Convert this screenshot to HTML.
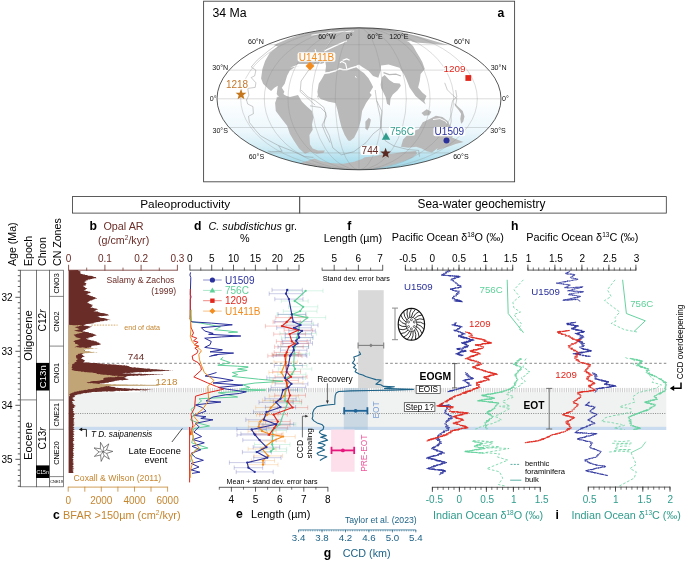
<!DOCTYPE html>
<html lang="en"><head><meta charset="utf-8"><title>Figure</title><style>html,body{margin:0;padding:0;background:#fff}svg{display:block}</style></head><body>
<svg width="685" height="562" viewBox="0 0 685 562" font-family="'Liberation Sans', Arial, sans-serif">
<rect x="0" y="0" width="685" height="562" fill="#fff"/>
<rect x="203.6" y="1.2" width="311.0" height="180.6" fill="#fff" stroke="#444" stroke-width="0.9" />
<text x="212.5" y="17.1" font-size="12.3" fill="#000" text-anchor="start" font-weight="normal" font-style="normal" >34 Ma</text>
<text x="497.4" y="16.6" font-size="12.2" fill="#000" text-anchor="start" font-weight="bold" font-style="normal" >a</text>
<defs><linearGradient id="sea" x1="0" y1="0" x2="0" y2="1"><stop offset="0" stop-color="#fff"/><stop offset="0.5" stop-color="#fff"/><stop offset="0.73" stop-color="#ecf7fc"/><stop offset="0.83" stop-color="#d6eef6"/><stop offset="0.93" stop-color="#afdfed"/><stop offset="1" stop-color="#9bd6e9"/></linearGradient><clipPath id="ell"><ellipse cx="359.0" cy="98.8" rx="142.0" ry="71.0"/></clipPath></defs>
<ellipse cx="359.0" cy="98.8" rx="142.0" ry="71.0" fill="url(#sea)"/>
<g clip-path="url(#ell)">
<polygon points="273.8,45.0 287.8,39.0 305.0,33.0 316.7,29.0 330.1,27.7 330.1,41.0 324.0,50.4 324.0,63.1 320.7,64.0 298.0,64.0 296.7,65.1 290.0,67.7 300.5,65.7 295.1,67.1 289.8,70.4 287.1,75.7 284.7,83.8 281.8,87.8 284.4,91.8 283.1,94.4 278.0,96.0 276.7,93.9 277.8,85.8 274.4,87.8 271.1,91.1 268.4,89.1 263.1,83.8 261.1,78.4 262.4,69.1 265.1,61.1 269.7,53.0 277.8,46.4" fill="#b9b9b9" />
<polygon points="277.8,94.4 283.1,93.8 287.1,97.1 289.8,101.8 284.4,102.4 280.4,99.8" fill="#b9b9b9" />
<polygon points="324.0,63.1 324.0,50.4 330.1,41.0 330.1,27.7 356.8,26.6 380.0,27.4 391.7,30.3 418.4,36.3 447.8,45.0 431.8,43.7 415.7,42.4 407.7,41.0 413.0,46.0 416.4,52.0 419.5,57.0 422.3,62.1 424.8,68.9 420.6,74.0 419.8,80.8 418.1,87.5 422.3,92.6 426.5,96.0 424.3,101.1 425.7,104.4 421.4,101.1 415.5,96.0 409.6,87.5 406.2,79.1 403.9,74.3 399.5,67.7 388.5,64.4 381.5,65.5 381.2,65.0 380.6,70.8 378.3,77.7 373.1,76.0 368.5,70.8 362.7,67.3 359.2,64.8 355.0,66.6 351.3,68.0 346.7,69.5 339.5,68.5 335.4,70.5 325.2,72.8 326.0,66.0 325.0,60.0" fill="#b9b9b9" />
<polyline points="324.0,51.2 334.1,46.4 343.4,42.4 346.7,40.8" fill="none" stroke="#fff" stroke-width="1.3" stroke-linejoin="round" />
<polyline points="311.4,35.1 330.1,32.5 354.1,31.0" fill="none" stroke="#fff" stroke-width="0.9" stroke-linejoin="round" />
<polyline points="315.1,49.3 316.2,53.3" fill="none" stroke="#fff" stroke-width="1.0" stroke-linejoin="round" />
<polyline points="318.7,63.5 321.0,62.7" fill="none" stroke="#fff" stroke-width="0.8" stroke-linejoin="round" />
<polygon points="406.4,41.3 411.1,42.1 418.4,45.0 415.7,43.4 410.4,40.8" fill="#fff" />
<polyline points="421.1,50.4 424.4,55.0 426.4,57.7" fill="none" stroke="#fff" stroke-width="0.9" stroke-linejoin="round" />
<polygon points="325.2,72.8 335.4,70.5 339.5,68.5 346.7,69.5 351.3,68.0 356.0,67.0 359.8,70.2 363.9,73.1 368.5,78.3 371.4,83.5 373.1,87.0 369.7,92.8 371.7,95.0 366.1,103.0 362.1,111.0 360.8,120.4 358.1,129.7 354.1,137.7 350.1,141.1 348.1,140.4 344.7,135.1 341.4,127.0 339.4,119.0 337.4,109.7 335.4,103.0 328.7,101.7 320.7,99.0 316.7,95.0 318.7,100.0 317.4,91.8 318.7,83.8 322.0,78.4" fill="#b9b9b9" />
<polyline points="323.0,73.4 330.0,72.4 335.4,70.8 339.5,68.8 343.0,69.8 346.7,69.7 351.3,68.0 356.0,66.6 359.4,65.2" fill="none" stroke="#fff" stroke-width="1.5" stroke-linejoin="round" />
<polyline points="346.9,69.4 345.6,63.6 341.8,61.4 340.0,62.8" fill="none" stroke="#fff" stroke-width="1.1" stroke-linejoin="round" />
<polyline points="342.6,60.4 346.7,58.9 349.6,60.2" fill="none" stroke="#fff" stroke-width="1.2" stroke-linejoin="round" />
<polyline points="375.7,78.7 378.1,87.8 380.0,100.0" fill="none" stroke="#fff" stroke-width="0.1" stroke-linejoin="round" />
<polyline points="355.2,76.0 356.5,78.1" fill="none" stroke="#fff" stroke-width="0.8" stroke-linejoin="round" />
<polygon points="365.4,121.7 368.8,117.7 370.9,119.8 369.6,126.0 367.4,130.5 365.4,128.4" fill="#b9b9b9" />
<polygon points="380.6,84.7 381.8,77.2 384.7,74.9 389.3,80.1 393.9,82.9 399.7,83.5 400.9,85.8 397.4,90.5 392.8,94.5 390.5,98.6 389.9,105.5 387.0,103.8 385.8,97.4 383.5,92.8 381.2,88.2" fill="#b9b9b9" />
<polyline points="383.5,72.6 389.3,74.6 396.2,74.2 400.9,76.0" fill="none" stroke="#b9b9b9" stroke-width="1.2" stroke-linejoin="round" />
<polygon points="277.8,95.0 275.1,103.0 275.8,111.0 281.8,119.0 287.1,125.7 289.8,133.7 293.8,140.4 299.1,148.4 305.0,153.8 310.0,151.7 316.7,153.8 323.4,153.1 325.0,150.4 318.0,150.4 312.7,148.4 310.0,144.4 309.4,135.1 312.7,129.7 312.0,124.4 313.4,117.7 312.0,111.0 307.4,107.0 302.0,101.7 298.0,95.0 290.0,97.1 282.0,94.4 276.6,97.8" fill="#b9b9b9" />
<polygon points="306.0,161.4 311.4,159.4 314.3,158.6 320.7,161.0 330.1,163.1 343.4,163.8 354.1,161.8 362.1,159.1 364.8,157.2 380.0,155.8 373.0,156.4 382.4,154.4 391.7,153.8 405.1,151.7 416.0,151.1 417.1,153.8 412.0,157.8 405.1,160.4 391.7,165.0 378.4,168.2 365.0,170.0 365.0,180.5 290.0,180.5" fill="#b9b9b9" />
<polygon points="300.0,163.0 306.0,161.5 313.0,160.0 318.0,163.0 322.0,170.0 306.0,168.0" fill="#b9b9b9" />
<polygon points="401.0,146.8 403.1,139.4 409.6,132.8 418.8,128.9 422.8,122.3 430.6,118.4 435.9,115.8 442.5,117.1 447.7,121.0 450.4,126.3 454.3,134.2 450.4,139.4 443.8,143.4 437.2,148.6 432.0,152.5 426.7,151.2 421.5,148.6 416.2,146.8 408.3,147.8" fill="#b9b9b9" />
<polygon points="421.5,113.1 426.7,109.2 431.4,111.8 429.3,115.2 424.1,115.8" fill="#b9b9b9" />
<polyline points="433.0,119.5 440.0,118.6 445.5,121.2 447.2,123.6" fill="none" stroke="#fff" stroke-width="0.9" stroke-linejoin="round" />
<polygon points="439.8,142.0 450.4,136.8 456.9,139.4 463.5,142.0 455.6,144.1 450.4,146.0 442.5,148.6 436.7,150.4" fill="#b9b9b9" />
<polygon points="454.4,103.0 458.4,107.0 462.7,111.0 464.5,116.4 463.2,121.7 461.1,123.8 460.3,119.0 461.1,113.7 458.4,109.7 455.0,105.7" fill="#b9b9b9" />
<ellipse cx="359.0" cy="98.8" rx="23.7" ry="71.0" fill="none" stroke="#8e8e8e" stroke-width="0.32"/>
<ellipse cx="359.0" cy="98.8" rx="47.3" ry="71.0" fill="none" stroke="#8e8e8e" stroke-width="0.32"/>
<ellipse cx="359.0" cy="98.8" rx="71.0" ry="71.0" fill="none" stroke="#8e8e8e" stroke-width="0.32"/>
<ellipse cx="359.0" cy="98.8" rx="94.7" ry="71.0" fill="none" stroke="#8e8e8e" stroke-width="0.32"/>
<ellipse cx="359.0" cy="98.8" rx="118.3" ry="71.0" fill="none" stroke="#8e8e8e" stroke-width="0.32"/>
<line x1="359.0" y1="27.8" x2="359.0" y2="169.8" stroke="#8e8e8e" stroke-width="0.32" />
<line x1="217.0" y1="98.8" x2="501.0" y2="98.8" stroke="#8e8e8e" stroke-width="0.32" />
<line x1="217.0" y1="70.1" x2="501.0" y2="70.1" stroke="#8e8e8e" stroke-width="0.32" />
<line x1="217.0" y1="127.5" x2="501.0" y2="127.5" stroke="#8e8e8e" stroke-width="0.32" />
<line x1="217.0" y1="44.7" x2="501.0" y2="44.7" stroke="#8e8e8e" stroke-width="0.32" />
<line x1="217.0" y1="152.9" x2="501.0" y2="152.9" stroke="#8e8e8e" stroke-width="0.32" />
<polyline points="277.4,44.3 267.8,51.3 257.3,60.0 251.2,67.0 255.9,70.2 254.7,75.8 251.2,77.6 255.9,82.8 255.2,87.4 247.7,88.4 248.9,95.1 246.4,100.3" fill="none" stroke="#7d7d7d" stroke-width="0.4" stroke-linejoin="round" />
<polyline points="246.4,99.6 247.7,104.0 252.9,106.6 253.4,113.7 248.5,116.3 249.4,122.4 255.6,130.3 260.8,135.9 269.6,140.8 278.7,145.7 282.2,151.3 271.3,151.7 267.8,151.0" fill="none" stroke="#7d7d7d" stroke-width="0.4" stroke-linejoin="round" />
<polyline points="278.7,145.7 292.3,151.0 304.6,156.6 313.4,157.4" fill="none" stroke="#7d7d7d" stroke-width="0.4" stroke-linejoin="round" />
<polyline points="322.1,54.8 315.1,62.7 308.1,70.9 301.1,81.1 300.2,91.6 308.1,98.6 315.1,105.1" fill="none" stroke="#7d7d7d" stroke-width="0.4" stroke-linejoin="round" />
<polyline points="301.1,90.0 308.1,97.0 315.1,100.5 323.9,107.5 326.5,116.3 322.1,125.0 325.6,133.8 330.0,142.6" fill="none" stroke="#7d7d7d" stroke-width="0.4" stroke-linejoin="round" />
<polyline points="310.0,105.8 320.5,107.5 325.8,112.8 324.0,125.0 329.3,135.6 332.8,147.8 341.5,154.8 353.8,151.7 366.1,142.6 373.1,133.8 381.0,127.7 380.1,116.3 376.6,100.5 375.2,90.0" fill="none" stroke="#7d7d7d" stroke-width="0.4" stroke-linejoin="round" />
<polyline points="381.0,127.7 385.3,140.8 394.1,146.1 408.1,149.6 418.6,150.4 419.5,156.6" fill="none" stroke="#7d7d7d" stroke-width="0.4" stroke-linejoin="round" />
<polyline points="376.6,100.5 381.8,111.0 381.0,127.7" fill="none" stroke="#7d7d7d" stroke-width="0.4" stroke-linejoin="round" />
<polyline points="444.7,82.8 447.3,89.8 452.6,95.1 456.9,98.6 455.7,105.1" fill="none" stroke="#7d7d7d" stroke-width="0.4" stroke-linejoin="round" />
<polyline points="455.7,90.0 456.9,97.0 452.6,100.5 450.8,109.3 451.2,121.5 449.1,130.3" fill="none" stroke="#7d7d7d" stroke-width="0.4" stroke-linejoin="round" />
</g>
<ellipse cx="359.0" cy="98.8" rx="142.0" ry="71.0" fill="none" stroke="#222" stroke-width="0.75"/>
<text x="255.9" y="44.4" font-size="7.1" fill="#111" text-anchor="middle" font-weight="normal" font-style="normal" >60°N</text>
<text x="220.2" y="70.2" font-size="7.1" fill="#111" text-anchor="middle" font-weight="normal" font-style="normal" >30°N</text>
<text x="213.1" y="101.4" font-size="7.1" fill="#111" text-anchor="middle" font-weight="normal" font-style="normal" >0°</text>
<text x="220.2" y="132.6" font-size="7.1" fill="#111" text-anchor="middle" font-weight="normal" font-style="normal" >30°S</text>
<text x="256.4" y="158.9" font-size="7.1" fill="#111" text-anchor="middle" font-weight="normal" font-style="normal" >60°S</text>
<text x="461.9" y="44.4" font-size="7.1" fill="#111" text-anchor="middle" font-weight="normal" font-style="normal" >60°N</text>
<text x="498.6" y="70.2" font-size="7.1" fill="#111" text-anchor="middle" font-weight="normal" font-style="normal" >30°N</text>
<text x="505.5" y="101.4" font-size="7.1" fill="#111" text-anchor="middle" font-weight="normal" font-style="normal" >0°</text>
<text x="498.1" y="132.6" font-size="7.1" fill="#111" text-anchor="middle" font-weight="normal" font-style="normal" >30°S</text>
<text x="460.9" y="158.9" font-size="7.1" fill="#111" text-anchor="middle" font-weight="normal" font-style="normal" >60°S</text>
<text x="326.9" y="39.2" font-size="7.1" fill="#111" text-anchor="middle" font-weight="normal" font-style="normal" >60°W</text>
<text x="349.2" y="39.2" font-size="7.1" fill="#111" text-anchor="middle" font-weight="normal" font-style="normal" >0°</text>
<text x="375.0" y="39.2" font-size="7.1" fill="#111" text-anchor="middle" font-weight="normal" font-style="normal" >60°E</text>
<text x="398.9" y="39.2" font-size="7.1" fill="#111" text-anchor="middle" font-weight="normal" font-style="normal" >120°E</text>
<text x="237.0" y="88.3" font-size="10" fill="#c5782a" text-anchor="middle" stroke="#fff" stroke-width="2.6" stroke-linejoin="round" stroke-opacity="0.9" paint-order="stroke">1218</text>
<polygon points="241.0,88.9 242.4,92.7 246.4,92.8 243.3,95.3 244.4,99.2 241.0,97.0 237.6,99.2 238.7,95.3 235.6,92.8 239.6,92.7" fill="#c4771d" />
<rect x="297.6" y="52.3" width="37.8" height="9.4" rx="2" ry="2" fill="#fff" fill-opacity="0.92"/>
<text x="316.5" y="60.6" font-size="10" fill="#f28c1e" text-anchor="middle" font-weight="normal" font-style="normal" >U1411B</text>
<polygon points="310.0,61.7 314.4,66.1 310.0,70.5 305.6,66.1" fill="#f28c1e" />
<text x="454.4" y="72.0" font-size="9.9" fill="#e1261c" text-anchor="middle" stroke="#fff" stroke-width="2.6" stroke-linejoin="round" stroke-opacity="0.9" paint-order="stroke">1209</text>
<rect x="465.4" y="75.1" width="5.8" height="5.8" fill="#e1261c" stroke="none" stroke-width="1" />
<rect x="388.8" y="126.3" width="26.3" height="9.4" rx="2" ry="2" fill="#fff" fill-opacity="0.92"/>
<text x="390.0" y="134.6" font-size="10" fill="#2f9c8c" text-anchor="start" font-weight="normal" font-style="normal" >756C</text>
<polygon points="386.0,132.4 390.2,139.8 381.8,139.8" fill="#2f9c8c" />
<rect x="360.4" y="145.6" width="19.1" height="9.4" rx="2" ry="2" fill="#fff" fill-opacity="0.92"/>
<text x="361.6" y="153.9" font-size="10" fill="#6a2c27" text-anchor="start" font-weight="normal" font-style="normal" >744</text>
<polygon points="385.6,147.7 387.0,151.4 390.9,151.6 387.8,154.0 388.9,157.8 385.6,155.7 382.3,157.8 383.4,154.0 380.3,151.6 384.2,151.4" fill="#5a2a22" />
<rect x="433.4" y="126.9" width="31.9" height="9.4" rx="2" ry="2" fill="#fff" fill-opacity="0.92"/>
<text x="434.6" y="135.2" font-size="10" fill="#2a309c" text-anchor="start" font-weight="normal" font-style="normal" >U1509</text>
<circle cx="446.5" cy="140.6" r="3.0" fill="#2a309c"/>
<rect x="68.6" y="392.3" width="597.7" height="34.7" fill="#f0f2f1" stroke="none" stroke-width="1" />
<rect x="68.6" y="426.8" width="597.7" height="3.2" fill="#c9dcef" stroke="none" stroke-width="1" />
<rect x="140.3" y="387.9" width="1.1" height="4.4" fill="#d0d0d0" stroke="none" stroke-width="1" />
<rect x="142.5" y="387.9" width="1.1" height="4.4" fill="#d0d0d0" stroke="none" stroke-width="1" />
<rect x="144.8" y="387.9" width="1.1" height="4.4" fill="#d0d0d0" stroke="none" stroke-width="1" />
<rect x="147.0" y="387.9" width="1.1" height="4.4" fill="#d0d0d0" stroke="none" stroke-width="1" />
<rect x="149.3" y="387.9" width="1.1" height="4.4" fill="#d0d0d0" stroke="none" stroke-width="1" />
<rect x="151.5" y="387.9" width="1.1" height="4.4" fill="#d0d0d0" stroke="none" stroke-width="1" />
<rect x="153.7" y="387.9" width="1.1" height="4.4" fill="#d0d0d0" stroke="none" stroke-width="1" />
<rect x="156.0" y="387.9" width="1.1" height="4.4" fill="#d0d0d0" stroke="none" stroke-width="1" />
<rect x="158.2" y="387.9" width="1.1" height="4.4" fill="#d0d0d0" stroke="none" stroke-width="1" />
<rect x="160.5" y="387.9" width="1.1" height="4.4" fill="#d0d0d0" stroke="none" stroke-width="1" />
<rect x="162.7" y="387.9" width="1.1" height="4.4" fill="#d0d0d0" stroke="none" stroke-width="1" />
<rect x="164.9" y="387.9" width="1.1" height="4.4" fill="#d0d0d0" stroke="none" stroke-width="1" />
<rect x="167.2" y="387.9" width="1.1" height="4.4" fill="#d0d0d0" stroke="none" stroke-width="1" />
<rect x="169.4" y="387.9" width="1.1" height="4.4" fill="#d0d0d0" stroke="none" stroke-width="1" />
<rect x="171.7" y="387.9" width="1.1" height="4.4" fill="#d0d0d0" stroke="none" stroke-width="1" />
<rect x="173.9" y="387.9" width="1.1" height="4.4" fill="#d0d0d0" stroke="none" stroke-width="1" />
<rect x="176.1" y="387.9" width="1.1" height="4.4" fill="#d0d0d0" stroke="none" stroke-width="1" />
<rect x="178.4" y="387.9" width="1.1" height="4.4" fill="#d0d0d0" stroke="none" stroke-width="1" />
<rect x="180.6" y="387.9" width="1.1" height="4.4" fill="#d0d0d0" stroke="none" stroke-width="1" />
<rect x="182.9" y="387.9" width="1.1" height="4.4" fill="#d0d0d0" stroke="none" stroke-width="1" />
<rect x="185.1" y="387.9" width="1.1" height="4.4" fill="#d0d0d0" stroke="none" stroke-width="1" />
<rect x="187.3" y="387.9" width="1.1" height="4.4" fill="#d0d0d0" stroke="none" stroke-width="1" />
<rect x="189.6" y="387.9" width="1.1" height="4.4" fill="#d0d0d0" stroke="none" stroke-width="1" />
<rect x="191.8" y="387.9" width="1.1" height="4.4" fill="#d0d0d0" stroke="none" stroke-width="1" />
<rect x="194.1" y="387.9" width="1.1" height="4.4" fill="#d0d0d0" stroke="none" stroke-width="1" />
<rect x="196.3" y="387.9" width="1.1" height="4.4" fill="#d0d0d0" stroke="none" stroke-width="1" />
<rect x="198.5" y="387.9" width="1.1" height="4.4" fill="#d0d0d0" stroke="none" stroke-width="1" />
<rect x="200.8" y="387.9" width="1.1" height="4.4" fill="#d0d0d0" stroke="none" stroke-width="1" />
<rect x="203.0" y="387.9" width="1.1" height="4.4" fill="#d0d0d0" stroke="none" stroke-width="1" />
<rect x="205.3" y="387.9" width="1.1" height="4.4" fill="#d0d0d0" stroke="none" stroke-width="1" />
<rect x="207.5" y="387.9" width="1.1" height="4.4" fill="#d0d0d0" stroke="none" stroke-width="1" />
<rect x="209.7" y="387.9" width="1.1" height="4.4" fill="#d0d0d0" stroke="none" stroke-width="1" />
<rect x="212.0" y="387.9" width="1.1" height="4.4" fill="#d0d0d0" stroke="none" stroke-width="1" />
<rect x="214.2" y="387.9" width="1.1" height="4.4" fill="#d0d0d0" stroke="none" stroke-width="1" />
<rect x="216.5" y="387.9" width="1.1" height="4.4" fill="#d0d0d0" stroke="none" stroke-width="1" />
<rect x="218.7" y="387.9" width="1.1" height="4.4" fill="#d0d0d0" stroke="none" stroke-width="1" />
<rect x="220.9" y="387.9" width="1.1" height="4.4" fill="#d0d0d0" stroke="none" stroke-width="1" />
<rect x="223.2" y="387.9" width="1.1" height="4.4" fill="#d0d0d0" stroke="none" stroke-width="1" />
<rect x="225.4" y="387.9" width="1.1" height="4.4" fill="#d0d0d0" stroke="none" stroke-width="1" />
<rect x="227.7" y="387.9" width="1.1" height="4.4" fill="#d0d0d0" stroke="none" stroke-width="1" />
<rect x="229.9" y="387.9" width="1.1" height="4.4" fill="#d0d0d0" stroke="none" stroke-width="1" />
<rect x="232.1" y="387.9" width="1.1" height="4.4" fill="#d0d0d0" stroke="none" stroke-width="1" />
<rect x="234.4" y="387.9" width="1.1" height="4.4" fill="#d0d0d0" stroke="none" stroke-width="1" />
<rect x="236.6" y="387.9" width="1.1" height="4.4" fill="#d0d0d0" stroke="none" stroke-width="1" />
<rect x="238.9" y="387.9" width="1.1" height="4.4" fill="#d0d0d0" stroke="none" stroke-width="1" />
<rect x="241.1" y="387.9" width="1.1" height="4.4" fill="#d0d0d0" stroke="none" stroke-width="1" />
<rect x="243.3" y="387.9" width="1.1" height="4.4" fill="#d0d0d0" stroke="none" stroke-width="1" />
<rect x="245.6" y="387.9" width="1.1" height="4.4" fill="#d0d0d0" stroke="none" stroke-width="1" />
<rect x="247.8" y="387.9" width="1.1" height="4.4" fill="#d0d0d0" stroke="none" stroke-width="1" />
<rect x="250.1" y="387.9" width="1.1" height="4.4" fill="#d0d0d0" stroke="none" stroke-width="1" />
<rect x="252.3" y="387.9" width="1.1" height="4.4" fill="#d0d0d0" stroke="none" stroke-width="1" />
<rect x="254.5" y="387.9" width="1.1" height="4.4" fill="#d0d0d0" stroke="none" stroke-width="1" />
<rect x="256.8" y="387.9" width="1.1" height="4.4" fill="#d0d0d0" stroke="none" stroke-width="1" />
<rect x="259.0" y="387.9" width="1.1" height="4.4" fill="#d0d0d0" stroke="none" stroke-width="1" />
<rect x="261.3" y="387.9" width="1.1" height="4.4" fill="#d0d0d0" stroke="none" stroke-width="1" />
<rect x="263.5" y="387.9" width="1.1" height="4.4" fill="#d0d0d0" stroke="none" stroke-width="1" />
<rect x="265.7" y="387.9" width="1.1" height="4.4" fill="#d0d0d0" stroke="none" stroke-width="1" />
<rect x="268.0" y="387.9" width="1.1" height="4.4" fill="#d0d0d0" stroke="none" stroke-width="1" />
<rect x="270.2" y="387.9" width="1.1" height="4.4" fill="#d0d0d0" stroke="none" stroke-width="1" />
<rect x="272.5" y="387.9" width="1.1" height="4.4" fill="#d0d0d0" stroke="none" stroke-width="1" />
<rect x="274.7" y="387.9" width="1.1" height="4.4" fill="#d0d0d0" stroke="none" stroke-width="1" />
<rect x="276.9" y="387.9" width="1.1" height="4.4" fill="#d0d0d0" stroke="none" stroke-width="1" />
<rect x="279.2" y="387.9" width="1.1" height="4.4" fill="#d0d0d0" stroke="none" stroke-width="1" />
<rect x="281.4" y="387.9" width="1.1" height="4.4" fill="#d0d0d0" stroke="none" stroke-width="1" />
<rect x="283.7" y="387.9" width="1.1" height="4.4" fill="#d0d0d0" stroke="none" stroke-width="1" />
<rect x="285.9" y="387.9" width="1.1" height="4.4" fill="#d0d0d0" stroke="none" stroke-width="1" />
<rect x="288.1" y="387.9" width="1.1" height="4.4" fill="#d0d0d0" stroke="none" stroke-width="1" />
<rect x="290.4" y="387.9" width="1.1" height="4.4" fill="#d0d0d0" stroke="none" stroke-width="1" />
<rect x="292.6" y="387.9" width="1.1" height="4.4" fill="#d0d0d0" stroke="none" stroke-width="1" />
<rect x="294.9" y="387.9" width="1.1" height="4.4" fill="#d0d0d0" stroke="none" stroke-width="1" />
<rect x="297.1" y="387.9" width="1.1" height="4.4" fill="#d0d0d0" stroke="none" stroke-width="1" />
<rect x="299.3" y="387.9" width="1.1" height="4.4" fill="#d0d0d0" stroke="none" stroke-width="1" />
<rect x="301.6" y="387.9" width="1.1" height="4.4" fill="#d0d0d0" stroke="none" stroke-width="1" />
<rect x="303.8" y="387.9" width="1.1" height="4.4" fill="#d0d0d0" stroke="none" stroke-width="1" />
<rect x="306.1" y="387.9" width="1.1" height="4.4" fill="#d0d0d0" stroke="none" stroke-width="1" />
<rect x="308.3" y="387.9" width="1.1" height="4.4" fill="#d0d0d0" stroke="none" stroke-width="1" />
<rect x="310.5" y="387.9" width="1.1" height="4.4" fill="#d0d0d0" stroke="none" stroke-width="1" />
<rect x="312.8" y="387.9" width="1.1" height="4.4" fill="#d0d0d0" stroke="none" stroke-width="1" />
<rect x="315.0" y="387.9" width="1.1" height="4.4" fill="#d0d0d0" stroke="none" stroke-width="1" />
<rect x="317.3" y="387.9" width="1.1" height="4.4" fill="#d0d0d0" stroke="none" stroke-width="1" />
<rect x="319.5" y="387.9" width="1.1" height="4.4" fill="#d0d0d0" stroke="none" stroke-width="1" />
<rect x="321.7" y="387.9" width="1.1" height="4.4" fill="#d0d0d0" stroke="none" stroke-width="1" />
<rect x="324.0" y="387.9" width="1.1" height="4.4" fill="#d0d0d0" stroke="none" stroke-width="1" />
<rect x="326.2" y="387.9" width="1.1" height="4.4" fill="#d0d0d0" stroke="none" stroke-width="1" />
<rect x="328.5" y="387.9" width="1.1" height="4.4" fill="#d0d0d0" stroke="none" stroke-width="1" />
<rect x="330.7" y="387.9" width="1.1" height="4.4" fill="#d0d0d0" stroke="none" stroke-width="1" />
<rect x="332.9" y="387.9" width="1.1" height="4.4" fill="#d0d0d0" stroke="none" stroke-width="1" />
<rect x="335.2" y="387.9" width="1.1" height="4.4" fill="#d0d0d0" stroke="none" stroke-width="1" />
<rect x="337.4" y="387.9" width="1.1" height="4.4" fill="#d0d0d0" stroke="none" stroke-width="1" />
<rect x="339.7" y="387.9" width="1.1" height="4.4" fill="#d0d0d0" stroke="none" stroke-width="1" />
<rect x="341.9" y="387.9" width="1.1" height="4.4" fill="#d0d0d0" stroke="none" stroke-width="1" />
<rect x="344.1" y="387.9" width="1.1" height="4.4" fill="#d0d0d0" stroke="none" stroke-width="1" />
<rect x="346.4" y="387.9" width="1.1" height="4.4" fill="#d0d0d0" stroke="none" stroke-width="1" />
<rect x="348.6" y="387.9" width="1.1" height="4.4" fill="#d0d0d0" stroke="none" stroke-width="1" />
<rect x="350.9" y="387.9" width="1.1" height="4.4" fill="#d0d0d0" stroke="none" stroke-width="1" />
<rect x="353.1" y="387.9" width="1.1" height="4.4" fill="#d0d0d0" stroke="none" stroke-width="1" />
<rect x="355.3" y="387.9" width="1.1" height="4.4" fill="#d0d0d0" stroke="none" stroke-width="1" />
<rect x="357.6" y="387.9" width="1.1" height="4.4" fill="#d0d0d0" stroke="none" stroke-width="1" />
<rect x="359.8" y="387.9" width="1.1" height="4.4" fill="#d0d0d0" stroke="none" stroke-width="1" />
<rect x="362.1" y="387.9" width="1.1" height="4.4" fill="#d0d0d0" stroke="none" stroke-width="1" />
<rect x="364.3" y="387.9" width="1.1" height="4.4" fill="#d0d0d0" stroke="none" stroke-width="1" />
<rect x="366.5" y="387.9" width="1.1" height="4.4" fill="#d0d0d0" stroke="none" stroke-width="1" />
<rect x="368.8" y="387.9" width="1.1" height="4.4" fill="#d0d0d0" stroke="none" stroke-width="1" />
<rect x="371.0" y="387.9" width="1.1" height="4.4" fill="#d0d0d0" stroke="none" stroke-width="1" />
<rect x="373.3" y="387.9" width="1.1" height="4.4" fill="#d0d0d0" stroke="none" stroke-width="1" />
<rect x="375.5" y="387.9" width="1.1" height="4.4" fill="#d0d0d0" stroke="none" stroke-width="1" />
<rect x="377.7" y="387.9" width="1.1" height="4.4" fill="#d0d0d0" stroke="none" stroke-width="1" />
<rect x="380.0" y="387.9" width="1.1" height="4.4" fill="#d0d0d0" stroke="none" stroke-width="1" />
<rect x="382.2" y="387.9" width="1.1" height="4.4" fill="#d0d0d0" stroke="none" stroke-width="1" />
<rect x="384.5" y="387.9" width="1.1" height="4.4" fill="#d0d0d0" stroke="none" stroke-width="1" />
<rect x="386.7" y="387.9" width="1.1" height="4.4" fill="#d0d0d0" stroke="none" stroke-width="1" />
<rect x="388.9" y="387.9" width="1.1" height="4.4" fill="#d0d0d0" stroke="none" stroke-width="1" />
<rect x="391.2" y="387.9" width="1.1" height="4.4" fill="#d0d0d0" stroke="none" stroke-width="1" />
<rect x="393.4" y="387.9" width="1.1" height="4.4" fill="#d0d0d0" stroke="none" stroke-width="1" />
<rect x="395.7" y="387.9" width="1.1" height="4.4" fill="#d0d0d0" stroke="none" stroke-width="1" />
<rect x="397.9" y="387.9" width="1.1" height="4.4" fill="#d0d0d0" stroke="none" stroke-width="1" />
<rect x="400.1" y="387.9" width="1.1" height="4.4" fill="#d0d0d0" stroke="none" stroke-width="1" />
<rect x="402.4" y="387.9" width="1.1" height="4.4" fill="#d0d0d0" stroke="none" stroke-width="1" />
<rect x="404.6" y="387.9" width="1.1" height="4.4" fill="#d0d0d0" stroke="none" stroke-width="1" />
<rect x="406.9" y="387.9" width="1.1" height="4.4" fill="#d0d0d0" stroke="none" stroke-width="1" />
<rect x="409.1" y="387.9" width="1.1" height="4.4" fill="#d0d0d0" stroke="none" stroke-width="1" />
<rect x="411.3" y="387.9" width="1.1" height="4.4" fill="#d0d0d0" stroke="none" stroke-width="1" />
<rect x="413.6" y="387.9" width="1.1" height="4.4" fill="#d0d0d0" stroke="none" stroke-width="1" />
<rect x="415.8" y="387.9" width="1.1" height="4.4" fill="#d0d0d0" stroke="none" stroke-width="1" />
<rect x="418.1" y="387.9" width="1.1" height="4.4" fill="#d0d0d0" stroke="none" stroke-width="1" />
<rect x="420.3" y="387.9" width="1.1" height="4.4" fill="#d0d0d0" stroke="none" stroke-width="1" />
<rect x="422.5" y="387.9" width="1.1" height="4.4" fill="#d0d0d0" stroke="none" stroke-width="1" />
<rect x="424.8" y="387.9" width="1.1" height="4.4" fill="#d0d0d0" stroke="none" stroke-width="1" />
<rect x="427.0" y="387.9" width="1.1" height="4.4" fill="#d0d0d0" stroke="none" stroke-width="1" />
<rect x="429.3" y="387.9" width="1.1" height="4.4" fill="#d0d0d0" stroke="none" stroke-width="1" />
<rect x="431.5" y="387.9" width="1.1" height="4.4" fill="#d0d0d0" stroke="none" stroke-width="1" />
<rect x="433.7" y="387.9" width="1.1" height="4.4" fill="#d0d0d0" stroke="none" stroke-width="1" />
<rect x="436.0" y="387.9" width="1.1" height="4.4" fill="#d0d0d0" stroke="none" stroke-width="1" />
<rect x="438.2" y="387.9" width="1.1" height="4.4" fill="#d0d0d0" stroke="none" stroke-width="1" />
<rect x="440.5" y="387.9" width="1.1" height="4.4" fill="#d0d0d0" stroke="none" stroke-width="1" />
<rect x="442.7" y="387.9" width="1.1" height="4.4" fill="#d0d0d0" stroke="none" stroke-width="1" />
<rect x="444.9" y="387.9" width="1.1" height="4.4" fill="#d0d0d0" stroke="none" stroke-width="1" />
<rect x="447.2" y="387.9" width="1.1" height="4.4" fill="#d0d0d0" stroke="none" stroke-width="1" />
<rect x="449.4" y="387.9" width="1.1" height="4.4" fill="#d0d0d0" stroke="none" stroke-width="1" />
<rect x="451.7" y="387.9" width="1.1" height="4.4" fill="#d0d0d0" stroke="none" stroke-width="1" />
<rect x="453.9" y="387.9" width="1.1" height="4.4" fill="#d0d0d0" stroke="none" stroke-width="1" />
<rect x="456.1" y="387.9" width="1.1" height="4.4" fill="#d0d0d0" stroke="none" stroke-width="1" />
<rect x="458.4" y="387.9" width="1.1" height="4.4" fill="#d0d0d0" stroke="none" stroke-width="1" />
<rect x="460.6" y="387.9" width="1.1" height="4.4" fill="#d0d0d0" stroke="none" stroke-width="1" />
<rect x="462.9" y="387.9" width="1.1" height="4.4" fill="#d0d0d0" stroke="none" stroke-width="1" />
<rect x="465.1" y="387.9" width="1.1" height="4.4" fill="#d0d0d0" stroke="none" stroke-width="1" />
<rect x="467.3" y="387.9" width="1.1" height="4.4" fill="#d0d0d0" stroke="none" stroke-width="1" />
<rect x="469.6" y="387.9" width="1.1" height="4.4" fill="#d0d0d0" stroke="none" stroke-width="1" />
<rect x="471.8" y="387.9" width="1.1" height="4.4" fill="#d0d0d0" stroke="none" stroke-width="1" />
<rect x="474.1" y="387.9" width="1.1" height="4.4" fill="#d0d0d0" stroke="none" stroke-width="1" />
<rect x="476.3" y="387.9" width="1.1" height="4.4" fill="#d0d0d0" stroke="none" stroke-width="1" />
<rect x="478.5" y="387.9" width="1.1" height="4.4" fill="#d0d0d0" stroke="none" stroke-width="1" />
<rect x="480.8" y="387.9" width="1.1" height="4.4" fill="#d0d0d0" stroke="none" stroke-width="1" />
<rect x="483.0" y="387.9" width="1.1" height="4.4" fill="#d0d0d0" stroke="none" stroke-width="1" />
<rect x="485.3" y="387.9" width="1.1" height="4.4" fill="#d0d0d0" stroke="none" stroke-width="1" />
<rect x="487.5" y="387.9" width="1.1" height="4.4" fill="#d0d0d0" stroke="none" stroke-width="1" />
<rect x="489.7" y="387.9" width="1.1" height="4.4" fill="#d0d0d0" stroke="none" stroke-width="1" />
<rect x="492.0" y="387.9" width="1.1" height="4.4" fill="#d0d0d0" stroke="none" stroke-width="1" />
<rect x="494.2" y="387.9" width="1.1" height="4.4" fill="#d0d0d0" stroke="none" stroke-width="1" />
<rect x="496.5" y="387.9" width="1.1" height="4.4" fill="#d0d0d0" stroke="none" stroke-width="1" />
<rect x="498.7" y="387.9" width="1.1" height="4.4" fill="#d0d0d0" stroke="none" stroke-width="1" />
<rect x="500.9" y="387.9" width="1.1" height="4.4" fill="#d0d0d0" stroke="none" stroke-width="1" />
<rect x="503.2" y="387.9" width="1.1" height="4.4" fill="#d0d0d0" stroke="none" stroke-width="1" />
<rect x="505.4" y="387.9" width="1.1" height="4.4" fill="#d0d0d0" stroke="none" stroke-width="1" />
<rect x="507.7" y="387.9" width="1.1" height="4.4" fill="#d0d0d0" stroke="none" stroke-width="1" />
<rect x="509.9" y="387.9" width="1.1" height="4.4" fill="#d0d0d0" stroke="none" stroke-width="1" />
<rect x="512.1" y="387.9" width="1.1" height="4.4" fill="#d0d0d0" stroke="none" stroke-width="1" />
<rect x="514.4" y="387.9" width="1.1" height="4.4" fill="#d0d0d0" stroke="none" stroke-width="1" />
<rect x="516.6" y="387.9" width="1.1" height="4.4" fill="#d0d0d0" stroke="none" stroke-width="1" />
<rect x="518.9" y="387.9" width="1.1" height="4.4" fill="#d0d0d0" stroke="none" stroke-width="1" />
<rect x="521.1" y="387.9" width="1.1" height="4.4" fill="#d0d0d0" stroke="none" stroke-width="1" />
<rect x="523.3" y="387.9" width="1.1" height="4.4" fill="#d0d0d0" stroke="none" stroke-width="1" />
<rect x="525.6" y="387.9" width="1.1" height="4.4" fill="#d0d0d0" stroke="none" stroke-width="1" />
<rect x="527.8" y="387.9" width="1.1" height="4.4" fill="#d0d0d0" stroke="none" stroke-width="1" />
<rect x="530.1" y="387.9" width="1.1" height="4.4" fill="#d0d0d0" stroke="none" stroke-width="1" />
<rect x="532.3" y="387.9" width="1.1" height="4.4" fill="#d0d0d0" stroke="none" stroke-width="1" />
<rect x="534.5" y="387.9" width="1.1" height="4.4" fill="#d0d0d0" stroke="none" stroke-width="1" />
<rect x="536.8" y="387.9" width="1.1" height="4.4" fill="#d0d0d0" stroke="none" stroke-width="1" />
<rect x="539.0" y="387.9" width="1.1" height="4.4" fill="#d0d0d0" stroke="none" stroke-width="1" />
<rect x="541.3" y="387.9" width="1.1" height="4.4" fill="#d0d0d0" stroke="none" stroke-width="1" />
<rect x="543.5" y="387.9" width="1.1" height="4.4" fill="#d0d0d0" stroke="none" stroke-width="1" />
<rect x="545.7" y="387.9" width="1.1" height="4.4" fill="#d0d0d0" stroke="none" stroke-width="1" />
<rect x="548.0" y="387.9" width="1.1" height="4.4" fill="#d0d0d0" stroke="none" stroke-width="1" />
<rect x="550.2" y="387.9" width="1.1" height="4.4" fill="#d0d0d0" stroke="none" stroke-width="1" />
<rect x="552.5" y="387.9" width="1.1" height="4.4" fill="#d0d0d0" stroke="none" stroke-width="1" />
<rect x="554.7" y="387.9" width="1.1" height="4.4" fill="#d0d0d0" stroke="none" stroke-width="1" />
<rect x="556.9" y="387.9" width="1.1" height="4.4" fill="#d0d0d0" stroke="none" stroke-width="1" />
<rect x="559.2" y="387.9" width="1.1" height="4.4" fill="#d0d0d0" stroke="none" stroke-width="1" />
<rect x="561.4" y="387.9" width="1.1" height="4.4" fill="#d0d0d0" stroke="none" stroke-width="1" />
<rect x="563.7" y="387.9" width="1.1" height="4.4" fill="#d0d0d0" stroke="none" stroke-width="1" />
<rect x="565.9" y="387.9" width="1.1" height="4.4" fill="#d0d0d0" stroke="none" stroke-width="1" />
<rect x="568.1" y="387.9" width="1.1" height="4.4" fill="#d0d0d0" stroke="none" stroke-width="1" />
<rect x="570.4" y="387.9" width="1.1" height="4.4" fill="#d0d0d0" stroke="none" stroke-width="1" />
<rect x="572.6" y="387.9" width="1.1" height="4.4" fill="#d0d0d0" stroke="none" stroke-width="1" />
<rect x="574.9" y="387.9" width="1.1" height="4.4" fill="#d0d0d0" stroke="none" stroke-width="1" />
<rect x="577.1" y="387.9" width="1.1" height="4.4" fill="#d0d0d0" stroke="none" stroke-width="1" />
<rect x="579.3" y="387.9" width="1.1" height="4.4" fill="#d0d0d0" stroke="none" stroke-width="1" />
<rect x="581.6" y="387.9" width="1.1" height="4.4" fill="#d0d0d0" stroke="none" stroke-width="1" />
<rect x="583.8" y="387.9" width="1.1" height="4.4" fill="#d0d0d0" stroke="none" stroke-width="1" />
<rect x="586.1" y="387.9" width="1.1" height="4.4" fill="#d0d0d0" stroke="none" stroke-width="1" />
<rect x="588.3" y="387.9" width="1.1" height="4.4" fill="#d0d0d0" stroke="none" stroke-width="1" />
<rect x="590.5" y="387.9" width="1.1" height="4.4" fill="#d0d0d0" stroke="none" stroke-width="1" />
<rect x="592.8" y="387.9" width="1.1" height="4.4" fill="#d0d0d0" stroke="none" stroke-width="1" />
<rect x="595.0" y="387.9" width="1.1" height="4.4" fill="#d0d0d0" stroke="none" stroke-width="1" />
<rect x="597.3" y="387.9" width="1.1" height="4.4" fill="#d0d0d0" stroke="none" stroke-width="1" />
<rect x="599.5" y="387.9" width="1.1" height="4.4" fill="#d0d0d0" stroke="none" stroke-width="1" />
<rect x="601.7" y="387.9" width="1.1" height="4.4" fill="#d0d0d0" stroke="none" stroke-width="1" />
<rect x="604.0" y="387.9" width="1.1" height="4.4" fill="#d0d0d0" stroke="none" stroke-width="1" />
<rect x="606.2" y="387.9" width="1.1" height="4.4" fill="#d0d0d0" stroke="none" stroke-width="1" />
<rect x="608.5" y="387.9" width="1.1" height="4.4" fill="#d0d0d0" stroke="none" stroke-width="1" />
<rect x="610.7" y="387.9" width="1.1" height="4.4" fill="#d0d0d0" stroke="none" stroke-width="1" />
<rect x="612.9" y="387.9" width="1.1" height="4.4" fill="#d0d0d0" stroke="none" stroke-width="1" />
<rect x="615.2" y="387.9" width="1.1" height="4.4" fill="#d0d0d0" stroke="none" stroke-width="1" />
<rect x="617.4" y="387.9" width="1.1" height="4.4" fill="#d0d0d0" stroke="none" stroke-width="1" />
<rect x="619.7" y="387.9" width="1.1" height="4.4" fill="#d0d0d0" stroke="none" stroke-width="1" />
<rect x="621.9" y="387.9" width="1.1" height="4.4" fill="#d0d0d0" stroke="none" stroke-width="1" />
<rect x="624.1" y="387.9" width="1.1" height="4.4" fill="#d0d0d0" stroke="none" stroke-width="1" />
<rect x="626.4" y="387.9" width="1.1" height="4.4" fill="#d0d0d0" stroke="none" stroke-width="1" />
<rect x="628.6" y="387.9" width="1.1" height="4.4" fill="#d0d0d0" stroke="none" stroke-width="1" />
<rect x="630.9" y="387.9" width="1.1" height="4.4" fill="#d0d0d0" stroke="none" stroke-width="1" />
<rect x="633.1" y="387.9" width="1.1" height="4.4" fill="#d0d0d0" stroke="none" stroke-width="1" />
<rect x="635.3" y="387.9" width="1.1" height="4.4" fill="#d0d0d0" stroke="none" stroke-width="1" />
<rect x="637.6" y="387.9" width="1.1" height="4.4" fill="#d0d0d0" stroke="none" stroke-width="1" />
<rect x="639.8" y="387.9" width="1.1" height="4.4" fill="#d0d0d0" stroke="none" stroke-width="1" />
<rect x="642.1" y="387.9" width="1.1" height="4.4" fill="#d0d0d0" stroke="none" stroke-width="1" />
<rect x="644.3" y="387.9" width="1.1" height="4.4" fill="#d0d0d0" stroke="none" stroke-width="1" />
<rect x="646.5" y="387.9" width="1.1" height="4.4" fill="#d0d0d0" stroke="none" stroke-width="1" />
<rect x="648.8" y="387.9" width="1.1" height="4.4" fill="#d0d0d0" stroke="none" stroke-width="1" />
<rect x="651.0" y="387.9" width="1.1" height="4.4" fill="#d0d0d0" stroke="none" stroke-width="1" />
<rect x="653.3" y="387.9" width="1.1" height="4.4" fill="#d0d0d0" stroke="none" stroke-width="1" />
<rect x="655.5" y="387.9" width="1.1" height="4.4" fill="#d0d0d0" stroke="none" stroke-width="1" />
<rect x="657.7" y="387.9" width="1.1" height="4.4" fill="#d0d0d0" stroke="none" stroke-width="1" />
<rect x="660.0" y="387.9" width="1.1" height="4.4" fill="#d0d0d0" stroke="none" stroke-width="1" />
<rect x="662.2" y="387.9" width="1.1" height="4.4" fill="#d0d0d0" stroke="none" stroke-width="1" />
<rect x="664.5" y="387.9" width="1.1" height="4.4" fill="#d0d0d0" stroke="none" stroke-width="1" />
<line x1="68.6" y1="363.3" x2="666.3" y2="363.3" stroke="#555" stroke-width="0.7" stroke-dasharray="2.6,2.2"/>
<line x1="68.6" y1="413.5" x2="666.3" y2="413.5" stroke="#444" stroke-width="0.6" stroke-dasharray="1,1.3"/>
<rect x="358.1" y="290.2" width="25.6" height="98.0" fill="#d9d9d9" stroke="none" stroke-width="1" />
<rect x="343.8" y="388.0" width="24.0" height="41.6" fill="#9dbad3" stroke="none" stroke-width="1" fill-opacity="0.47"/>
<rect x="331.1" y="429.6" width="23.5" height="42.1" fill="#fddfeb" stroke="none" stroke-width="1" />
<rect x="72.4" y="196.6" width="227.4" height="16.5" fill="#fff" stroke="#333" stroke-width="0.8" />
<rect x="299.8" y="196.6" width="366.5" height="16.5" fill="#fff" stroke="#333" stroke-width="0.8" />
<text x="140.2" y="207.7" font-size="11.82" fill="#000" text-anchor="start" font-weight="normal" font-style="normal" >Paleoproductivity</text>
<text x="417.6" y="207.9" font-size="11.87" fill="#000" text-anchor="start" font-weight="normal" font-style="normal" >Sea-water geochemistry</text>
<polygon points="68.6,270.2 78.1,270.1 78.3,270.7 80.6,271.4 80.4,272.4 80.2,273.2 81.6,274.1 83.0,274.3 83.4,274.5 85.0,274.5 85.0,275.1 87.1,275.0 87.8,275.4 87.8,275.8 90.6,275.7 89.5,275.7 92.9,276.1 92.3,276.2 94.3,276.9 94.2,276.9 95.7,277.1 96.5,278.2 96.5,278.2 93.8,278.2 93.9,278.5 91.7,278.7 92.3,279.0 90.0,279.0 90.8,279.4 88.2,279.5 87.8,279.6 87.8,280.3 85.2,280.5 86.7,280.9 84.6,281.7 84.5,282.6 86.2,283.3 86.4,284.1 85.4,284.8 86.0,285.4 83.1,285.8 83.6,286.6 85.4,287.2 84.5,287.6 87.3,288.4 87.1,288.7 85.5,289.2 85.8,289.7 83.8,290.3 83.9,290.4 86.0,290.5 85.1,291.0 87.0,291.1 87.2,291.1 88.8,291.7 89.0,291.6 91.0,292.2 91.3,292.2 90.1,292.5 90.4,293.1 87.5,293.4 88.3,293.5 86.3,294.2 86.0,294.3 88.2,294.4 87.3,294.7 89.2,295.1 88.7,295.3 90.7,295.7 90.6,296.0 93.4,296.4 93.0,296.6 93.2,297.1 95.9,297.3 94.7,298.2 96.9,298.5 97.1,299.0 94.3,299.1 94.4,299.5 92.8,299.5 92.7,299.9 91.3,300.4 89.8,300.6 89.8,301.1 88.3,301.7 88.1,302.5 86.9,302.7 86.9,302.9 89.2,303.3 88.9,303.6 91.5,304.5 90.5,304.6 92.5,304.7 93.0,305.3 91.5,305.8 92.4,306.4 90.4,307.2 91.1,307.8 93.1,307.5 92.4,307.7 95.0,308.5 94.0,308.6 96.6,308.6 96.6,309.1 97.9,309.2 97.7,309.8 95.3,309.9 96.0,310.8 93.9,310.9 93.6,311.3 96.8,311.5 96.0,311.6 98.0,311.5 98.0,311.9 99.7,312.4 100.0,312.5 99.8,312.7 103.2,313.2 101.7,313.1 104.5,313.2 104.5,313.4 106.9,314.1 105.8,314.0 107.9,314.3 108.8,315.3 108.8,315.6 106.6,315.6 107.2,315.8 104.0,315.7 104.5,315.9 102.5,316.0 103.5,315.9 100.6,316.3 101.3,316.0 99.0,316.0 99.6,316.5 97.1,316.6 96.5,316.5 98.8,316.8 97.9,317.0 99.9,316.9 99.2,317.5 102.2,317.9 101.7,318.0 104.5,317.9 103.8,318.1 105.3,318.5 106.7,318.7 106.6,318.9 108.5,319.4 108.4,319.4 110.8,319.9 110.9,319.9 109.3,320.2 109.9,320.1 107.4,320.0 108.0,320.2 106.1,320.7 105.9,320.6 103.6,320.8 104.3,320.9 101.9,321.2 102.2,321.2 100.4,321.2 100.0,321.4 100.1,321.7 97.2,322.0 98.3,322.0 95.2,322.3 96.0,322.6 93.5,322.7 94.0,323.2 91.3,323.4 91.3,323.4 91.5,323.4 88.5,324.0 89.5,323.7 87.0,324.0 86.7,324.1 85.1,324.5 85.5,324.8 83.1,324.9 82.5,324.9 84.4,324.9 83.2,325.6 85.7,325.8 85.5,325.7 88.4,326.1 87.6,326.1 89.7,326.2 89.3,326.4 91.7,326.4 91.6,326.9 89.9,327.2 90.2,327.5 88.1,327.9 88.5,328.6 86.2,328.9 86.4,329.0 85.8,329.4 84.1,330.2 84.0,330.3 82.5,331.1 82.8,331.5 85.5,331.4 85.0,332.0 87.2,332.1 86.9,331.9 89.2,332.4 88.9,332.9 91.1,333.0 90.8,333.3 92.4,333.5 93.0,333.5 93.3,333.9 95.8,334.7 95.4,334.7 96.9,335.4 96.8,335.6 94.6,335.8 94.4,336.1 92.6,336.5 93.3,336.8 91.3,337.2 89.6,337.3 90.1,337.5 88.1,337.8 88.8,338.4 86.4,338.6 86.0,339.0 88.1,338.9 86.7,339.4 89.4,339.8 88.9,339.8 91.4,340.3 90.7,340.5 93.1,340.6 92.3,340.6 94.2,340.7 94.4,341.3 96.2,341.2 96.5,341.6 97.1,342.3 99.5,342.8 98.6,343.1 100.6,343.8 100.9,344.4 99.5,344.5 99.5,345.0 96.8,344.9 97.6,345.4 95.5,345.2 95.4,345.4 93.4,345.6 93.7,345.8 92.0,345.8 91.3,346.1 91.3,347.2 90.8,347.4 89.2,347.4 89.2,347.8 86.9,348.3 87.9,348.6 85.0,349.0 85.8,349.0 83.0,349.1 83.4,349.6 85.2,350.5 84.6,351.3 85.7,351.9 86.1,352.5 83.0,353.1 83.7,353.5 81.7,354.2 81.6,354.5 83.6,355.3 82.5,355.9 84.3,356.3 84.5,356.9 82.2,357.0 82.3,357.8 81.1,358.4 81.6,359.0 83.7,359.3 82.8,359.8 84.6,360.1 84.8,360.9 83.4,362.2 83.2,362.5 86.0,362.4 85.2,362.2 88.1,362.4 87.7,362.5 90.0,362.5 88.8,363.1 91.6,362.8 91.0,363.0 93.7,363.1 92.6,362.8 94.9,363.0 94.4,363.1 97.2,363.0 96.9,363.3 99.1,363.6 98.2,363.4 100.0,363.6 101.7,363.7 101.1,363.5 103.9,363.7 102.4,364.2 104.8,363.9 104.4,364.3 107.1,364.0 106.8,364.4 108.7,364.3 108.7,364.3 111.3,364.1 109.8,364.4 113.0,364.6 112.2,364.8 114.4,364.3 114.3,364.7 116.2,364.6 115.9,364.7 117.8,365.1 117.9,365.1 120.2,364.8 118.8,365.2 122.1,365.0 121.1,365.2 124.0,365.4 123.0,365.3 125.1,365.2 125.0,365.7 126.3,365.6 127.8,366.1 127.6,365.9 129.7,366.2 129.2,366.9 131.9,367.1 131.6,367.1 131.6,367.5 134.6,367.4 133.3,367.1 136.3,367.5 135.1,367.7 137.6,367.4 136.7,367.6 139.6,367.8 139.2,368.1 142.0,367.9 140.7,368.0 143.4,368.2 143.0,368.1 144.8,368.7 144.5,368.3 147.4,368.9 146.4,368.5 148.5,368.5 148.3,368.6 150.4,368.8 149.9,369.3 152.7,369.1 152.6,369.2 152.8,369.3 155.1,369.3 155.0,369.3 157.5,369.3 156.4,369.6 159.2,369.4 158.5,369.5 160.6,369.7 159.6,370.0 162.9,369.6 162.4,370.0 164.8,370.0 163.6,369.7 166.1,370.4 165.2,370.4 168.5,370.1 167.8,370.1 169.9,370.4 168.7,370.5 171.8,370.6 171.1,370.6 173.0,370.8 173.6,370.6 172.2,370.9 172.7,370.6 170.5,370.6 170.9,370.9 168.7,370.6 169.0,370.9 166.6,370.8 167.3,370.7 164.9,371.0 165.9,371.1 162.5,371.1 163.3,371.0 160.6,371.3 161.6,370.9 159.3,371.4 159.9,371.1 157.3,371.6 157.9,371.1 155.9,371.4 156.6,371.3 153.6,371.6 154.6,371.3 151.6,371.5 153.1,371.4 150.6,371.8 150.8,372.0 148.5,371.5 148.9,371.7 146.5,372.1 147.0,371.8 145.2,372.2 145.2,371.7 143.6,371.9 144.2,372.2 142.1,372.0 140.1,372.4 141.5,372.1 138.9,372.5 139.5,372.0 136.5,372.3 137.2,372.3 135.2,372.2 135.3,372.4 132.6,372.3 134.2,372.5 131.4,372.9 132.2,372.7 129.8,372.8 129.9,373.1 127.9,372.8 128.6,372.7 125.8,373.2 126.6,372.8 124.4,372.9 124.9,373.1 122.8,373.3 122.7,373.5 125.3,373.2 124.3,373.4 127.0,373.5 126.8,373.3 128.6,373.6 128.0,373.6 131.4,373.2 130.6,373.5 133.2,373.9 132.2,373.5 134.5,373.7 133.5,373.5 136.7,373.9 135.4,373.9 138.4,373.7 137.8,373.7 140.4,373.6 139.7,374.0 141.6,373.6 141.7,374.0 143.6,374.3 142.7,374.3 145.3,373.8 145.3,374.1 147.6,374.1 147.0,374.1 149.4,374.3 148.3,374.4 151.2,374.0 150.1,374.1 153.0,374.2 152.0,374.1 154.5,374.2 154.4,374.6 156.6,374.3 156.0,374.7 158.4,374.3 157.4,374.6 160.7,374.3 159.6,374.8 162.4,374.9 161.9,374.5 163.1,374.7 162.6,374.5 160.0,374.8 161.6,374.7 158.3,374.8 159.0,375.0 156.3,374.6 157.5,375.0 155.2,374.9 155.2,374.8 153.4,375.1 153.9,374.9 151.8,375.0 152.1,374.9 149.6,374.9 150.4,375.2 148.0,375.0 148.1,375.3 145.6,375.0 146.0,375.4 144.0,375.2 144.3,375.6 142.2,375.4 142.5,375.4 139.8,375.7 140.7,375.3 138.1,375.3 138.5,375.8 136.6,375.8 137.1,375.8 134.7,375.4 134.8,375.7 132.7,376.0 133.0,375.8 131.1,375.8 131.2,375.7 129.1,376.1 129.4,375.9 128.1,375.9 126.1,376.6 126.8,376.6 124.2,377.5 124.6,377.7 126.2,377.8 125.1,378.4 128.4,378.9 127.0,379.0 128.9,379.6 129.1,379.5 126.4,380.0 127.3,379.7 124.7,379.9 125.1,379.9 122.9,380.0 123.4,380.4 121.1,380.3 121.5,380.1 118.4,380.2 119.5,380.6 116.8,380.5 117.4,380.8 115.8,380.8 114.2,381.1 114.8,381.2 112.9,381.5 113.1,381.5 110.4,382.1 111.3,381.9 108.9,382.1 108.8,382.6 108.2,382.7 106.5,382.8 106.7,382.7 104.0,382.9 105.0,383.5 102.2,383.2 102.8,383.6 99.8,383.6 100.0,384.0 102.1,384.5 100.9,384.6 103.4,384.9 103.1,385.1 106.0,384.9 104.7,385.6 107.1,385.4 106.6,385.5 109.8,385.8 108.5,386.0 110.6,386.4 112.3,386.9 112.1,386.7 114.3,386.9 114.3,387.0 116.0,387.7 115.6,387.9 117.6,387.8 118.9,388.0 119.0,387.9 121.2,387.9 120.1,388.1 123.0,388.3 122.7,388.4 124.9,388.1 123.8,388.1 127.1,388.3 126.1,388.5 128.4,388.2 127.6,388.2 130.6,388.4 129.5,388.9 132.2,388.7 131.7,388.4 133.5,388.5 133.2,388.7 135.8,389.1 135.6,388.7 137.8,388.7 137.6,388.9 139.1,389.0 139.2,389.2 141.5,389.0 140.6,389.2 142.8,389.5 142.8,389.1 144.6,389.5 144.0,389.6 146.8,389.3 146.8,389.6 148.8,389.5 147.9,389.6 151.0,389.8 150.2,390.0 151.9,389.8 151.9,389.7 153.5,389.9 152.9,390.1 151.4,390.0 151.9,389.8 149.3,390.1 149.7,390.1 146.8,389.9 147.6,390.0 145.8,390.4 146.3,390.3 144.0,390.4 144.4,390.2 141.4,390.2 142.0,390.0 140.1,390.0 140.3,390.5 137.8,390.6 138.8,390.2 136.1,390.4 137.1,390.4 134.5,390.5 135.4,390.3 132.0,390.2 132.8,390.4 130.3,390.8 131.5,390.5 128.4,390.5 129.1,390.9 126.8,390.8 127.7,391.0 125.1,390.9 125.9,391.0 123.3,390.9 123.9,390.7 121.7,390.9 121.6,391.1 119.9,390.6 119.8,391.2 117.9,390.7 117.6,391.0 116.9,390.7 114.8,391.1 115.8,391.2 113.6,391.2 113.7,391.4 111.0,391.5 111.5,391.5 109.1,391.6 109.8,391.2 108.1,391.1 108.7,391.6 105.8,391.7 106.7,391.4 104.5,391.3 105.0,391.4 102.5,391.6 102.4,391.5 100.7,391.9 101.0,391.7 98.2,391.8 99.7,391.9 97.3,391.8 97.4,392.1 95.2,392.1 95.7,391.9 92.8,391.8 94.2,391.9 91.9,392.0 91.3,392.2 91.4,392.6 89.1,392.5 89.2,392.8 87.0,392.8 87.1,393.1 85.0,393.3 85.1,393.0 82.6,393.3 83.1,393.6 81.4,393.8 80.8,393.8 80.9,394.2 78.1,394.2 78.8,394.4 76.1,394.5 77.6,394.7 75.5,395.2 74.2,395.8 75.1,396.7 72.5,397.8 72.4,398.3 73.6,398.9 73.1,399.6 74.6,400.1 74.8,400.7 72.3,401.1 72.0,401.8 73.0,402.8 72.2,403.4 74.2,404.0 73.3,404.8 75.3,405.5 75.5,406.2 73.7,406.7 74.7,407.4 72.5,408.4 72.9,408.8 73.5,409.6 72.7,410.8 74.2,411.7 73.0,412.7 75.1,414.0 74.0,414.9 73.6,416.1 74.3,416.6 72.6,417.8 74.9,418.5 73.4,419.5 74.2,420.1 73.2,420.9 74.5,422.3 72.8,423.0 74.7,423.9 73.4,424.9 74.4,425.9 72.5,426.6 74.6,427.7 73.0,428.3 74.7,429.6 72.6,430.4 74.8,431.3 72.7,432.0 74.2,433.0 73.2,433.8 74.6,434.9 72.6,435.5 74.2,436.5 72.6,437.4 74.4,438.6 73.0,439.4 74.5,440.1 73.4,441.1 72.6,442.3 73.7,442.9 73.0,444.0 74.6,444.7 73.0,445.7 74.2,446.7 72.6,447.5 74.5,448.4 72.7,449.5 73.8,450.3 72.7,451.2 73.7,452.3 72.7,452.6 73.9,453.7 73.1,454.6 74.0,455.7 72.7,456.4 73.8,457.6 72.1,458.3 73.8,459.4 72.6,460.0 73.7,461.2 72.2,462.0 74.0,462.9 72.8,464.1 73.9,464.8 72.2,465.8 74.0,466.4 72.4,467.2 74.4,468.2 72.1,469.1 73.9,470.0 72.5,470.8 73.5,472.1 73.2,472.9 68.6,472.9" fill="#6a2c27" />
<polygon points="68.6,325.0 69.1,324.9 69.1,324.8 70.8,325.0 70.7,325.1 72.9,324.9 72.1,325.3 74.2,325.3 74.0,325.3 76.1,325.3 76.0,324.9 77.8,325.4 77.8,325.0 79.7,325.0 80.0,325.4 81.7,325.1 82.2,325.3 80.3,325.7 80.6,326.0 78.7,326.1 79.2,326.4 76.7,326.6 76.9,326.7 75.0,326.9 75.2,327.2 73.8,327.2 74.0,327.3 75.9,327.5 75.8,327.7 77.8,328.0 77.5,328.5 79.6,328.9 79.9,329.0 78.8,329.5 78.7,329.6 76.5,330.0 76.9,330.1 74.5,330.2 74.6,330.7 76.3,331.0 76.4,331.2 78.3,331.6 78.1,331.8 80.1,331.7 79.6,331.6 82.2,332.2 82.0,332.5 83.4,332.5 82.9,332.7 80.8,333.1 80.9,333.1 79.0,333.3 79.4,333.4 76.8,333.7 77.3,333.8 75.1,334.4 75.4,334.5 73.8,334.6 73.9,335.2 75.4,336.0 75.5,336.7 75.7,337.2 77.5,337.5 77.2,337.8 79.3,338.0 79.7,338.2 80.8,338.8 80.8,339.1 78.3,339.5 79.1,339.6 76.6,339.9 77.1,340.1 74.8,340.2 75.4,340.6 73.8,340.9 73.4,341.5 75.0,342.2 75.2,343.3 75.3,344.0 77.8,344.1 77.2,344.8 79.0,345.1 78.8,345.4 76.8,345.9 76.8,346.3 74.8,347.0 74.6,347.2 75.8,347.3 76.3,347.1 78.3,347.4 77.4,347.3 79.5,347.4 79.6,347.7 82.1,347.5 81.6,347.3 83.7,347.4 83.6,347.4 85.1,347.8 85.5,348.0 87.0,348.0 87.4,347.6 89.4,347.8 88.8,347.8 90.7,348.2 90.6,348.3 93.1,347.9 92.6,348.3 94.8,348.5 94.7,348.5 96.8,348.0 96.8,348.4 97.9,348.4 97.9,348.2 95.7,348.7 95.5,348.8 93.7,348.4 93.9,348.8 91.9,348.9 91.9,349.1 90.2,349.1 90.5,349.0 88.4,349.3 88.9,349.4 86.4,349.1 86.4,349.6 84.5,349.6 84.8,349.5 82.4,349.7 82.5,349.6 84.3,350.0 84.6,350.7 85.0,351.0 86.9,351.0 86.7,351.3 89.1,351.0 89.0,351.2 90.6,351.5 90.2,351.8 92.2,351.9 92.0,352.0 94.4,351.8 93.8,352.2 96.3,352.4 96.0,352.1 97.4,352.4 97.1,352.7 95.2,352.7 95.6,352.4 93.0,352.8 93.4,352.6 91.5,352.9 91.8,352.8 89.8,353.1 90.0,352.8 87.5,353.3 88.2,353.1 85.8,353.2 85.8,353.0 84.2,353.4 84.1,353.4 82.2,353.4 82.1,353.2 79.9,353.5 80.2,353.7 79.0,353.7 77.4,354.1 78.1,354.9 76.0,355.3 75.9,356.3 76.4,357.4 75.7,358.0 77.6,358.8 77.3,359.8 75.8,360.5 76.9,361.5 74.4,362.4 74.6,362.9 74.2,363.4 72.5,364.1 72.0,365.0 72.3,365.8 71.5,367.4 72.8,368.5 71.4,369.0 72.4,370.3 74.0,370.4 73.9,370.8 75.5,370.7 75.3,371.1 77.7,370.9 77.3,370.9 79.8,371.5 79.4,371.0 81.1,371.4 80.7,371.8 82.5,371.7 84.4,371.5 83.6,372.0 86.2,372.3 86.2,371.9 88.2,372.4 87.6,372.2 90.0,372.5 90.0,372.4 91.3,372.6 92.6,372.5 92.6,372.7 94.5,372.9 94.3,373.0 96.8,373.3 96.7,373.9 98.3,374.1 98.0,374.2 100.1,374.1 100.5,374.6 102.6,374.6 102.7,374.7 103.0,374.7 105.3,374.8 104.7,374.7 106.7,374.7 106.5,375.1 108.5,375.3 108.6,375.1 110.3,375.1 110.0,375.2 112.1,375.4 112.2,375.7 113.9,375.8 114.3,375.9 116.2,375.5 115.8,375.6 117.7,375.7 117.7,376.2 120.1,376.2 119.7,375.9 121.8,375.9 121.0,376.1 123.7,376.0 122.8,376.3 124.6,376.4 124.0,376.2 121.9,376.6 122.2,376.6 120.0,376.5 120.6,376.5 118.7,376.9 118.9,376.6 117.0,376.6 117.0,376.9 115.0,376.8 115.2,377.2 112.7,377.1 113.0,376.9 111.0,377.2 111.6,377.0 109.1,377.2 109.9,377.6 107.5,377.1 108.1,377.5 105.4,377.4 105.7,377.8 104.4,377.7 103.3,378.2 103.7,379.2 102.7,379.9 101.5,380.1 101.3,380.2 99.5,380.5 99.7,380.7 97.5,380.7 97.5,380.9 95.8,381.1 96.0,381.0 93.5,381.1 93.8,381.0 91.3,381.2 91.3,381.5 90.7,381.5 89.1,382.2 88.9,382.0 87.0,382.3 87.1,382.7 86.0,382.9 86.3,383.0 88.6,382.8 87.9,383.2 89.9,382.9 90.0,383.2 91.9,383.0 91.9,383.1 94.0,383.6 93.9,383.5 95.9,383.3 95.2,383.8 97.5,383.5 97.0,383.7 99.3,384.0 98.9,383.7 101.0,383.7 101.0,384.1 103.3,384.2 102.5,384.2 104.5,384.0 104.2,384.3 106.5,384.1 106.3,384.1 108.5,384.0 108.8,384.3 109.2,384.3 110.8,384.1 110.5,384.5 113.4,384.5 112.5,384.6 115.2,384.1 114.4,384.3 116.8,384.3 116.3,384.7 118.6,384.3 118.2,384.4 120.7,384.4 120.2,384.6 121.8,384.6 121.5,384.6 123.7,384.5 123.6,384.4 125.4,384.4 125.6,384.6 127.4,384.5 127.6,384.7 129.6,384.7 129.0,384.8 130.9,384.8 130.9,384.7 133.1,384.7 132.9,384.6 134.6,384.8 134.6,384.8 136.2,384.7 136.1,384.6 138.5,384.8 138.3,385.1 140.1,385.0 140.2,384.6 142.4,384.8 142.1,384.8 143.8,385.1 143.9,384.8 146.1,385.1 145.7,384.9 147.4,385.1 147.1,385.2 149.6,385.0 148.9,385.2 151.4,385.0 150.6,385.2 153.3,384.9 152.4,384.8 155.0,385.2 154.5,385.4 156.7,385.1 156.1,385.4 158.5,385.1 158.7,385.2 157.3,385.2 157.7,385.1 155.5,385.3 155.6,385.1 153.4,385.5 153.9,385.2 152.0,385.2 151.8,385.4 149.9,385.1 150.6,385.2 147.9,385.6 148.8,385.2 146.4,385.6 146.2,385.1 144.5,385.4 145.1,385.6 142.7,385.8 143.0,385.5 140.7,385.4 141.1,385.6 139.2,385.8 139.5,385.6 137.6,385.5 137.5,385.6 135.4,385.8 136.1,385.6 133.7,385.7 134.3,385.5 131.8,385.8 131.8,385.6 129.6,385.9 130.3,385.5 127.9,385.8 128.7,386.0 126.0,385.7 126.4,385.6 124.5,385.8 124.6,385.6 122.6,385.9 122.9,386.1 120.8,385.6 121.1,386.0 119.2,386.0 119.0,385.8 117.0,386.0 117.7,385.7 115.5,386.0 115.6,386.0 113.6,386.3 114.0,385.9 112.1,385.8 112.3,385.8 110.3,385.8 110.3,386.2 108.8,386.1 107.1,386.4 107.1,386.1 105.1,386.4 105.7,386.6 103.6,386.7 103.2,387.2 101.3,387.1 101.6,387.2 100.0,387.5 98.8,387.9 98.8,388.1 96.6,388.0 96.5,387.8 94.2,388.5 94.7,388.6 92.4,388.4 92.9,389.0 91.3,388.9 89.7,389.3 89.7,389.1 87.6,389.2 87.8,389.8 85.8,389.9 85.8,389.7 84.0,389.9 84.5,390.1 82.5,390.4 80.9,390.4 81.1,390.7 79.0,390.7 78.8,391.3 77.0,391.2 76.9,391.4 75.5,391.7 74.1,391.7 74.3,392.3 72.2,392.8 71.9,392.9 70.6,393.4 69.3,394.2 70.2,395.7 69.2,396.6 69.5,396.2 68.6,396.0" fill="#c2a576" />
<text x="15.8" y="266.0" font-size="10.6" fill="#000" text-anchor="start" font-weight="normal" font-style="normal" transform="rotate(-90 15.8 266.0)" >Age (Ma)</text>
<text x="31.8" y="266.0" font-size="10.6" fill="#000" text-anchor="start" font-weight="normal" font-style="normal" transform="rotate(-90 31.8 266.0)" >Epoch</text>
<text x="46.3" y="266.0" font-size="10.6" fill="#000" text-anchor="start" font-weight="normal" font-style="normal" transform="rotate(-90 46.3 266.0)" >Chron</text>
<text x="60.8" y="266.0" font-size="10.6" fill="#000" text-anchor="start" font-weight="normal" font-style="normal" transform="rotate(-90 60.8 266.0)" >CN Zones</text>
<line x1="20.4" y1="270.2" x2="20.4" y2="486.8" stroke="#333" stroke-width="0.8" />
<line x1="17.8" y1="270.3" x2="20.4" y2="270.3" stroke="#333" stroke-width="0.8" />
<line x1="17.8" y1="275.7" x2="20.4" y2="275.7" stroke="#333" stroke-width="0.8" />
<line x1="17.8" y1="281.1" x2="20.4" y2="281.1" stroke="#333" stroke-width="0.8" />
<line x1="17.8" y1="286.5" x2="20.4" y2="286.5" stroke="#333" stroke-width="0.8" />
<line x1="17.8" y1="291.9" x2="20.4" y2="291.9" stroke="#333" stroke-width="0.8" />
<line x1="15.4" y1="297.3" x2="20.4" y2="297.3" stroke="#333" stroke-width="0.8" />
<line x1="17.8" y1="302.7" x2="20.4" y2="302.7" stroke="#333" stroke-width="0.8" />
<line x1="17.8" y1="308.1" x2="20.4" y2="308.1" stroke="#333" stroke-width="0.8" />
<line x1="17.8" y1="313.5" x2="20.4" y2="313.5" stroke="#333" stroke-width="0.8" />
<line x1="17.8" y1="318.9" x2="20.4" y2="318.9" stroke="#333" stroke-width="0.8" />
<line x1="17.8" y1="324.3" x2="20.4" y2="324.3" stroke="#333" stroke-width="0.8" />
<line x1="17.8" y1="329.7" x2="20.4" y2="329.7" stroke="#333" stroke-width="0.8" />
<line x1="17.8" y1="335.1" x2="20.4" y2="335.1" stroke="#333" stroke-width="0.8" />
<line x1="17.8" y1="340.5" x2="20.4" y2="340.5" stroke="#333" stroke-width="0.8" />
<line x1="17.8" y1="345.9" x2="20.4" y2="345.9" stroke="#333" stroke-width="0.8" />
<line x1="15.4" y1="351.3" x2="20.4" y2="351.3" stroke="#333" stroke-width="0.8" />
<line x1="17.8" y1="356.7" x2="20.4" y2="356.7" stroke="#333" stroke-width="0.8" />
<line x1="17.8" y1="362.1" x2="20.4" y2="362.1" stroke="#333" stroke-width="0.8" />
<line x1="17.8" y1="367.5" x2="20.4" y2="367.5" stroke="#333" stroke-width="0.8" />
<line x1="17.8" y1="372.9" x2="20.4" y2="372.9" stroke="#333" stroke-width="0.8" />
<line x1="17.8" y1="378.3" x2="20.4" y2="378.3" stroke="#333" stroke-width="0.8" />
<line x1="17.8" y1="383.7" x2="20.4" y2="383.7" stroke="#333" stroke-width="0.8" />
<line x1="17.8" y1="389.1" x2="20.4" y2="389.1" stroke="#333" stroke-width="0.8" />
<line x1="17.8" y1="394.5" x2="20.4" y2="394.5" stroke="#333" stroke-width="0.8" />
<line x1="17.8" y1="399.9" x2="20.4" y2="399.9" stroke="#333" stroke-width="0.8" />
<line x1="15.4" y1="405.3" x2="20.4" y2="405.3" stroke="#333" stroke-width="0.8" />
<line x1="17.8" y1="410.7" x2="20.4" y2="410.7" stroke="#333" stroke-width="0.8" />
<line x1="17.8" y1="416.1" x2="20.4" y2="416.1" stroke="#333" stroke-width="0.8" />
<line x1="17.8" y1="421.5" x2="20.4" y2="421.5" stroke="#333" stroke-width="0.8" />
<line x1="17.8" y1="426.9" x2="20.4" y2="426.9" stroke="#333" stroke-width="0.8" />
<line x1="17.8" y1="432.3" x2="20.4" y2="432.3" stroke="#333" stroke-width="0.8" />
<line x1="17.8" y1="437.7" x2="20.4" y2="437.7" stroke="#333" stroke-width="0.8" />
<line x1="17.8" y1="443.1" x2="20.4" y2="443.1" stroke="#333" stroke-width="0.8" />
<line x1="17.8" y1="448.5" x2="20.4" y2="448.5" stroke="#333" stroke-width="0.8" />
<line x1="17.8" y1="453.9" x2="20.4" y2="453.9" stroke="#333" stroke-width="0.8" />
<line x1="15.4" y1="459.3" x2="20.4" y2="459.3" stroke="#333" stroke-width="0.8" />
<line x1="17.8" y1="464.7" x2="20.4" y2="464.7" stroke="#333" stroke-width="0.8" />
<line x1="17.8" y1="470.1" x2="20.4" y2="470.1" stroke="#333" stroke-width="0.8" />
<line x1="17.8" y1="475.5" x2="20.4" y2="475.5" stroke="#333" stroke-width="0.8" />
<line x1="17.8" y1="480.9" x2="20.4" y2="480.9" stroke="#333" stroke-width="0.8" />
<line x1="17.8" y1="486.3" x2="20.4" y2="486.3" stroke="#333" stroke-width="0.8" />
<text x="12.7" y="300.8" font-size="10.0" fill="#000" text-anchor="end" font-weight="normal" font-style="normal" >32</text>
<text x="12.7" y="354.8" font-size="10.0" fill="#000" text-anchor="end" font-weight="normal" font-style="normal" >33</text>
<text x="12.7" y="408.8" font-size="10.0" fill="#000" text-anchor="end" font-weight="normal" font-style="normal" >34</text>
<text x="12.7" y="462.8" font-size="10.0" fill="#000" text-anchor="end" font-weight="normal" font-style="normal" >35</text>
<rect x="20.4" y="270.2" width="16.1" height="216.6" fill="#fff" stroke="#555" stroke-width="0.7" />
<rect x="36.5" y="270.2" width="13.1" height="216.6" fill="#fff" stroke="#555" stroke-width="0.7" />
<rect x="49.6" y="270.2" width="14.0" height="216.6" fill="#fff" stroke="#555" stroke-width="0.7" />
<line x1="20.4" y1="399.9" x2="36.5" y2="399.9" stroke="#555" stroke-width="0.7" />
<text x="32.3" y="335.5" font-size="11.2" fill="#000" text-anchor="middle" font-weight="normal" font-style="normal" transform="rotate(-90 32.3 335.5)" >Oligocene</text>
<text x="32.3" y="441.0" font-size="11.2" fill="#000" text-anchor="middle" font-weight="normal" font-style="normal" transform="rotate(-90 32.3 441.0)" >Eocene</text>
<rect x="36.0" y="362.9" width="13.3" height="27.6" fill="#000" stroke="none" stroke-width="1" />
<text x="46.4" y="376.7" font-size="9.6" fill="#fff" text-anchor="middle" font-weight="normal" font-style="normal" transform="rotate(-90 46.4 376.7)" >C13n</text>
<rect x="36.0" y="465.4" width="13.3" height="12.6" fill="#000" stroke="none" stroke-width="1" />
<text x="42.7" y="474.0" font-size="5.2" fill="#fff" text-anchor="middle" font-weight="normal" font-style="normal" >C15n</text>
<text x="46.5" y="320.5" font-size="10.2" text-anchor="middle" transform="rotate(-90 46.4 320.5)">C12<tspan font-style="italic">r</tspan></text>
<text x="46.5" y="438.5" font-size="10.2" text-anchor="middle" transform="rotate(-90 46.4 438.5)">C13<tspan font-style="italic">r</tspan></text>
<line x1="49.6" y1="296.4" x2="63.6" y2="296.4" stroke="#555" stroke-width="0.7" />
<line x1="49.6" y1="346.1" x2="63.6" y2="346.1" stroke="#555" stroke-width="0.7" />
<line x1="49.6" y1="400.0" x2="63.6" y2="400.0" stroke="#555" stroke-width="0.7" />
<line x1="49.6" y1="429.3" x2="63.6" y2="429.3" stroke="#555" stroke-width="0.7" />
<line x1="49.6" y1="476.6" x2="63.6" y2="476.6" stroke="#555" stroke-width="0.7" />
<text x="59.2" y="283.3" font-size="7.3" fill="#000" text-anchor="middle" font-weight="normal" font-style="normal" transform="rotate(-90 59.2 283.3)" >CNO3</text>
<text x="59.2" y="321.5" font-size="7.3" fill="#000" text-anchor="middle" font-weight="normal" font-style="normal" transform="rotate(-90 59.2 321.5)" >CNO2</text>
<text x="59.2" y="373.0" font-size="7.3" fill="#000" text-anchor="middle" font-weight="normal" font-style="normal" transform="rotate(-90 59.2 373.0)" >CNO1</text>
<text x="59.2" y="414.6" font-size="7.3" fill="#000" text-anchor="middle" font-weight="normal" font-style="normal" transform="rotate(-90 59.2 414.6)" >CNE21</text>
<text x="59.2" y="453.0" font-size="7.3" fill="#000" text-anchor="middle" font-weight="normal" font-style="normal" transform="rotate(-90 59.2 453.0)" >CNE20</text>
<text x="56.6" y="483.3" font-size="3.9" fill="#000" text-anchor="middle" font-weight="normal" font-style="normal" >CNE19</text>
<polyline points="190.8,309.2 190.3,317.1 190.9,310.0 191.6,321.8 200.8,323.1 208.6,324.5 220.5,326.8 214.6,329.7 227.0,330.8 237.6,332.1 228.4,332.6" fill="none" stroke="#5fd09a" stroke-width="1.0" stroke-linejoin="round" />
<polyline points="223.1,357.3 220.5,359.3 225.7,361.0 230.3,362.6 217.8,365.2 237.6,366.2 248.1,366.8 248.1,367.3 237.6,369.0 247.2,370.4 232.3,372.5 237.6,374.6 232.3,376.4 258.6,379.2 283.1,381.3 255.1,383.0 242.8,384.8 249.8,387.4 240.2,389.2 265.6,390.0 242.8,391.3 218.3,392.7 237.6,397.0 211.3,398.1 199.0,398.8 201.6,400.9 195.5,405.8 191.1,409.3 193.8,414.6 190.3,419.8 199.0,423.3 209.5,426.0 193.8,428.6 192.0,433.8 193.4,435.8 191.7,442.8 207.8,448.0 195.5,449.8 192.0,455.0 190.6,462.0" fill="none" stroke="#5fd09a" stroke-width="1.0" stroke-linejoin="round" />
<polyline points="190.6,272.4 189.9,275.0 190.8,277.6 190.3,294.3 191.0,296.9 190.3,299.5 190.3,318.8 190.5,320.5 191.6,321.8 211.3,323.1 232.3,324.8 223.1,325.8 201.4,327.7 204.7,331.0 213.2,333.4 208.6,334.3 240.8,336.0 221.8,336.9 204.7,338.2 211.3,341.5 210.0,344.8 204.7,347.4 222.4,349.8 210.0,351.8 233.6,353.1 215.2,354.7 209.3,356.6" fill="none" stroke="#2a309c" stroke-width="1.0" stroke-linejoin="round" />
<polyline points="211.3,355.9 217.4,355.0" fill="none" stroke="#2a309c" stroke-width="1.0" stroke-linejoin="round" />
<polyline points="216.5,372.5 205.1,376.0 220.0,378.1 233.2,380.4 213.0,383.0 242.8,385.1 218.3,387.4 227.0,389.2 246.3,391.8 239.3,393.5 225.3,394.9 213.0,397.0 206.0,400.9 220.9,402.0 195.5,404.9 202.5,407.6 206.0,411.1 193.8,415.4 206.0,416.7 200.8,418.4 213.0,419.8 195.5,423.3 199.0,426.8 193.8,432.1 201.6,436.6 192.9,439.6 204.3,442.8 192.0,446.3 200.8,449.8 191.1,453.3 195.5,457.7 203.4,460.3 191.1,463.4 199.0,467.0 191.1,469.9 199.9,472.2 192.0,473.4" fill="none" stroke="#2a309c" stroke-width="1.0" stroke-linejoin="round" />
<polyline points="190.3,289.0 190.3,318.8 190.3,317.9 190.9,327.1 193.5,333.0 191.6,336.3 196.8,338.2 193.5,340.9 198.1,342.2 194.2,344.8 198.8,346.1 194.9,348.1 198.1,350.7 196.8,353.4 192.2,356.0 192.9,359.9 198.1,362.6 200.8,366.5 201.4,370.0 193.8,376.9 200.8,379.9 207.8,383.0 216.5,386.5 223.5,389.2 207.8,392.7 195.5,396.2 194.6,407.6 191.1,414.6 192.9,425.1 190.3,435.1 189.6,427.0 189.6,482.4" fill="none" stroke="#e1261c" stroke-width="1.0" stroke-linejoin="round" />
<polyline points="190.3,310.0 190.3,318.8 190.3,317.9 190.9,329.7 190.3,336.3 192.2,341.5 195.5,345.5 201.4,350.7 198.8,354.7 199.5,359.9 201.4,365.2 203.4,370.0 204.3,372.5 213.9,380.4 207.8,386.5 208.7,400.6 202.5,409.3 193.8,416.3 198.1,421.6 192.0,428.6 191.1,435.1 192.0,430.5 193.8,441.0 199.0,448.0 190.3,455.0 192.9,462.0 190.3,470.8 190.3,477.8" fill="none" stroke="#f28c1e" stroke-width="1.0" stroke-linejoin="round" />
<g stroke="#5fd09a" stroke-width="0.8" stroke-opacity="0.3"><line x1="288.4" y1="290.8" x2="323.0" y2="290.8"/><line x1="288.4" y1="288.6" x2="288.4" y2="293.0"/><line x1="323.0" y1="288.6" x2="323.0" y2="293.0"/></g>
<g stroke="#5fd09a" stroke-width="0.8" stroke-opacity="0.3"><line x1="281.3" y1="301.0" x2="308.2" y2="301.0"/><line x1="281.3" y1="298.8" x2="281.3" y2="303.2"/><line x1="308.2" y1="298.8" x2="308.2" y2="303.2"/></g>
<g stroke="#5fd09a" stroke-width="0.8" stroke-opacity="0.3"><line x1="288.6" y1="306.8" x2="317.8" y2="306.8"/><line x1="288.6" y1="304.6" x2="288.6" y2="309.0"/><line x1="317.8" y1="304.6" x2="317.8" y2="309.0"/></g>
<g stroke="#5fd09a" stroke-width="0.8" stroke-opacity="0.3"><line x1="283.3" y1="311.2" x2="317.0" y2="311.2"/><line x1="283.3" y1="309.0" x2="283.3" y2="313.4"/><line x1="317.0" y1="309.0" x2="317.0" y2="313.4"/></g>
<g stroke="#5fd09a" stroke-width="0.8" stroke-opacity="0.3"><line x1="277.1" y1="314.4" x2="306.6" y2="314.4"/><line x1="277.1" y1="312.2" x2="277.1" y2="316.6"/><line x1="306.6" y1="312.2" x2="306.6" y2="316.6"/></g>
<g stroke="#5fd09a" stroke-width="0.8" stroke-opacity="0.3"><line x1="289.2" y1="317.6" x2="325.7" y2="317.6"/><line x1="289.2" y1="315.4" x2="289.2" y2="319.8"/><line x1="325.7" y1="315.4" x2="325.7" y2="319.8"/></g>
<g stroke="#5fd09a" stroke-width="0.8" stroke-opacity="0.3"><line x1="286.1" y1="323.9" x2="313.6" y2="323.9"/><line x1="286.1" y1="321.7" x2="286.1" y2="326.1"/><line x1="313.6" y1="321.7" x2="313.6" y2="326.1"/></g>
<g stroke="#5fd09a" stroke-width="0.8" stroke-opacity="0.3"><line x1="279.9" y1="333.4" x2="316.3" y2="333.4"/><line x1="279.9" y1="331.2" x2="279.9" y2="335.6"/><line x1="316.3" y1="331.2" x2="316.3" y2="335.6"/></g>
<g stroke="#5fd09a" stroke-width="0.8" stroke-opacity="0.3"><line x1="281.4" y1="337.8" x2="312.5" y2="337.8"/><line x1="281.4" y1="335.6" x2="281.4" y2="340.0"/><line x1="312.5" y1="335.6" x2="312.5" y2="340.0"/></g>
<g stroke="#5fd09a" stroke-width="0.8" stroke-opacity="0.3"><line x1="280.9" y1="346.5" x2="308.6" y2="346.5"/><line x1="280.9" y1="344.3" x2="280.9" y2="348.7"/><line x1="308.6" y1="344.3" x2="308.6" y2="348.7"/></g>
<g stroke="#5fd09a" stroke-width="0.8" stroke-opacity="0.3"><line x1="279.1" y1="353.8" x2="309.5" y2="353.8"/><line x1="279.1" y1="351.6" x2="279.1" y2="356.0"/><line x1="309.5" y1="351.6" x2="309.5" y2="356.0"/></g>
<g stroke="#5fd09a" stroke-width="0.8" stroke-opacity="0.3"><line x1="280.3" y1="365.5" x2="306.9" y2="365.5"/><line x1="280.3" y1="363.3" x2="280.3" y2="367.7"/><line x1="306.9" y1="363.3" x2="306.9" y2="367.7"/></g>
<g stroke="#5fd09a" stroke-width="0.8" stroke-opacity="0.3"><line x1="278.3" y1="369.0" x2="311.8" y2="369.0"/><line x1="278.3" y1="366.8" x2="278.3" y2="371.2"/><line x1="311.8" y1="366.8" x2="311.8" y2="371.2"/></g>
<g stroke="#5fd09a" stroke-width="0.8" stroke-opacity="0.3"><line x1="277.8" y1="374.3" x2="305.9" y2="374.3"/><line x1="277.8" y1="372.1" x2="277.8" y2="376.5"/><line x1="305.9" y1="372.1" x2="305.9" y2="376.5"/></g>
<g stroke="#5fd09a" stroke-width="0.8" stroke-opacity="0.3"><line x1="269.6" y1="377.8" x2="305.4" y2="377.8"/><line x1="269.6" y1="375.6" x2="269.6" y2="380.0"/><line x1="305.4" y1="375.6" x2="305.4" y2="380.0"/></g>
<g stroke="#5fd09a" stroke-width="0.8" stroke-opacity="0.3"><line x1="269.7" y1="390.0" x2="301.8" y2="390.0"/><line x1="269.7" y1="387.8" x2="269.7" y2="392.2"/><line x1="301.8" y1="387.8" x2="301.8" y2="392.2"/></g>
<g stroke="#5fd09a" stroke-width="0.8" stroke-opacity="0.3"><line x1="270.2" y1="400.6" x2="299.6" y2="400.6"/><line x1="270.2" y1="398.4" x2="270.2" y2="402.8"/><line x1="299.6" y1="398.4" x2="299.6" y2="402.8"/></g>
<g stroke="#5fd09a" stroke-width="0.8" stroke-opacity="0.3"><line x1="273.5" y1="403.2" x2="301.5" y2="403.2"/><line x1="273.5" y1="401.0" x2="273.5" y2="405.4"/><line x1="301.5" y1="401.0" x2="301.5" y2="405.4"/></g>
<g stroke="#5fd09a" stroke-width="0.8" stroke-opacity="0.3"><line x1="263.5" y1="424.4" x2="295.8" y2="424.4"/><line x1="263.5" y1="422.2" x2="263.5" y2="426.6"/><line x1="295.8" y1="422.2" x2="295.8" y2="426.6"/></g>
<g stroke="#5fd09a" stroke-width="0.8" stroke-opacity="0.3"><line x1="258.8" y1="430.5" x2="286.4" y2="430.5"/><line x1="258.8" y1="428.3" x2="258.8" y2="432.7"/><line x1="286.4" y1="428.3" x2="286.4" y2="432.7"/></g>
<g stroke="#5fd09a" stroke-width="0.8" stroke-opacity="0.3"><line x1="254.5" y1="444.5" x2="290.0" y2="444.5"/><line x1="254.5" y1="442.3" x2="254.5" y2="446.7"/><line x1="290.0" y1="442.3" x2="290.0" y2="446.7"/></g>
<g stroke="#5fd09a" stroke-width="0.8" stroke-opacity="0.3"><line x1="260.2" y1="448.9" x2="286.7" y2="448.9"/><line x1="260.2" y1="446.7" x2="260.2" y2="451.1"/><line x1="286.7" y1="446.7" x2="286.7" y2="451.1"/></g>
<g stroke="#5fd09a" stroke-width="0.8" stroke-opacity="0.3"><line x1="255.3" y1="451.5" x2="286.4" y2="451.5"/><line x1="255.3" y1="449.3" x2="255.3" y2="453.7"/><line x1="286.4" y1="449.3" x2="286.4" y2="453.7"/></g>
<g stroke="#e1261c" stroke-width="0.8" stroke-opacity="0.3"><line x1="275.8" y1="317.6" x2="306.4" y2="317.6"/><line x1="275.8" y1="315.4" x2="275.8" y2="319.8"/><line x1="306.4" y1="315.4" x2="306.4" y2="319.8"/></g>
<g stroke="#e1261c" stroke-width="0.8" stroke-opacity="0.3"><line x1="273.1" y1="322.0" x2="300.3" y2="322.0"/><line x1="273.1" y1="319.8" x2="273.1" y2="324.2"/><line x1="300.3" y1="319.8" x2="300.3" y2="324.2"/></g>
<g stroke="#e1261c" stroke-width="0.8" stroke-opacity="0.3"><line x1="265.4" y1="326.1" x2="298.7" y2="326.1"/><line x1="265.4" y1="323.9" x2="265.4" y2="328.3"/><line x1="298.7" y1="323.9" x2="298.7" y2="328.3"/></g>
<g stroke="#e1261c" stroke-width="0.8" stroke-opacity="0.3"><line x1="284.1" y1="330.2" x2="312.7" y2="330.2"/><line x1="284.1" y1="328.0" x2="284.1" y2="332.4"/><line x1="312.7" y1="328.0" x2="312.7" y2="332.4"/></g>
<g stroke="#e1261c" stroke-width="0.8" stroke-opacity="0.3"><line x1="273.7" y1="334.1" x2="305.6" y2="334.1"/><line x1="273.7" y1="331.9" x2="273.7" y2="336.3"/><line x1="305.6" y1="331.9" x2="305.6" y2="336.3"/></g>
<g stroke="#e1261c" stroke-width="0.8" stroke-opacity="0.3"><line x1="276.4" y1="341.4" x2="307.2" y2="341.4"/><line x1="276.4" y1="339.2" x2="276.4" y2="343.6"/><line x1="307.2" y1="339.2" x2="307.2" y2="343.6"/></g>
<g stroke="#e1261c" stroke-width="0.8" stroke-opacity="0.3"><line x1="280.9" y1="343.6" x2="308.6" y2="343.6"/><line x1="280.9" y1="341.4" x2="280.9" y2="345.8"/><line x1="308.6" y1="341.4" x2="308.6" y2="345.8"/></g>
<g stroke="#e1261c" stroke-width="0.8" stroke-opacity="0.3"><line x1="274.6" y1="346.8" x2="303.2" y2="346.8"/><line x1="274.6" y1="344.6" x2="274.6" y2="349.0"/><line x1="303.2" y1="344.6" x2="303.2" y2="349.0"/></g>
<g stroke="#e1261c" stroke-width="0.8" stroke-opacity="0.3"><line x1="274.2" y1="352.4" x2="299.2" y2="352.4"/><line x1="274.2" y1="350.2" x2="274.2" y2="354.6"/><line x1="299.2" y1="350.2" x2="299.2" y2="354.6"/></g>
<g stroke="#e1261c" stroke-width="0.8" stroke-opacity="0.3"><line x1="272.2" y1="355.0" x2="298.3" y2="355.0"/><line x1="272.2" y1="352.8" x2="272.2" y2="357.2"/><line x1="298.3" y1="352.8" x2="298.3" y2="357.2"/></g>
<g stroke="#e1261c" stroke-width="0.8" stroke-opacity="0.3"><line x1="267.8" y1="355.9" x2="302.0" y2="355.9"/><line x1="267.8" y1="353.7" x2="267.8" y2="358.1"/><line x1="302.0" y1="353.7" x2="302.0" y2="358.1"/></g>
<g stroke="#e1261c" stroke-width="0.8" stroke-opacity="0.3"><line x1="272.7" y1="371.6" x2="300.5" y2="371.6"/><line x1="272.7" y1="369.4" x2="272.7" y2="373.8"/><line x1="300.5" y1="369.4" x2="300.5" y2="373.8"/></g>
<g stroke="#e1261c" stroke-width="0.8" stroke-opacity="0.3"><line x1="275.0" y1="376.9" x2="307.0" y2="376.9"/><line x1="275.0" y1="374.7" x2="275.0" y2="379.1"/><line x1="307.0" y1="374.7" x2="307.0" y2="379.1"/></g>
<g stroke="#e1261c" stroke-width="0.8" stroke-opacity="0.3"><line x1="273.1" y1="380.4" x2="298.4" y2="380.4"/><line x1="273.1" y1="378.2" x2="273.1" y2="382.6"/><line x1="298.4" y1="378.2" x2="298.4" y2="382.6"/></g>
<g stroke="#e1261c" stroke-width="0.8" stroke-opacity="0.3"><line x1="274.7" y1="395.3" x2="305.5" y2="395.3"/><line x1="274.7" y1="393.1" x2="274.7" y2="397.5"/><line x1="305.5" y1="393.1" x2="305.5" y2="397.5"/></g>
<g stroke="#e1261c" stroke-width="0.8" stroke-opacity="0.3"><line x1="273.3" y1="401.4" x2="301.7" y2="401.4"/><line x1="273.3" y1="399.2" x2="273.3" y2="403.6"/><line x1="301.7" y1="399.2" x2="301.7" y2="403.6"/></g>
<g stroke="#e1261c" stroke-width="0.8" stroke-opacity="0.3"><line x1="277.7" y1="407.6" x2="307.7" y2="407.6"/><line x1="277.7" y1="405.4" x2="277.7" y2="409.8"/><line x1="307.7" y1="405.4" x2="307.7" y2="409.8"/></g>
<g stroke="#e1261c" stroke-width="0.8" stroke-opacity="0.3"><line x1="259.7" y1="414.6" x2="287.3" y2="414.6"/><line x1="259.7" y1="412.4" x2="259.7" y2="416.8"/><line x1="287.3" y1="412.4" x2="287.3" y2="416.8"/></g>
<g stroke="#e1261c" stroke-width="0.8" stroke-opacity="0.3"><line x1="265.5" y1="421.6" x2="290.2" y2="421.6"/><line x1="265.5" y1="419.4" x2="265.5" y2="423.8"/><line x1="290.2" y1="419.4" x2="290.2" y2="423.8"/></g>
<g stroke="#e1261c" stroke-width="0.8" stroke-opacity="0.3"><line x1="262.2" y1="425.1" x2="290.0" y2="425.1"/><line x1="262.2" y1="422.9" x2="262.2" y2="427.3"/><line x1="290.0" y1="422.9" x2="290.0" y2="427.3"/></g>
<g stroke="#e1261c" stroke-width="0.8" stroke-opacity="0.3"><line x1="261.0" y1="427.9" x2="287.7" y2="427.9"/><line x1="261.0" y1="425.7" x2="261.0" y2="430.1"/><line x1="287.7" y1="425.7" x2="287.7" y2="430.1"/></g>
<g stroke="#e1261c" stroke-width="0.8" stroke-opacity="0.3"><line x1="256.3" y1="434.9" x2="281.8" y2="434.9"/><line x1="256.3" y1="432.7" x2="256.3" y2="437.1"/><line x1="281.8" y1="432.7" x2="281.8" y2="437.1"/></g>
<g stroke="#f28c1e" stroke-width="0.8" stroke-opacity="0.3"><line x1="272.1" y1="354.6" x2="300.7" y2="354.6"/><line x1="272.1" y1="352.4" x2="272.1" y2="356.8"/><line x1="300.7" y1="352.4" x2="300.7" y2="356.8"/></g>
<g stroke="#f28c1e" stroke-width="0.8" stroke-opacity="0.3"><line x1="274.0" y1="362.0" x2="297.4" y2="362.0"/><line x1="274.0" y1="359.8" x2="274.0" y2="364.2"/><line x1="297.4" y1="359.8" x2="297.4" y2="364.2"/></g>
<g stroke="#f28c1e" stroke-width="0.8" stroke-opacity="0.3"><line x1="268.9" y1="372.5" x2="293.8" y2="372.5"/><line x1="268.9" y1="370.3" x2="268.9" y2="374.7"/><line x1="293.8" y1="370.3" x2="293.8" y2="374.7"/></g>
<g stroke="#f28c1e" stroke-width="0.8" stroke-opacity="0.3"><line x1="272.0" y1="383.0" x2="302.9" y2="383.0"/><line x1="272.0" y1="380.8" x2="272.0" y2="385.2"/><line x1="302.9" y1="380.8" x2="302.9" y2="385.2"/></g>
<g stroke="#f28c1e" stroke-width="0.8" stroke-opacity="0.3"><line x1="269.3" y1="396.2" x2="298.6" y2="396.2"/><line x1="269.3" y1="394.0" x2="269.3" y2="398.4"/><line x1="298.6" y1="394.0" x2="298.6" y2="398.4"/></g>
<g stroke="#f28c1e" stroke-width="0.8" stroke-opacity="0.3"><line x1="262.6" y1="400.6" x2="293.1" y2="400.6"/><line x1="262.6" y1="398.4" x2="262.6" y2="402.8"/><line x1="293.1" y1="398.4" x2="293.1" y2="402.8"/></g>
<g stroke="#f28c1e" stroke-width="0.8" stroke-opacity="0.3"><line x1="255.7" y1="407.6" x2="286.0" y2="407.6"/><line x1="255.7" y1="405.4" x2="255.7" y2="409.8"/><line x1="286.0" y1="405.4" x2="286.0" y2="409.8"/></g>
<g stroke="#f28c1e" stroke-width="0.8" stroke-opacity="0.3"><line x1="256.5" y1="414.6" x2="278.1" y2="414.6"/><line x1="256.5" y1="412.4" x2="256.5" y2="416.8"/><line x1="278.1" y1="412.4" x2="278.1" y2="416.8"/></g>
<g stroke="#f28c1e" stroke-width="0.8" stroke-opacity="0.3"><line x1="248.7" y1="421.6" x2="272.0" y2="421.6"/><line x1="248.7" y1="419.4" x2="248.7" y2="423.8"/><line x1="272.0" y1="419.4" x2="272.0" y2="423.8"/></g>
<g stroke="#f28c1e" stroke-width="0.8" stroke-opacity="0.3"><line x1="248.4" y1="426.8" x2="268.8" y2="426.8"/><line x1="248.4" y1="424.6" x2="248.4" y2="429.0"/><line x1="268.8" y1="424.6" x2="268.8" y2="429.0"/></g>
<g stroke="#f28c1e" stroke-width="0.8" stroke-opacity="0.3"><line x1="248.0" y1="431.2" x2="276.2" y2="431.2"/><line x1="248.0" y1="429.0" x2="248.0" y2="433.4"/><line x1="276.2" y1="429.0" x2="276.2" y2="433.4"/></g>
<g stroke="#f28c1e" stroke-width="0.8" stroke-opacity="0.3"><line x1="255.1" y1="433.8" x2="283.1" y2="433.8"/><line x1="255.1" y1="431.6" x2="255.1" y2="436.0"/><line x1="283.1" y1="431.6" x2="283.1" y2="436.0"/></g>
<g stroke="#f28c1e" stroke-width="0.8" stroke-opacity="0.3"><line x1="271.0" y1="436.6" x2="295.2" y2="436.6"/><line x1="271.0" y1="434.4" x2="271.0" y2="438.8"/><line x1="295.2" y1="434.4" x2="295.2" y2="438.8"/></g>
<g stroke="#f28c1e" stroke-width="0.8" stroke-opacity="0.3"><line x1="260.1" y1="441.0" x2="285.1" y2="441.0"/><line x1="260.1" y1="438.8" x2="260.1" y2="443.2"/><line x1="285.1" y1="438.8" x2="285.1" y2="443.2"/></g>
<g stroke="#f28c1e" stroke-width="0.8" stroke-opacity="0.3"><line x1="248.1" y1="448.9" x2="276.0" y2="448.9"/><line x1="248.1" y1="446.7" x2="248.1" y2="451.1"/><line x1="276.0" y1="446.7" x2="276.0" y2="451.1"/></g>
<g stroke="#f28c1e" stroke-width="0.8" stroke-opacity="0.3"><line x1="254.0" y1="455.9" x2="282.4" y2="455.9"/><line x1="254.0" y1="453.7" x2="254.0" y2="458.1"/><line x1="282.4" y1="453.7" x2="282.4" y2="458.1"/></g>
<g stroke="#f28c1e" stroke-width="0.8" stroke-opacity="0.3"><line x1="251.5" y1="460.6" x2="274.5" y2="460.6"/><line x1="251.5" y1="458.4" x2="251.5" y2="462.8"/><line x1="274.5" y1="458.4" x2="274.5" y2="462.8"/></g>
<g stroke="#f28c1e" stroke-width="0.8" stroke-opacity="0.3"><line x1="247.9" y1="464.7" x2="278.0" y2="464.7"/><line x1="247.9" y1="462.5" x2="247.9" y2="466.9"/><line x1="278.0" y1="462.5" x2="278.0" y2="466.9"/></g>
<g stroke="#2a309c" stroke-width="0.8" stroke-opacity="0.3"><line x1="272.0" y1="290.0" x2="302.3" y2="290.0"/><line x1="272.0" y1="287.8" x2="272.0" y2="292.2"/><line x1="302.3" y1="287.8" x2="302.3" y2="292.2"/></g>
<g stroke="#2a309c" stroke-width="0.8" stroke-opacity="0.3"><line x1="269.2" y1="293.7" x2="302.8" y2="293.7"/><line x1="269.2" y1="291.5" x2="269.2" y2="295.9"/><line x1="302.8" y1="291.5" x2="302.8" y2="295.9"/></g>
<g stroke="#2a309c" stroke-width="0.8" stroke-opacity="0.3"><line x1="274.8" y1="299.1" x2="303.0" y2="299.1"/><line x1="274.8" y1="296.9" x2="274.8" y2="301.3"/><line x1="303.0" y1="296.9" x2="303.0" y2="301.3"/></g>
<g stroke="#2a309c" stroke-width="0.8" stroke-opacity="0.3"><line x1="278.1" y1="314.4" x2="305.5" y2="314.4"/><line x1="278.1" y1="312.2" x2="278.1" y2="316.6"/><line x1="305.5" y1="312.2" x2="305.5" y2="316.6"/></g>
<g stroke="#2a309c" stroke-width="0.8" stroke-opacity="0.3"><line x1="274.8" y1="321.7" x2="311.8" y2="321.7"/><line x1="274.8" y1="319.5" x2="274.8" y2="323.9"/><line x1="311.8" y1="319.5" x2="311.8" y2="323.9"/></g>
<g stroke="#2a309c" stroke-width="0.8" stroke-opacity="0.3"><line x1="283.2" y1="325.1" x2="318.0" y2="325.1"/><line x1="283.2" y1="322.9" x2="283.2" y2="327.3"/><line x1="318.0" y1="322.9" x2="318.0" y2="327.3"/></g>
<g stroke="#2a309c" stroke-width="0.8" stroke-opacity="0.3"><line x1="276.7" y1="327.8" x2="311.3" y2="327.8"/><line x1="276.7" y1="325.6" x2="276.7" y2="330.0"/><line x1="311.3" y1="325.6" x2="311.3" y2="330.0"/></g>
<g stroke="#2a309c" stroke-width="0.8" stroke-opacity="0.3"><line x1="288.8" y1="330.9" x2="315.3" y2="330.9"/><line x1="288.8" y1="328.7" x2="288.8" y2="333.1"/><line x1="315.3" y1="328.7" x2="315.3" y2="333.1"/></g>
<g stroke="#2a309c" stroke-width="0.8" stroke-opacity="0.3"><line x1="285.2" y1="334.1" x2="311.6" y2="334.1"/><line x1="285.2" y1="331.9" x2="285.2" y2="336.3"/><line x1="311.6" y1="331.9" x2="311.6" y2="336.3"/></g>
<g stroke="#2a309c" stroke-width="0.8" stroke-opacity="0.3"><line x1="285.2" y1="337.5" x2="313.1" y2="337.5"/><line x1="285.2" y1="335.3" x2="285.2" y2="339.7"/><line x1="313.1" y1="335.3" x2="313.1" y2="339.7"/></g>
<g stroke="#2a309c" stroke-width="0.8" stroke-opacity="0.3"><line x1="282.0" y1="340.7" x2="310.4" y2="340.7"/><line x1="282.0" y1="338.5" x2="282.0" y2="342.9"/><line x1="310.4" y1="338.5" x2="310.4" y2="342.9"/></g>
<g stroke="#2a309c" stroke-width="0.8" stroke-opacity="0.3"><line x1="282.8" y1="343.3" x2="312.5" y2="343.3"/><line x1="282.8" y1="341.1" x2="282.8" y2="345.5"/><line x1="312.5" y1="341.1" x2="312.5" y2="345.5"/></g>
<g stroke="#2a309c" stroke-width="0.8" stroke-opacity="0.3"><line x1="278.0" y1="346.8" x2="308.6" y2="346.8"/><line x1="278.0" y1="344.6" x2="278.0" y2="349.0"/><line x1="308.6" y1="344.6" x2="308.6" y2="349.0"/></g>
<g stroke="#2a309c" stroke-width="0.8" stroke-opacity="0.3"><line x1="280.5" y1="350.2" x2="307.0" y2="350.2"/><line x1="280.5" y1="348.0" x2="280.5" y2="352.4"/><line x1="307.0" y1="348.0" x2="307.0" y2="352.4"/></g>
<g stroke="#2a309c" stroke-width="0.8" stroke-opacity="0.3"><line x1="276.2" y1="354.6" x2="306.0" y2="354.6"/><line x1="276.2" y1="352.4" x2="276.2" y2="356.8"/><line x1="306.0" y1="352.4" x2="306.0" y2="356.8"/></g>
<g stroke="#2a309c" stroke-width="0.8" stroke-opacity="0.3"><line x1="273.3" y1="355.9" x2="306.9" y2="355.9"/><line x1="273.3" y1="353.7" x2="273.3" y2="358.1"/><line x1="306.9" y1="353.7" x2="306.9" y2="358.1"/></g>
<g stroke="#2a309c" stroke-width="0.8" stroke-opacity="0.3"><line x1="274.3" y1="365.5" x2="302.4" y2="365.5"/><line x1="274.3" y1="363.3" x2="274.3" y2="367.7"/><line x1="302.4" y1="363.3" x2="302.4" y2="367.7"/></g>
<g stroke="#2a309c" stroke-width="0.8" stroke-opacity="0.3"><line x1="266.8" y1="377.8" x2="302.9" y2="377.8"/><line x1="266.8" y1="375.6" x2="266.8" y2="380.0"/><line x1="302.9" y1="375.6" x2="302.9" y2="380.0"/></g>
<g stroke="#2a309c" stroke-width="0.8" stroke-opacity="0.3"><line x1="275.1" y1="383.9" x2="307.9" y2="383.9"/><line x1="275.1" y1="381.7" x2="275.1" y2="386.1"/><line x1="307.9" y1="381.7" x2="307.9" y2="386.1"/></g>
<g stroke="#2a309c" stroke-width="0.8" stroke-opacity="0.3"><line x1="271.1" y1="387.4" x2="305.7" y2="387.4"/><line x1="271.1" y1="385.2" x2="271.1" y2="389.6"/><line x1="305.7" y1="385.2" x2="305.7" y2="389.6"/></g>
<g stroke="#2a309c" stroke-width="0.8" stroke-opacity="0.3"><line x1="268.6" y1="390.0" x2="297.6" y2="390.0"/><line x1="268.6" y1="387.8" x2="268.6" y2="392.2"/><line x1="297.6" y1="387.8" x2="297.6" y2="392.2"/></g>
<g stroke="#2a309c" stroke-width="0.8" stroke-opacity="0.3"><line x1="264.9" y1="398.8" x2="296.1" y2="398.8"/><line x1="264.9" y1="396.6" x2="264.9" y2="401.0"/><line x1="296.1" y1="396.6" x2="296.1" y2="401.0"/></g>
<g stroke="#2a309c" stroke-width="0.8" stroke-opacity="0.3"><line x1="259.0" y1="402.3" x2="293.2" y2="402.3"/><line x1="259.0" y1="400.1" x2="259.0" y2="404.5"/><line x1="293.2" y1="400.1" x2="293.2" y2="404.5"/></g>
<g stroke="#2a309c" stroke-width="0.8" stroke-opacity="0.3"><line x1="265.4" y1="407.2" x2="295.6" y2="407.2"/><line x1="265.4" y1="405.0" x2="265.4" y2="409.4"/><line x1="295.6" y1="405.0" x2="295.6" y2="409.4"/></g>
<g stroke="#2a309c" stroke-width="0.8" stroke-opacity="0.3"><line x1="253.5" y1="411.9" x2="279.5" y2="411.9"/><line x1="253.5" y1="409.7" x2="253.5" y2="414.1"/><line x1="279.5" y1="409.7" x2="279.5" y2="414.1"/></g>
<g stroke="#2a309c" stroke-width="0.8" stroke-opacity="0.3"><line x1="245.8" y1="419.8" x2="281.8" y2="419.8"/><line x1="245.8" y1="417.6" x2="245.8" y2="422.0"/><line x1="281.8" y1="417.6" x2="281.8" y2="422.0"/></g>
<g stroke="#2a309c" stroke-width="0.8" stroke-opacity="0.3"><line x1="258.4" y1="424.2" x2="293.8" y2="424.2"/><line x1="258.4" y1="422.0" x2="258.4" y2="426.4"/><line x1="293.8" y1="422.0" x2="293.8" y2="426.4"/></g>
<g stroke="#2a309c" stroke-width="0.8" stroke-opacity="0.3"><line x1="236.9" y1="429.5" x2="266.3" y2="429.5"/><line x1="236.9" y1="427.3" x2="236.9" y2="431.7"/><line x1="266.3" y1="427.3" x2="266.3" y2="431.7"/></g>
<g stroke="#2a309c" stroke-width="0.8" stroke-opacity="0.3"><line x1="240.9" y1="433.8" x2="267.5" y2="433.8"/><line x1="240.9" y1="431.6" x2="240.9" y2="436.0"/><line x1="267.5" y1="431.6" x2="267.5" y2="436.0"/></g>
<g stroke="#2a309c" stroke-width="0.8" stroke-opacity="0.3"><line x1="237.0" y1="434.9" x2="273.2" y2="434.9"/><line x1="237.0" y1="432.7" x2="237.0" y2="437.1"/><line x1="273.2" y1="432.7" x2="273.2" y2="437.1"/></g>
<g stroke="#2a309c" stroke-width="0.8" stroke-opacity="0.3"><line x1="242.8" y1="440.1" x2="276.1" y2="440.1"/><line x1="242.8" y1="437.9" x2="242.8" y2="442.3"/><line x1="276.1" y1="437.9" x2="276.1" y2="442.3"/></g>
<g stroke="#2a309c" stroke-width="0.8" stroke-opacity="0.3"><line x1="253.2" y1="447.2" x2="279.7" y2="447.2"/><line x1="253.2" y1="445.0" x2="253.2" y2="449.4"/><line x1="279.7" y1="445.0" x2="279.7" y2="449.4"/></g>
<g stroke="#2a309c" stroke-width="0.8" stroke-opacity="0.3"><line x1="242.4" y1="452.1" x2="271.3" y2="452.1"/><line x1="242.4" y1="449.9" x2="242.4" y2="454.3"/><line x1="271.3" y1="449.9" x2="271.3" y2="454.3"/></g>
<g stroke="#2a309c" stroke-width="0.8" stroke-opacity="0.3"><line x1="253.7" y1="457.7" x2="281.0" y2="457.7"/><line x1="253.7" y1="455.5" x2="253.7" y2="459.9"/><line x1="281.0" y1="455.5" x2="281.0" y2="459.9"/></g>
<g stroke="#2a309c" stroke-width="0.8" stroke-opacity="0.3"><line x1="229.4" y1="462.6" x2="264.9" y2="462.6"/><line x1="229.4" y1="460.4" x2="229.4" y2="464.8"/><line x1="264.9" y1="460.4" x2="264.9" y2="464.8"/></g>
<g stroke="#2a309c" stroke-width="0.8" stroke-opacity="0.3"><line x1="234.2" y1="467.7" x2="262.7" y2="467.7"/><line x1="234.2" y1="465.5" x2="234.2" y2="469.9"/><line x1="262.7" y1="465.5" x2="262.7" y2="469.9"/></g>
<g stroke="#2a309c" stroke-width="0.8" stroke-opacity="0.3"><line x1="236.2" y1="471.9" x2="273.2" y2="471.9"/><line x1="236.2" y1="469.7" x2="236.2" y2="474.1"/><line x1="273.2" y1="469.7" x2="273.2" y2="474.1"/></g>
<polyline points="305.7,290.8 294.7,301.0 303.2,306.8 300.1,311.2 291.8,314.4 307.4,317.6 299.9,323.9 298.1,333.4 296.9,337.8 294.7,346.5 294.3,353.8 293.6,365.5 295.0,369.0 291.9,374.3 287.5,377.8 285.7,390.0 284.9,400.6 287.5,403.2 279.6,424.4 272.6,430.5 272.2,444.5 273.5,448.9 270.8,451.5" fill="none" stroke="#5fd09a" stroke-width="1.1" stroke-linejoin="round" />
<circle cx="305.7" cy="290.8" r="1.15" fill="#5fd09a"/>
<circle cx="294.7" cy="301.0" r="1.15" fill="#5fd09a"/>
<circle cx="303.2" cy="306.8" r="1.15" fill="#5fd09a"/>
<circle cx="300.1" cy="311.2" r="1.15" fill="#5fd09a"/>
<circle cx="291.8" cy="314.4" r="1.15" fill="#5fd09a"/>
<circle cx="307.4" cy="317.6" r="1.15" fill="#5fd09a"/>
<circle cx="299.9" cy="323.9" r="1.15" fill="#5fd09a"/>
<circle cx="298.1" cy="333.4" r="1.15" fill="#5fd09a"/>
<circle cx="296.9" cy="337.8" r="1.15" fill="#5fd09a"/>
<circle cx="294.7" cy="346.5" r="1.15" fill="#5fd09a"/>
<circle cx="294.3" cy="353.8" r="1.15" fill="#5fd09a"/>
<circle cx="293.6" cy="365.5" r="1.15" fill="#5fd09a"/>
<circle cx="295.0" cy="369.0" r="1.15" fill="#5fd09a"/>
<circle cx="291.9" cy="374.3" r="1.15" fill="#5fd09a"/>
<circle cx="287.5" cy="377.8" r="1.15" fill="#5fd09a"/>
<circle cx="285.7" cy="390.0" r="1.15" fill="#5fd09a"/>
<circle cx="284.9" cy="400.6" r="1.15" fill="#5fd09a"/>
<circle cx="287.5" cy="403.2" r="1.15" fill="#5fd09a"/>
<circle cx="279.6" cy="424.4" r="1.15" fill="#5fd09a"/>
<circle cx="272.6" cy="430.5" r="1.15" fill="#5fd09a"/>
<circle cx="272.2" cy="444.5" r="1.15" fill="#5fd09a"/>
<circle cx="273.5" cy="448.9" r="1.15" fill="#5fd09a"/>
<circle cx="270.8" cy="451.5" r="1.15" fill="#5fd09a"/>
<polyline points="286.4,354.6 285.7,362.0 281.4,372.5 287.5,383.0 284.0,396.2 277.9,400.6 270.8,407.6 267.3,414.6 260.3,421.6 258.6,426.8 262.1,431.2 269.1,433.8 283.1,436.6 272.6,441.0 262.1,448.9 268.2,455.9 263.0,460.6 263.0,464.7" fill="none" stroke="#f28c1e" stroke-width="1.1" stroke-linejoin="round" />
<circle cx="286.4" cy="354.6" r="1.15" fill="#f28c1e"/>
<circle cx="285.7" cy="362.0" r="1.15" fill="#f28c1e"/>
<circle cx="281.4" cy="372.5" r="1.15" fill="#f28c1e"/>
<circle cx="287.5" cy="383.0" r="1.15" fill="#f28c1e"/>
<circle cx="284.0" cy="396.2" r="1.15" fill="#f28c1e"/>
<circle cx="277.9" cy="400.6" r="1.15" fill="#f28c1e"/>
<circle cx="270.8" cy="407.6" r="1.15" fill="#f28c1e"/>
<circle cx="267.3" cy="414.6" r="1.15" fill="#f28c1e"/>
<circle cx="260.3" cy="421.6" r="1.15" fill="#f28c1e"/>
<circle cx="258.6" cy="426.8" r="1.15" fill="#f28c1e"/>
<circle cx="262.1" cy="431.2" r="1.15" fill="#f28c1e"/>
<circle cx="269.1" cy="433.8" r="1.15" fill="#f28c1e"/>
<circle cx="283.1" cy="436.6" r="1.15" fill="#f28c1e"/>
<circle cx="272.6" cy="441.0" r="1.15" fill="#f28c1e"/>
<circle cx="262.1" cy="448.9" r="1.15" fill="#f28c1e"/>
<circle cx="268.2" cy="455.9" r="1.15" fill="#f28c1e"/>
<circle cx="263.0" cy="460.6" r="1.15" fill="#f28c1e"/>
<circle cx="263.0" cy="464.7" r="1.15" fill="#f28c1e"/>
<polyline points="291.1,317.6 286.7,322.0 282.0,326.1 298.4,330.2 289.6,334.1 291.8,341.4 294.7,343.6 288.9,346.8 286.7,352.4 285.3,355.0 284.9,355.9 286.6,371.6 291.0,376.9 285.7,380.4 290.1,395.3 287.5,401.4 292.7,407.6 273.5,414.6 277.9,421.6 276.1,425.1 274.3,427.9 269.1,434.9" fill="none" stroke="#e1261c" stroke-width="1.1" stroke-linejoin="round" />
<circle cx="291.1" cy="317.6" r="1.15" fill="#e1261c"/>
<circle cx="286.7" cy="322.0" r="1.15" fill="#e1261c"/>
<circle cx="282.0" cy="326.1" r="1.15" fill="#e1261c"/>
<circle cx="298.4" cy="330.2" r="1.15" fill="#e1261c"/>
<circle cx="289.6" cy="334.1" r="1.15" fill="#e1261c"/>
<circle cx="291.8" cy="341.4" r="1.15" fill="#e1261c"/>
<circle cx="294.7" cy="343.6" r="1.15" fill="#e1261c"/>
<circle cx="288.9" cy="346.8" r="1.15" fill="#e1261c"/>
<circle cx="286.7" cy="352.4" r="1.15" fill="#e1261c"/>
<circle cx="285.3" cy="355.0" r="1.15" fill="#e1261c"/>
<circle cx="284.9" cy="355.9" r="1.15" fill="#e1261c"/>
<circle cx="286.6" cy="371.6" r="1.15" fill="#e1261c"/>
<circle cx="291.0" cy="376.9" r="1.15" fill="#e1261c"/>
<circle cx="285.7" cy="380.4" r="1.15" fill="#e1261c"/>
<circle cx="290.1" cy="395.3" r="1.15" fill="#e1261c"/>
<circle cx="287.5" cy="401.4" r="1.15" fill="#e1261c"/>
<circle cx="292.7" cy="407.6" r="1.15" fill="#e1261c"/>
<circle cx="273.5" cy="414.6" r="1.15" fill="#e1261c"/>
<circle cx="277.9" cy="421.6" r="1.15" fill="#e1261c"/>
<circle cx="276.1" cy="425.1" r="1.15" fill="#e1261c"/>
<circle cx="274.3" cy="427.9" r="1.15" fill="#e1261c"/>
<circle cx="269.1" cy="434.9" r="1.15" fill="#e1261c"/>
<polyline points="287.2,290.0 286.0,293.7 288.9,299.1 291.8,314.4 293.3,321.7 300.6,325.1 294.0,327.8 302.0,330.9 298.4,334.1 299.1,337.5 296.2,340.7 297.7,343.3 293.3,346.8 293.7,350.2 291.1,354.6 290.1,355.9 288.4,365.5 284.9,377.8 291.5,383.9 288.4,387.4 283.1,390.0 280.5,398.8 276.1,402.3 280.5,407.2 266.5,411.9 263.8,419.8 276.1,424.2 251.6,429.5 254.2,433.8 255.1,434.9 259.5,440.1 266.5,447.2 256.8,452.1 267.3,457.7 247.2,462.6 248.4,467.7 254.7,471.9" fill="none" stroke="#2a309c" stroke-width="1.1" stroke-linejoin="round" />
<circle cx="287.2" cy="290.0" r="1.15" fill="#2a309c"/>
<circle cx="286.0" cy="293.7" r="1.15" fill="#2a309c"/>
<circle cx="288.9" cy="299.1" r="1.15" fill="#2a309c"/>
<circle cx="291.8" cy="314.4" r="1.15" fill="#2a309c"/>
<circle cx="293.3" cy="321.7" r="1.15" fill="#2a309c"/>
<circle cx="300.6" cy="325.1" r="1.15" fill="#2a309c"/>
<circle cx="294.0" cy="327.8" r="1.15" fill="#2a309c"/>
<circle cx="302.0" cy="330.9" r="1.15" fill="#2a309c"/>
<circle cx="298.4" cy="334.1" r="1.15" fill="#2a309c"/>
<circle cx="299.1" cy="337.5" r="1.15" fill="#2a309c"/>
<circle cx="296.2" cy="340.7" r="1.15" fill="#2a309c"/>
<circle cx="297.7" cy="343.3" r="1.15" fill="#2a309c"/>
<circle cx="293.3" cy="346.8" r="1.15" fill="#2a309c"/>
<circle cx="293.7" cy="350.2" r="1.15" fill="#2a309c"/>
<circle cx="291.1" cy="354.6" r="1.15" fill="#2a309c"/>
<circle cx="290.1" cy="355.9" r="1.15" fill="#2a309c"/>
<circle cx="288.4" cy="365.5" r="1.15" fill="#2a309c"/>
<circle cx="284.9" cy="377.8" r="1.15" fill="#2a309c"/>
<circle cx="291.5" cy="383.9" r="1.15" fill="#2a309c"/>
<circle cx="288.4" cy="387.4" r="1.15" fill="#2a309c"/>
<circle cx="283.1" cy="390.0" r="1.15" fill="#2a309c"/>
<circle cx="280.5" cy="398.8" r="1.15" fill="#2a309c"/>
<circle cx="276.1" cy="402.3" r="1.15" fill="#2a309c"/>
<circle cx="280.5" cy="407.2" r="1.15" fill="#2a309c"/>
<circle cx="266.5" cy="411.9" r="1.15" fill="#2a309c"/>
<circle cx="263.8" cy="419.8" r="1.15" fill="#2a309c"/>
<circle cx="276.1" cy="424.2" r="1.15" fill="#2a309c"/>
<circle cx="251.6" cy="429.5" r="1.15" fill="#2a309c"/>
<circle cx="254.2" cy="433.8" r="1.15" fill="#2a309c"/>
<circle cx="255.1" cy="434.9" r="1.15" fill="#2a309c"/>
<circle cx="259.5" cy="440.1" r="1.15" fill="#2a309c"/>
<circle cx="266.5" cy="447.2" r="1.15" fill="#2a309c"/>
<circle cx="256.8" cy="452.1" r="1.15" fill="#2a309c"/>
<circle cx="267.3" cy="457.7" r="1.15" fill="#2a309c"/>
<circle cx="247.2" cy="462.6" r="1.15" fill="#2a309c"/>
<circle cx="248.4" cy="467.7" r="1.15" fill="#2a309c"/>
<circle cx="254.7" cy="471.9" r="1.15" fill="#2a309c"/>
<polyline points="507.2,279.8 508.2,313.5 523.4,332.5" fill="none" stroke="#5fd09a" stroke-width="0.95" stroke-linejoin="round" />
<polyline points="523.4,279.8 513.9,289.8 519.6,296.5 512.9,302.2 513.9,307.9 520.5,312.0 513.9,314.5 521.5,324.0 518.6,328.7 523.4,332.5" fill="none" stroke="#5fd09a" stroke-width="0.75" stroke-linejoin="round" stroke-dasharray="2.6,1.8"/>
<polyline points="521.5,358.5 519.5,358.7 521.5,359.4 518.2,360.1 519.7,360.1 516.7,360.8 517.7,361.3 518.6,361.9 515.1,362.5 517.0,362.7 514.7,363.3 515.4,363.7 513.9,364.2 513.1,364.3 516.8,364.5 515.0,365.3 517.7,365.5 516.2,365.8 518.6,366.1 520.4,366.4 519.6,366.9 521.7,367.3 521.5,368.0 520.2,368.3 521.7,369.2 519.3,369.6 520.5,370.3 517.3,370.8 519.1,371.7 517.4,372.1 518.2,372.8 515.8,373.4 516.9,373.9 514.7,374.4 516.7,375.2 514.8,375.5 514.8,376.1 516.6,376.6 515.8,377.3 517.3,378.2 516.2,378.5 517.7,379.3 518.1,380.0 516.1,380.5 517.1,381.1 514.6,382.3 516.4,382.9 513.9,383.5 515.7,384.2 514.0,384.7 515.6,385.3 512.6,386.3 513.9,386.9 514.4,387.5 511.3,387.4 512.5,387.7 510.7,388.3 511.9,388.4 509.1,388.9 510.5,389.4 507.8,389.6 509.1,389.9 506.2,389.9 506.3,390.4 507.0,390.5 503.9,390.8 504.8,391.2 502.6,391.0 503.6,391.6 500.3,391.8 502.5,392.2 499.2,392.2 500.0,392.3 498.7,392.6 496.8,392.5 498.5,392.7 495.5,393.3 496.2,392.8 494.0,393.1 495.6,393.1 492.0,393.7 494.2,393.6 491.3,393.8 492.3,393.8 489.7,394.0 491.0,394.3 487.5,394.0 489.0,394.3 486.4,394.4 487.4,394.4 485.3,394.7 487.0,395.1 483.1,395.3 485.5,395.2 481.7,395.0 483.6,395.4 481.6,395.5 481.6,395.7 484.7,395.8 482.6,395.8 485.4,396.3 484.9,396.1 487.3,396.4 486.3,396.7 488.4,396.8 487.3,396.9 490.1,397.0 489.2,397.0 492.0,397.4 490.7,397.8 492.6,397.4 491.6,397.7 494.4,398.0 493.5,398.2 494.9,398.3 494.6,398.4 492.2,398.3 493.5,398.4 490.9,399.0 492.1,399.0 488.9,398.7 491.1,399.2 488.2,399.4 488.8,399.1 485.5,399.4 487.7,399.2 484.2,399.3 485.5,399.6 483.7,399.8 483.9,399.8 481.2,399.9 483.2,400.2 479.4,400.2 481.7,400.5 478.8,400.5 479.4,400.7 477.8,400.6 477.3,400.9 479.8,400.7 478.7,401.1 482.1,400.7 480.4,400.8 483.4,401.3 482.5,401.5 485.0,401.2 483.9,401.4 486.7,401.5 485.5,401.3 487.3,401.8 486.9,401.8 489.0,401.9 488.1,401.7 491.3,402.0 489.2,402.3 492.9,401.9 491.2,402.1 493.7,402.6 492.0,402.2 494.8,402.7 493.7,402.6 496.7,402.5 495.0,402.7 498.7,403.0 497.5,402.9 498.7,403.1 498.7,403.9 496.4,404.0 497.5,404.8 495.3,405.5 496.6,405.9 494.8,406.7 495.3,406.9 493.9,407.8 495.3,408.3 493.6,408.9 494.2,408.8 491.9,409.2 493.1,409.7 491.0,410.1 492.1,410.7 488.6,410.5 490.7,411.3 487.4,411.6 489.4,411.9 486.7,412.0 486.8,412.5 488.8,413.2 486.4,413.5 489.4,413.9 488.0,414.2 491.2,414.5 489.5,415.0 491.7,415.4 491.1,416.2 493.5,416.2 493.1,416.8 491.9,417.0 492.7,417.4 491.0,418.3 491.7,418.5 489.0,418.9 490.1,419.2 488.2,419.8 489.6,420.4 486.1,420.7 488.7,421.3 486.0,421.5 487.0,422.5 484.5,422.8 484.7,423.1 485.9,424.1 484.8,424.7 487.0,425.4 485.0,426.0 486.6,426.9 485.0,427.7 487.4,428.5 486.8,429.5" fill="none" stroke="#5fd09a" stroke-width="0.75" stroke-linejoin="round" />
<polyline points="526.2,358.5 524.5,361.1 525.8,363.0 523.0,365.9 523.4,368.0 526.5,369.0 526.6,370.7 530.0,371.8 528.5,373.0 525.2,374.6 524.9,376.1 521.5,377.4 522.0,379.2 525.3,381.2 524.0,382.8 520.5,384.0 520.6,385.4 517.7,386.9 515.4,388.2 514.2,389.5 511.3,390.7 511.0,391.9 507.4,393.0 506.3,394.5 510.1,395.2 510.0,395.5 513.9,396.4 512.6,397.7 508.7,398.5 507.5,399.6 503.6,400.7 502.5,402.1 506.2,403.3 506.7,404.7 510.1,405.9 508.3,406.1 503.8,405.9 503.2,406.0 499.5,406.2 501.1,406.9 505.9,407.1 506.3,408.0 510.1,408.3 508.7,409.4 505.0,411.0 504.2,411.6 500.8,413.2 500.6,414.3 496.0,415.4 495.3,416.8 498.5,417.6 499.2,418.7 501.6,419.9 499.8,420.7 496.5,421.2 496.6,422.0 492.7,422.7 492.1,423.8 488.4,424.0 487.9,424.9 483.3,425.8 483.5,426.4 479.3,427.2 479.0,428.2 475.8,428.9 474.1,429.5" fill="none" stroke="#5fd09a" stroke-width="0.75" stroke-linejoin="round" stroke-dasharray="2.6,1.8"/>
<polyline points="472.0,441.1 472.4,441.3 474.2,441.6 473.9,441.6 475.7,442.0 474.5,441.9 477.0,441.9 476.7,442.1 478.5,442.1 477.7,442.5 480.1,442.9 479.8,442.8 481.5,443.1 480.6,442.9 482.6,443.2 482.9,443.7 480.6,443.6 481.2,444.2 479.3,444.4 480.0,444.5 477.4,445.0 478.1,445.3 476.2,445.5 477.4,445.4 474.3,446.2 475.4,445.8 474.1,446.4 474.5,446.8 475.9,446.9 475.9,447.0 477.5,446.8 476.9,446.9 479.3,447.5 478.3,447.7 481.5,447.3 480.4,447.9 482.7,447.6 481.6,447.9 483.9,448.0 483.6,448.6 484.7,448.5 484.5,448.9 482.8,448.7 482.9,448.8 481.2,449.1 481.4,449.2 479.4,449.0 480.1,449.3 477.4,449.4 478.5,449.8 476.0,449.8 477.1,449.6 475.2,449.7 475.3,450.0 473.5,450.2 474.2,450.0 471.7,450.5 472.9,450.5 470.2,450.9 471.7,450.9 469.1,450.7 469.8,451.3 467.6,451.0 468.3,451.0 465.4,451.0 467.0,451.7 464.8,451.6 464.6,451.7 466.0,451.6 465.6,451.6 468.1,452.0 466.4,451.6 469.5,451.9 468.2,452.1 470.6,452.4 470.5,452.3 472.7,452.2 471.4,452.5 473.6,452.4 472.8,452.3 475.7,452.4 474.5,452.5 477.2,452.4 476.0,452.6 478.2,452.7 477.9,453.0 480.0,452.9 479.2,452.8 481.3,452.7 480.3,453.0 483.2,453.0 482.0,452.9 484.4,453.3 484.7,453.2" fill="none" stroke="#5fd09a" stroke-width="0.75" stroke-linejoin="round" />
<polyline points="481.5,441.1 493.1,443.2 482.6,447.4 509.0,448.5 484.7,452.7 499.5,453.8 497.4,457.0 508.0,460.1 486.8,468.6 499.5,471.8 502.7,478.1 498.4,484.5 505.8,486.2" fill="none" stroke="#5fd09a" stroke-width="0.75" stroke-linejoin="round" stroke-dasharray="2.6,1.8"/>
<polyline points="473.0,440.5 493.1,441.7 476.2,445.1 499.5,446.8 472.0,449.8" fill="none" stroke="#5fd09a" stroke-width="0.75" stroke-linejoin="round" stroke-dasharray="2.6,1.8"/>
<polyline points="450.3,270.3 448.7,270.7 450.4,271.3 446.8,271.1 448.5,272.0 445.6,271.9 446.9,272.4 445.2,272.8 446.5,273.3 443.4,273.4 444.6,274.4 441.8,274.4 443.4,275.0 441.8,275.2 441.1,275.1 444.5,275.2 443.0,275.2 445.6,275.3 444.7,275.2 446.9,275.6 446.6,275.4 449.1,275.5 447.7,275.6 450.7,275.5 448.8,276.0 451.4,275.8 450.1,276.0 453.1,275.7 452.1,276.0 455.1,276.0 453.6,276.2 456.7,276.1 455.2,276.3 458.4,276.1 455.9,276.5 459.1,276.5 458.2,276.2 459.8,276.5 460.4,276.7 457.3,277.0 459.2,277.4 456.6,277.5 457.2,277.7 454.0,277.9 455.8,278.4 453.2,278.4 454.4,278.9 451.4,279.1 452.8,278.9 451.2,279.4 450.6,279.9 453.9,280.6 452.6,280.8 454.2,281.7 453.9,281.8 456.4,282.6 455.3,283.2 457.6,283.6 456.9,284.1 457.2,284.7 459.2,285.0 457.3,285.5 461.2,285.5 459.5,286.2 461.4,286.9 461.7,287.0 460.2,287.0 460.9,287.1 457.9,287.5 459.7,287.5 457.5,287.6 458.6,288.1 454.9,287.9 456.2,287.9 453.8,288.3 455.1,288.5 452.2,288.6 454.0,288.6 450.2,289.0 451.5,289.0 450.3,289.3 450.0,289.4 453.0,289.6 451.9,290.1 454.1,290.3 452.7,290.4 455.9,290.9 454.8,291.1 456.9,291.0 456.1,291.0 459.6,291.2 458.8,291.7 457.2,292.2 459.5,293.0 456.0,293.6 458.2,294.4 455.7,294.7 456.0,295.5 456.8,295.8 453.1,296.3 454.6,296.7 452.1,297.7 453.7,298.0 452.2,298.4 452.2,298.9 455.0,298.6 454.0,299.2 455.6,299.5 455.2,299.4 457.8,299.7 456.3,299.9 459.7,300.2 457.4,300.4 461.1,301.1 459.5,300.8 462.0,301.4 461.2,301.6 462.6,301.8 462.3,301.7 459.7,301.5 461.6,301.2 458.1,301.1 460.3,301.6 456.4,301.2 457.9,301.0 455.1,301.0 457.2,300.6 453.9,301.0 454.1,300.6" fill="none" stroke="#2a309c" stroke-width="0.7" stroke-linejoin="round" />
<polyline points="456.9,322.7 454.6,323.1 456.1,323.4 453.7,324.3 456.0,324.3 453.1,324.9 451.7,324.8 456.3,325.6 454.3,325.7 458.0,325.4 455.9,325.8 458.7,326.1 457.8,326.3 460.4,326.1 458.6,326.2 462.4,326.8 461.7,326.8 459.4,327.2 460.9,327.6 459.0,328.1 459.8,328.4 457.2,328.7 459.4,328.9 456.2,329.8 457.5,330.1 453.6,330.2 455.0,330.6 456.5,330.6 454.3,330.8 458.6,331.3 457.3,331.5 459.5,331.7 458.0,331.9 461.0,332.1 460.0,332.2 462.5,332.8 460.9,333.1 463.6,333.3 462.4,333.4 464.5,333.5 465.4,333.9 462.2,334.3 463.2,334.4 461.1,334.8 462.4,335.1 458.1,335.4 461.1,335.8 458.8,336.3 458.0,336.7 462.2,336.5 460.1,337.0 464.2,336.8 460.9,337.4 465.4,337.4 462.1,337.7 467.1,337.6 463.3,338.1 467.6,338.1 466.1,338.7 469.6,338.5 467.4,338.7 470.2,339.0 469.0,339.6 473.2,339.7 470.2,339.7 474.3,340.2 473.1,340.1 470.4,340.4 472.4,340.6 468.7,340.9 470.7,341.1 468.2,340.9 470.9,341.4 466.0,341.3 469.2,342.0 464.2,342.1 467.7,342.3 463.3,342.3 466.2,342.7 461.2,342.6 462.6,343.0 465.6,343.3 461.8,343.4 467.1,344.2 464.5,344.6 467.1,344.6 465.6,344.9 469.0,345.7 468.3,345.8 465.8,346.2 468.1,346.6 464.2,346.8 467.7,347.1 463.5,347.0 465.8,347.7 462.2,347.9 462.6,348.1 463.9,348.4 460.5,348.3 460.7,348.2 457.4,348.5 460.2,348.7 456.6,348.7 456.9,349.0 458.9,349.4 456.8,349.2 459.9,349.4 458.2,349.6 462.6,350.0 460.9,350.1 462.9,350.4 462.3,350.2 466.2,350.4 463.8,350.9 465.5,350.9 466.4,351.3 462.8,351.3 465.6,351.5 460.2,351.6 463.9,351.8 459.6,351.9 461.2,352.7 458.3,352.8 459.9,352.8 457.5,353.1 459.6,353.3 455.5,353.8 456.0,353.7 458.9,354.0 456.8,354.2 459.5,354.6 457.8,354.7 461.4,354.7 458.9,355.1 463.4,355.2 460.7,355.7 462.6,355.6" fill="none" stroke="#2a309c" stroke-width="0.7" stroke-linejoin="round" />
<polyline points="465.5,372.1 465.4,373.0 467.8,373.5 465.5,374.3 468.9,375.0 467.4,375.5 466.5,375.6 469.7,376.0 467.5,376.9 470.9,377.0 469.6,377.1 472.7,377.8 470.9,377.9 473.1,378.4 473.9,378.4 470.2,378.7 472.7,379.0 468.2,379.1 470.1,379.5 466.8,379.5 468.4,379.3 465.4,379.9 467.7,379.7 464.5,380.0 466.2,379.9 463.6,380.3 462.6,380.6 465.8,381.0 464.7,381.6 468.2,382.5 466.2,382.6 469.5,383.0 467.3,383.6 469.5,383.9 468.5,384.5 470.2,385.0 471.4,385.2 467.9,385.9 469.0,386.2 465.6,386.5 467.2,386.4 465.5,386.9 463.1,387.1 465.2,387.5 461.5,387.4 463.4,388.0 460.3,387.8 462.3,388.0 458.4,388.1 461.0,388.6 457.5,389.1 458.6,388.9 456.9,389.2 455.7,389.4 457.1,389.7 453.7,390.0 454.6,389.9 451.8,390.4 454.0,390.5 450.2,390.5 453.0,390.9 449.4,390.9 451.4,391.0 448.2,391.5 449.5,391.5 447.4,391.7" fill="none" stroke="#2a309c" stroke-width="0.7" stroke-linejoin="round" />
<polyline points="443.4,403.0 441.2,403.7 442.9,403.8 441.0,404.3 442.3,405.0 438.7,405.3 440.9,405.8 439.2,406.2 439.0,406.3 442.5,406.2 440.7,406.0 444.0,405.9 440.9,406.0 445.5,405.9 442.9,405.9 445.9,405.7 444.3,405.6 447.7,405.2 446.0,405.5 449.2,405.1 448.2,404.9 449.7,405.1 450.9,406.0 447.0,406.3 450.1,406.7 446.1,407.5 448.0,408.3 446.4,408.7 447.2,409.4 444.8,410.2 446.3,410.9 444.7,411.1 446.4,411.8 444.5,412.5 444.1,412.9 446.6,413.5 445.7,413.9 449.0,414.1 447.3,414.6 449.0,414.8 448.0,415.0 451.4,415.7 449.0,415.9 452.5,416.4 451.9,416.8 450.4,417.6 452.9,418.1 448.0,418.4 451.7,418.8 447.7,419.4 449.6,420.3 446.1,420.8 448.3,421.2 445.5,421.8 446.9,422.7 445.5,423.1 444.5,423.8 447.0,424.6 445.8,425.1 448.4,426.0 445.1,426.8 449.7,427.6 446.3,428.2 448.9,428.6 448.7,429.5 447.5,430.0 449.0,430.2 445.7,430.4 446.6,430.9 443.0,431.1 445.0,431.4 442.7,432.2 444.9,432.2 441.7,432.4 442.3,433.1 439.7,433.6 440.2,433.7 441.8,434.5 438.0,435.1 439.5,435.3 437.0,436.1 438.8,436.6 437.0,437.6 437.0,437.9 439.2,438.8 435.8,439.1 440.2,439.6 437.0,440.5 440.1,440.6 439.0,441.5 441.4,441.7 438.9,442.8 441.3,443.2 441.9,443.3 437.9,444.0 439.8,444.2 437.0,445.0 439.2,445.2 436.4,445.3 438.6,445.8 435.2,446.3 435.8,446.4 433.2,447.0 435.4,447.5 431.9,447.5 434.2,447.9 431.8,448.5 431.2,448.7 434.8,449.2 433.1,449.4 436.3,449.5 434.7,450.1 437.6,449.8 436.0,450.6 438.4,450.6 436.5,451.1 440.6,451.3 439.2,451.2 442.7,451.9 440.7,451.7 442.8,452.5 441.8,452.6 443.4,452.7 444.8,453.1 439.9,453.1 441.9,453.2 438.7,453.5 441.9,454.1 438.3,454.4 439.1,454.4 437.0,454.8 438.9,455.2 435.7,455.4 436.9,455.6 433.4,455.7 435.5,456.0 432.7,455.8 434.0,456.2 430.7,456.3 432.9,456.5 428.5,457.3 430.9,457.1 427.4,457.4 429.4,457.6 427.5,458.0 426.1,458.2 430.1,458.1 428.0,458.8 432.5,458.5 430.2,458.8 433.8,458.9 431.3,459.6 435.3,459.1 433.7,459.4 436.7,459.9 434.4,459.9 437.7,460.2 435.7,460.6 439.8,460.7 436.7,460.9 441.2,460.6 438.6,461.2 442.2,461.4 441.0,461.6 443.7,461.7 442.4,461.6 445.1,461.8 444.2,462.1 445.5,462.3 447.0,462.6 442.0,462.9 445.3,463.3 440.9,463.1 442.8,463.5 440.7,463.6 442.5,464.3 438.7,464.5 440.8,464.8 436.5,464.8 438.2,465.3 435.9,465.4 437.2,465.6 433.3,465.6 436.1,466.2 432.6,466.6 434.4,466.8 430.9,467.1 432.4,466.9 430.2,467.6 430.9,467.5 428.0,468.1 429.7,468.1 426.6,468.5 427.5,468.6 430.0,468.9 428.1,468.6 430.3,469.0 429.7,468.8 433.4,469.1 430.5,469.2 434.3,469.3 432.5,469.1 434.8,469.1 433.9,469.3 436.4,469.6 434.4,469.8 438.2,469.9 437.3,469.6 439.7,469.9 437.9,470.0 442.0,469.9 438.9,470.1 443.7,470.0 440.6,470.2 445.2,470.6 442.4,470.4 445.2,470.5 445.5,470.7 442.8,471.0 445.8,471.6 442.0,471.8 443.7,472.2 440.2,472.8 443.3,473.3 440.2,473.4 440.9,474.3 439.1,474.8 439.2,475.0" fill="none" stroke="#2a309c" stroke-width="0.7" stroke-linejoin="round" />
<polyline points="465.5,331.6 465.0,332.0 467.7,332.4 466.7,332.4 469.9,332.6 468.2,333.3 470.9,333.4 468.7,333.6 472.2,333.9 472.1,334.4 470.4,335.1 472.9,335.8 468.6,336.3 470.2,337.3 472.7,337.6 470.8,337.2 473.8,337.4 471.9,337.9 474.7,337.7 473.4,337.8 476.5,338.1 475.6,338.0 478.2,338.4 475.6,338.6 479.2,338.5 477.4,338.8 482.2,339.2 478.7,338.8 481.6,339.2 484.6,339.6 482.0,339.8 485.8,340.2 483.7,340.7 487.2,341.2 483.8,341.4 486.4,342.0 488.5,342.0 487.1,342.4 490.0,342.2 487.3,342.5 491.2,342.4 489.5,342.8 492.0,343.0 491.8,343.0 488.6,343.2 490.7,343.2 487.3,343.4 489.0,343.6 485.2,343.7 488.8,343.5 483.7,343.5 486.0,343.8 482.2,343.6 484.5,343.7 481.5,343.8 482.9,344.3 479.7,344.5 481.8,344.4 479.3,344.7 479.9,344.5 476.8,344.9 478.9,345.0 475.0,344.6 475.9,344.9 478.7,344.9 475.1,345.2 479.1,345.7 477.9,345.6 480.8,345.9 480.0,345.9 482.0,346.4 481.5,346.4 483.7,346.5 483.5,346.8 483.5,348.0 481.2,348.3 482.8,348.2 480.6,348.8 481.3,348.4 478.3,348.9 481.2,348.7 477.4,348.9 479.2,349.3 475.6,349.7 477.9,349.8 473.1,349.6 476.9,349.9 473.3,350.3 473.8,350.0 471.4,350.3 474.0,350.8 469.7,350.7 470.2,350.9 473.0,351.3 470.0,351.3 473.1,351.4 471.4,351.8 475.9,352.2 472.3,352.0 476.0,352.6 474.5,352.4 478.6,352.7 476.6,353.0 479.7,353.4 478.4,353.6 479.7,353.7 480.6,354.0 476.5,354.4 478.0,354.5 475.0,354.9 477.7,354.8 473.0,355.5 475.5,355.5 471.5,355.7 474.3,356.4 470.1,356.2 473.5,356.5 469.1,357.0 470.8,357.0 468.5,357.3 469.2,357.5 466.7,357.9 467.8,358.3 466.4,358.5 464.9,358.7 469.0,359.0 467.3,358.9 470.7,359.1 468.3,359.4 472.0,360.1 469.6,360.2 474.0,360.3 471.2,360.7 474.6,360.8 473.4,360.7 477.2,361.2 475.9,361.3 474.5,361.9 478.9,361.8 477.5,362.4 480.6,362.6 478.9,362.8 481.0,363.6 480.4,363.6 481.6,364.2 481.9,364.5 477.8,364.3 480.2,365.1 476.4,364.9 479.2,365.4 476.3,365.5 478.0,365.7 475.3,365.8 476.0,366.1 472.8,366.7 474.8,366.9 473.1,367.0 472.0,367.2 476.0,367.4 473.1,367.9 476.6,367.9 475.0,368.3 479.4,368.5 476.3,369.1 479.7,369.2 478.9,369.6 482.5,369.9 480.4,369.7 483.8,370.3 482.0,370.3 483.5,370.8 485.8,370.7 483.3,371.0 486.7,371.3 485.0,371.7 487.7,371.8 487.0,371.8 490.4,372.2 487.8,372.5 491.0,372.3 489.2,372.5 492.4,372.6 490.4,373.2 494.9,373.4 491.9,373.2 495.7,373.6 494.7,373.7 496.7,373.6 496.8,374.0 494.6,374.0 497.6,374.6 493.2,374.4 494.5,374.8 491.6,374.9 494.2,375.2 489.7,375.1 491.5,375.5 488.8,375.6 491.2,375.8 487.6,376.1 489.8,376.5 486.0,376.5 488.7,376.9 484.1,376.6 486.3,377.1 483.2,377.0 483.5,377.4 486.6,378.0 484.2,378.0 487.3,378.2 485.7,378.7 489.0,378.8 487.1,379.1 489.1,379.7 489.2,379.7 487.9,379.8 489.7,379.9 486.3,380.0 487.0,380.5 483.4,380.5 485.6,381.0 482.7,381.0 484.0,381.1 480.2,381.2 482.8,381.8 478.9,382.1 481.7,382.3 478.0,382.1 480.2,382.5 476.3,382.3 478.2,383.0 476.0,383.1 475.9,383.1 477.6,383.5 476.0,384.2 479.9,384.6 476.0,385.2 479.4,386.0 478.0,386.2 479.7,386.9 480.3,387.4 476.2,387.5 478.1,387.9 475.2,388.3 478.4,388.2 473.3,388.8 475.7,388.8 472.8,389.1 474.5,389.2 471.7,390.0 473.1,390.1 469.0,390.4 471.4,390.8 467.7,391.1 470.9,391.2 466.3,391.2 469.3,391.6 464.8,391.7 467.7,392.1 463.4,392.4 466.8,393.0 461.9,392.8 465.6,393.4 462.6,393.6 460.1,394.0 461.7,394.4 458.9,394.4 460.8,394.9 457.0,395.3 459.1,395.2 456.6,395.4 457.9,395.6 454.1,396.0 455.9,396.2 452.7,396.6 455.2,397.0 453.1,397.4 450.5,398.0 452.9,398.2 449.0,398.5 452.7,399.0 448.8,399.4 450.8,399.3 446.9,400.1 449.3,400.3 446.0,400.9 448.3,400.8 444.7,401.3 447.6,401.9 444.6,402.1 443.2,402.7 443.8,402.9 441.3,403.4 443.2,403.4 439.8,404.2 442.6,404.3 439.1,404.9 441.3,405.0 436.5,405.8 438.0,405.9 440.0,405.9 437.6,406.3 441.1,405.9 439.9,406.2 442.6,406.2 441.1,406.3 444.0,406.5 441.7,406.3 446.8,406.2 443.3,406.4 448.2,406.7 445.9,406.7 448.7,406.2 447.2,406.8 451.5,406.9 448.7,406.9 452.4,406.5 449.9,407.0 453.7,406.9 453.1,406.9 451.5,407.2 453.2,407.8 449.9,408.0 451.1,408.7 448.1,409.4 449.3,409.7 450.5,410.4 449.7,411.5 449.0,411.3 452.9,411.8 451.1,411.7 454.6,411.9 451.7,411.9 455.2,412.0 452.8,411.6 458.0,411.9 455.9,411.8 459.2,412.2 457.2,412.1 460.4,412.5 458.4,412.4 461.2,412.1 460.2,412.3 463.4,412.3 461.7,412.3 463.9,412.4 462.9,412.6 465.6,412.7 464.2,413.0 467.6,413.1 465.6,412.7 467.7,412.9 468.6,412.9 465.5,413.1 467.3,413.8 463.5,413.6 465.3,413.8 461.5,414.0 463.3,414.5 460.2,414.2 463.2,414.8 459.2,414.9 461.8,415.0 457.5,415.1 459.6,415.5 455.5,415.9 457.4,415.7 453.8,416.2 456.7,416.3 453.3,416.6 455.2,416.5 452.9,416.8 452.9,416.7 456.6,417.4 454.7,417.3 457.3,417.7 455.5,418.1 458.6,418.1 456.0,418.4 460.4,418.5 458.5,418.9 462.5,418.9 460.1,419.2 463.2,419.7 461.2,419.6 463.5,419.9 463.9,420.4 461.3,420.5 461.8,420.5 460.0,421.1 460.6,421.0 458.5,421.3 460.2,421.8 455.4,422.2 458.4,422.4 455.5,422.6 456.7,422.4 452.8,423.1 454.0,423.1 455.9,423.1 453.3,423.7 457.8,424.1 456.3,423.7 458.3,423.9 456.5,424.5 459.7,424.5 459.0,425.0 462.3,425.4 460.1,425.6 463.2,425.5 461.7,425.6 465.7,426.3 462.3,426.0 465.7,426.2 464.4,426.8 466.9,426.9 465.2,426.8 467.7,427.3 468.3,427.7 464.7,427.6 467.7,427.9 463.7,427.9 466.3,428.3 461.1,428.3 463.3,428.3 460.6,428.7 461.6,428.9 458.4,428.9 460.1,429.3 457.6,429.3 459.7,429.5 456.1,429.8 458.9,430.0 454.2,429.8 456.3,429.9 452.2,430.4 455.6,430.5 452.9,430.5 449.9,431.0 452.7,431.5 450.0,431.8 451.2,432.4 448.3,432.5 451.3,432.8 446.2,433.6 448.6,434.1 445.6,434.6 446.6,434.7 447.4,434.9 442.8,435.0 446.3,435.2 442.5,435.4 444.9,435.8 440.2,436.0 443.1,436.4 439.9,436.6 441.6,436.6 437.3,436.9 439.4,437.5 435.2,437.8 438.0,437.7 436.0,437.9 433.2,438.3 435.9,438.6 432.5,438.9 434.4,438.7 430.4,438.9 433.4,439.1 428.5,439.7 432.0,439.7 427.7,440.0 429.6,440.6 427.4,440.6 427.8,441.1 426.5,441.1" fill="none" stroke="#e1261c" stroke-width="0.7" stroke-linejoin="round" />
<polyline points="622.6,279.8 626.4,313.5 645.3,320.8 633.9,331.6" fill="none" stroke="#5fd09a" stroke-width="0.95" stroke-linejoin="round" />
<polyline points="615.0,279.8 607.4,289.8 611.2,296.5 604.5,300.6 619.7,312.0 615.0,317.7 615.9,321.1 611.2,323.4 624.5,329.7 637.7,332.1" fill="none" stroke="#5fd09a" stroke-width="0.75" stroke-linejoin="round" stroke-dasharray="2.6,1.8"/>
<polyline points="631.1,358.5 630.3,358.4 633.6,358.8 632.1,359.2 634.9,359.5 634.3,359.2 637.1,359.4 635.8,359.8 638.0,359.8 636.3,360.2 640.1,360.2 637.9,360.4 641.8,360.8 639.3,361.1 642.9,361.1 642.5,361.3 640.4,361.7 641.7,362.4 639.2,362.7 641.3,362.8 638.4,363.6 640.3,364.1 637.5,364.4 638.5,364.6 636.8,365.1 636.9,365.1 639.2,365.6 638.2,365.7 640.7,366.2 639.2,366.1 642.6,366.5 640.1,367.1 643.0,367.1 641.5,367.2 645.0,367.4 644.2,367.5 645.8,367.8 644.8,368.2 648.4,368.5 646.6,368.9 648.2,368.9 649.0,369.7 645.9,370.5 647.9,371.2 645.9,372.2 646.3,372.7 647.7,373.3 647.3,373.0 649.5,373.4 648.1,373.7 651.3,374.3 649.3,374.7 653.0,374.9 650.7,374.8 653.1,375.3 651.7,375.6 655.2,375.7 653.9,376.5 656.7,376.8 655.9,376.7 657.5,377.4 657.7,377.4 657.8,378.1 659.7,378.6 658.6,378.7 662.0,379.1 659.7,379.4 663.1,380.4 661.8,380.7 663.6,380.7 662.7,381.5 665.9,382.1 663.2,382.3 666.8,382.5 666.2,383.1 664.8,383.9 666.8,384.9 665.2,385.2 666.4,386.0 664.6,387.1 666.2,387.7 664.4,388.5 666.4,389.2 665.0,389.7 665.3,390.7 665.5,390.9 662.5,391.3 664.6,391.6 661.9,392.1 662.6,392.4 659.6,392.7 661.5,393.4 658.6,393.6 660.5,394.0 657.6,394.0 657.9,394.5 656.3,395.1 656.9,395.2 654.3,396.0 655.3,395.9 653.9,396.4 653.8,396.8 656.7,397.5 654.8,397.6 656.8,398.1 655.5,398.9 657.7,399.3 657.5,399.5 655.8,399.6 656.3,399.5 653.4,400.0 655.0,399.9 652.0,400.2 653.7,400.1 650.2,400.2 651.7,400.6 649.7,400.6 650.8,401.3 648.0,401.0 649.3,401.2 646.5,401.6 647.5,401.4 645.4,401.8 646.8,402.2 644.4,402.1 644.7,402.3 646.9,402.3 645.4,402.7 648.9,402.8 646.6,403.3 649.9,403.0 648.7,403.2 651.7,403.8 650.1,404.1 652.4,404.1 651.3,404.0 654.3,404.1 653.1,404.7 655.8,404.9 655.8,405.0 654.2,405.5 655.1,406.1 652.8,406.0 653.5,406.8 650.8,407.2 652.2,407.8 649.6,407.8 651.1,408.5 649.2,408.6 649.7,409.5 648.2,409.7 645.8,409.9 648.3,410.4 644.5,410.5 647.0,410.8 643.0,411.1 644.5,411.3 642.2,411.4 643.3,411.8 640.6,411.9 641.8,412.3 639.3,412.5 640.9,412.7 637.8,413.0 639.6,413.5 636.1,413.6 637.4,414.1 635.0,414.1 636.1,414.3 633.3,414.9 634.9,415.1 632.6,415.2 633.3,415.3 630.9,415.9 632.4,415.8 629.7,416.4 630.9,416.6 628.9,416.8 627.9,417.6 630.0,418.0 628.7,418.8 631.3,419.8 628.6,420.9 631.5,421.2 629.5,421.9 631.9,423.1 629.6,423.6 631.5,424.4 631.0,425.2 630.4,425.7 634.0,425.9 632.3,425.9 634.7,426.5 634.1,426.2 636.1,426.9 634.7,426.8 638.4,427.4 636.7,427.2 639.7,427.6 638.6,428.1 640.8,428.1 640.6,428.4 638.6,428.4 639.3,428.6 637.2,428.5 638.1,429.0 635.6,429.1 636.8,428.9 634.4,429.3 635.1,429.2 633.1,429.5" fill="none" stroke="#5fd09a" stroke-width="0.75" stroke-linejoin="round" />
<polyline points="625.4,357.5 627.3,358.4 631.4,358.8 631.6,359.7 634.9,360.4 633.0,364.2 635.7,364.6 636.5,365.8 640.2,366.4 640.9,367.0 643.4,368.0 646.3,368.9 647.2,370.1 650.1,370.8 648.2,374.6 650.5,376.5 651.4,378.0 653.9,379.3 652.0,382.2 654.9,383.0 656.0,383.3 660.3,384.5 661.5,385.0 658.4,386.5 657.2,387.9 653.9,388.8 651.4,389.3 650.1,390.0 646.2,390.7 646.1,390.9 641.9,391.3 641.4,392.2 638.7,392.6 636.0,394.2 635.3,395.1 633.0,396.4 633.4,399.0 634.9,402.1 633.1,402.6 629.9,403.4 629.2,404.0 625.2,404.8 625.4,405.3 621.0,406.2 619.7,406.9 622.7,407.5 623.8,407.9 627.2,407.9 627.9,408.4 631.1,408.8 631.0,412.5 629.3,412.7 625.0,413.3 624.4,413.9 620.8,414.1 620.0,414.8 616.4,415.0 616.1,415.4 611.7,415.7 611.1,416.4 607.7,416.8 604.8,418.1 604.0,419.7 601.4,421.0 603.1,421.6 607.2,422.0 608.7,422.1 612.9,422.8 614.1,423.1 615.7,423.6 620.2,424.0 621.6,424.8 624.7,425.2 623.6,425.7 619.4,426.3 619.3,426.9 615.4,427.6 614.1,428.4 617.6,428.4 618.6,429.0 622.5,429.1 624.7,429.5" fill="none" stroke="#5fd09a" stroke-width="0.75" stroke-linejoin="round" stroke-dasharray="2.6,1.8"/>
<polyline points="645.8,441.7 641.6,447.4 631.0,452.7" fill="none" stroke="#5fd09a" stroke-width="0.75" stroke-linejoin="round" />
<polyline points="613.9,441.0 622.0,441.6 630.7,440.7" fill="none" stroke="#5fd09a" stroke-width="0.75" stroke-linejoin="round" stroke-dasharray="2.6,1.8"/>
<polyline points="612.2,443.3 621.8,443.4 631.7,443.0" fill="none" stroke="#5fd09a" stroke-width="0.75" stroke-linejoin="round" stroke-dasharray="2.6,1.8"/>
<polyline points="616.0,445.2 622.1,443.7 630.5,444.1" fill="none" stroke="#5fd09a" stroke-width="0.75" stroke-linejoin="round" stroke-dasharray="2.6,1.8"/>
<polyline points="615.7,447.4 622.5,446.0 629.3,446.3" fill="none" stroke="#5fd09a" stroke-width="0.75" stroke-linejoin="round" stroke-dasharray="2.6,1.8"/>
<polyline points="615.0,448.5 619.4,449.5 631.3,449.5" fill="none" stroke="#5fd09a" stroke-width="0.75" stroke-linejoin="round" stroke-dasharray="2.6,1.8"/>
<polyline points="614.0,450.5 623.0,449.7 629.0,450.4" fill="none" stroke="#5fd09a" stroke-width="0.75" stroke-linejoin="round" stroke-dasharray="2.6,1.8"/>
<polyline points="609.2,452.0 619.7,451.2 630.4,451.9" fill="none" stroke="#5fd09a" stroke-width="0.75" stroke-linejoin="round" stroke-dasharray="2.6,1.8"/>
<polyline points="631.0,452.7 636.3,464.4 630.0,468.6 636.3,471.8 634.2,478.1 618.3,486.6" fill="none" stroke="#5fd09a" stroke-width="0.75" stroke-linejoin="round" stroke-dasharray="2.6,1.8"/>
<polyline points="570.4,270.8 569.2,271.2 569.3,272.0 566.9,272.5 568.4,272.7 565.4,273.1 565.6,273.7 567.7,274.0 566.6,273.7 568.8,274.2 568.6,274.1 571.4,274.0 570.4,274.2 573.3,274.3 572.8,274.7 574.7,274.7 575.1,274.6 573.3,275.0 574.4,275.5 572.3,275.9 573.1,276.5 570.4,277.0 570.4,277.5 571.6,277.9 571.3,278.2 573.8,278.0 573.6,278.6 576.0,278.6 575.3,278.7 578.1,279.1 578.0,279.4 576.3,279.7 576.6,279.8 574.7,280.0 574.7,279.9 572.6,280.2 573.1,280.4 571.1,280.5 570.9,280.8 569.3,281.0 569.6,281.0 567.1,280.9 568.0,281.2 565.1,281.6 566.1,281.8 563.7,281.9 564.6,281.7 562.2,282.0 562.3,282.0 560.2,282.6 560.4,282.3 558.4,282.8 558.4,282.9 556.3,283.0 556.1,283.2 557.8,283.5 557.8,283.7 559.4,283.3 559.0,283.7 561.6,283.6 560.8,283.8 563.7,283.9 562.9,284.3 565.3,284.3 565.3,284.5 567.5,284.4 566.8,284.8 568.8,285.0 568.3,284.7 570.4,285.1 570.0,285.2 568.3,285.6 568.6,286.2 566.6,286.7 566.9,287.3 564.6,287.3 564.7,287.9 566.0,287.6 565.9,287.6 568.3,288.0 567.1,287.6 569.5,287.8 569.4,287.9 571.6,287.5 571.6,287.8 573.5,287.5 573.0,287.6 575.6,287.4 575.1,287.3 577.5,287.3 576.4,287.3 578.9,287.3 578.6,287.2 581.1,286.9 580.3,287.3 583.0,286.7 582.7,287.0 581.0,287.3 582.0,287.4 579.7,287.5 580.1,288.0 577.8,288.2 578.2,288.4 576.2,288.5 576.1,288.8 574.1,288.8 574.7,289.1 571.9,289.3 572.7,289.8 570.7,290.0 570.5,290.4 569.0,290.5 569.0,290.4 567.5,290.8 567.8,290.8 570.1,290.7 569.6,290.8 572.5,290.9 571.6,290.9 574.4,291.0 573.3,291.4 575.7,291.4 575.6,291.0 577.3,291.3 576.9,291.2 579.6,291.6 579.4,291.3 581.5,291.5 580.6,291.9 583.2,291.7 583.7,291.7 582.1,291.6 582.5,292.3 580.4,292.3 581.0,292.1 578.1,292.3 578.8,292.9 577.1,292.8 576.9,293.0 575.4,293.0 575.2,293.1 573.5,293.4 573.7,293.5 571.0,293.9 571.6,293.9 569.2,294.0 570.3,294.2 568.5,294.6 568.3,294.7 571.2,295.1 571.0,294.7 573.2,295.2 572.3,295.2 574.9,295.3 574.5,295.5 576.9,295.6 576.5,296.0 578.3,296.2 578.2,296.0 580.2,296.3 580.8,296.5 579.2,296.8 579.6,296.8 577.0,296.9 578.4,297.5 575.1,297.7 575.9,297.8 573.7,297.6 574.8,298.1 571.7,298.2 572.1,298.6 570.5,298.4 570.8,298.6 568.4,299.1 568.5,299.2 566.9,299.3 567.2,299.6 565.2,299.5 565.7,299.8 563.0,300.0 562.8,300.3 564.6,300.3 563.8,300.1 566.4,300.1 566.2,300.3 568.7,300.1 567.3,299.9 570.5,299.7 569.4,299.9 572.5,299.9 571.2,299.5 574.2,299.6 573.6,299.5 576.1,299.7 575.0,299.5 577.4,299.2 578.0,299.3 577.8,300.0 579.8,300.7 579.9,301.8" fill="none" stroke="#2a309c" stroke-width="0.7" stroke-linejoin="round" />
<polyline points="576.1,322.1 574.5,322.4 575.4,322.6 572.6,322.8 573.9,322.6 570.9,322.6 572.6,323.0 570.0,323.4 570.9,323.1 566.6,323.4 569.1,323.4 566.7,324.0 566.6,324.0 568.9,324.1 567.1,324.1 571.2,324.3 567.2,324.7 571.1,324.8 570.6,324.9 573.9,325.0 571.1,325.2 574.2,325.2 573.2,325.2 575.8,325.5 574.1,325.7 578.1,325.7 575.0,325.9 578.0,325.9 578.8,326.1 574.3,326.5 576.5,326.9 573.3,327.6 576.1,327.8 571.4,328.2 574.3,328.4 572.3,328.7 571.1,328.8 574.5,329.2 572.6,329.1 577.1,329.7 575.4,329.4 578.3,329.7 575.4,330.3 579.8,330.3 577.5,330.1 582.3,330.3 580.1,330.7 582.0,330.9 581.0,331.3 584.3,331.4 581.9,331.5 584.6,331.6 584.8,331.6 581.6,331.9 584.0,332.1 580.4,332.3 583.1,332.3 578.8,332.3 579.8,332.5 577.1,333.2 579.4,333.4 574.8,333.4 576.1,333.5 578.4,333.5 576.3,334.0 579.9,334.2 577.5,334.7 581.2,335.0 579.8,335.5 583.2,335.8 581.3,336.1 582.7,336.3 584.2,337.1 579.6,337.0 583.1,337.8 579.3,338.5 581.8,338.9 578.2,339.2 579.7,339.5 578.0,340.1 576.7,340.6 580.3,341.0 577.6,341.4 582.7,341.8 578.8,341.9 583.1,342.7 580.5,343.4 584.7,343.5 583.7,343.9 581.5,344.6 584.5,345.6 581.7,345.9 583.9,346.4 579.3,347.1 580.8,348.1 583.3,348.5 581.4,348.4 583.9,348.8 582.3,349.0 585.6,349.1 583.0,349.5 588.3,349.3 585.3,349.6 588.7,350.1 587.5,350.1 591.0,350.5 589.2,350.3 591.9,350.9 591.2,350.9 589.7,351.2 591.0,351.2 586.8,351.0 589.4,351.2 586.8,351.4 588.6,351.7 585.3,351.9 586.7,351.7 582.5,352.2 584.7,352.4 581.1,352.1 582.8,352.6 579.5,352.2 582.8,352.8 578.4,352.9 581.7,352.8 576.6,353.2 578.9,353.2 575.4,353.4 577.9,353.2 574.7,353.5 575.6,353.8 574.2,353.7 572.8,353.7 577.5,354.1 575.8,354.3 579.2,354.1 577.3,354.3 580.7,354.5 577.5,354.5 581.0,354.7 578.9,354.7 582.5,355.2 582.0,355.3 584.0,355.2 582.4,355.7 586.2,355.6 585.1,355.7 587.4,356.1 585.4,356.2 589.5,356.3 588.0,356.2 590.6,356.3 590.3,356.6" fill="none" stroke="#2a309c" stroke-width="0.7" stroke-linejoin="round" />
<polyline points="593.1,372.7 592.2,373.0 595.3,373.5 593.2,374.2 596.9,374.5 594.4,375.3 596.9,375.5 597.6,376.3 594.2,376.8 596.3,377.4 595.0,378.4 594.5,378.8 597.2,378.8 595.2,379.0 599.0,379.4 596.9,379.4 600.1,379.7 598.6,380.1 602.4,380.0 600.4,380.2 603.6,380.5 601.3,381.0 605.8,380.9 602.7,380.9 607.3,381.4 604.3,381.5 608.9,381.5 605.8,382.2 608.3,382.2 608.6,382.8 606.0,383.1 607.2,383.3 604.6,383.9 604.5,384.1 606.9,384.0 604.0,384.2 607.8,384.4 606.2,384.8 610.3,384.8 608.1,384.6 610.4,385.0 609.2,385.1 613.4,385.2 611.1,385.3 613.6,385.7 612.3,385.6 615.5,385.6 614.2,385.9 615.9,386.0 616.3,386.4 613.1,386.0 614.1,386.1 611.9,386.6 614.0,386.4 609.7,386.6 611.9,386.8 609.4,386.6 610.6,387.1 607.3,387.4 609.3,387.1 606.3,387.4 607.5,387.3 604.8,387.6 605.0,387.8 602.3,387.7 604.1,387.8 601.5,387.8 603.2,388.1 599.2,388.2 601.7,388.4 597.7,388.4 599.8,388.4 595.7,388.8 596.9,388.8 597.8,389.7 595.6,390.3 596.6,391.3 595.0,391.8 595.0,392.6" fill="none" stroke="#2a309c" stroke-width="0.7" stroke-linejoin="round" />
<polyline points="589.7,401.9 587.9,402.6 589.6,402.7 587.4,403.4 587.9,403.9 586.1,404.4 587.0,404.8 585.5,405.1 584.9,405.2 588.3,405.1 586.5,405.3 589.3,405.7 588.1,405.8 590.4,406.3 589.8,406.4 592.2,406.1 591.0,406.4 593.6,406.4 593.0,407.0 595.4,407.1 595.0,407.2 593.7,407.8 594.9,408.0 592.4,408.7 593.8,408.9 591.5,409.5 591.9,410.0 589.9,410.6 590.8,411.1 589.7,411.5 590.1,411.9 591.7,411.9 591.4,412.4 593.3,413.0 592.2,412.9 595.3,413.5 594.0,413.5 597.0,414.3 596.1,414.2 597.2,414.6 597.1,414.8 595.1,415.6 595.4,416.0 593.8,415.9 595.0,416.4 592.6,416.7 593.1,417.1 591.2,417.5 591.9,418.0 589.7,418.4 590.8,418.9 588.3,419.4 589.4,419.6 587.6,419.9 587.6,420.1 589.5,420.8 588.9,420.6 591.9,421.4 591.0,421.6 592.6,421.9 591.6,422.1 594.4,422.6 593.8,422.9 595.0,423.1 595.1,423.7 593.1,423.8 593.2,423.8 591.8,424.0 592.3,424.4 589.6,424.6 590.9,425.3 588.9,425.2 589.6,425.7 586.5,425.9 587.8,426.6 585.7,426.8 586.9,426.7 584.1,427.4 584.6,427.6 582.4,427.9 583.7,427.8 580.7,428.1 582.5,428.7 580.0,429.0 580.6,429.3 579.2,429.5 578.2,430.2 578.6,430.5 576.6,431.0 577.3,431.3 575.8,431.7 575.9,432.4 574.9,432.6 574.7,432.6 577.8,433.0 575.9,432.5 579.0,432.9 577.8,432.5 580.8,432.8 579.4,433.1 581.6,432.6 580.5,432.8 582.9,432.8 582.0,433.2 584.6,432.9 583.6,433.2 586.6,432.9 585.7,433.4 587.5,433.2 587.6,433.5 589.1,433.6 588.3,433.5 590.6,433.5 590.2,433.4 592.2,433.4 591.4,433.2 594.5,433.5 593.5,433.4 595.6,433.7 594.7,433.8 597.2,433.7 597.2,433.7 595.1,433.7 596.0,434.0 594.3,434.0 594.9,434.2 592.2,434.7 593.9,435.0 590.9,435.2 591.8,435.4 590.0,435.5 590.6,435.8 588.5,435.8 589.4,436.2 586.1,436.0 587.2,436.2 584.9,436.8 586.2,437.0 583.7,437.1 585.0,437.3 582.0,437.5 583.1,437.8 580.6,437.6 581.5,438.0 579.3,438.2 579.9,438.3 577.8,438.5 579.1,438.5 577.0,439.0 577.5,439.3 579.2,439.3 578.4,439.4 580.5,439.3 579.5,440.0 582.1,439.9 581.6,439.8 584.2,440.5 583.2,440.3 585.5,440.7 584.4,440.7 586.5,441.1 585.5,441.3 587.8,441.3 586.8,441.5 589.7,441.3 589.3,441.8 590.7,442.0 590.1,442.0 591.9,442.2 592.8,443.2 590.3,443.4 591.9,444.4 590.1,445.4 591.4,445.7 589.5,446.6 589.7,447.4 591.4,447.6 590.5,448.2 592.4,448.4 592.0,448.8 594.7,448.7 593.2,448.8 595.6,449.4 594.6,449.5 596.6,449.6 596.1,449.9 598.4,450.4 597.2,450.6 599.8,450.9 599.4,451.3 601.1,451.3 601.4,451.7 600.1,452.5 600.7,452.7 599.2,453.3 599.7,454.0 597.4,454.6 598.6,455.1 596.2,456.0 597.4,456.6 596.1,457.0 594.8,457.5 595.5,457.5 593.2,457.4 593.6,458.0 591.8,458.1 592.5,458.2 590.5,458.2 590.9,458.7 588.7,458.5 589.9,458.9 587.7,459.0 587.9,459.5 585.8,459.4 586.5,459.6 584.6,459.9 584.5,460.1 586.3,460.7 584.8,461.1 587.6,461.0 587.0,461.4 588.5,461.9 587.5,462.3 590.1,462.5 588.8,463.1 591.4,463.1 590.2,463.5 593.4,463.8 592.9,464.4 592.7,464.4 595.7,464.5 594.8,464.6 597.1,465.2 595.7,465.1 598.0,465.0 597.8,465.5 599.2,465.4 599.0,465.3 601.1,465.9 600.6,465.6 602.8,466.0 601.8,465.8 604.6,465.9 603.7,466.1 605.7,466.4 605.6,466.5 604.0,466.8 605.4,466.8 603.1,467.2 602.9,467.0 601.5,467.3 602.3,467.2 599.8,467.8 600.7,467.5 597.9,468.1 598.9,467.9 596.4,468.1 597.1,468.2 595.2,468.3 595.9,468.7 593.6,468.8 594.8,468.8 592.3,469.4 593.4,469.6 590.4,469.5 591.9,469.7 589.6,469.6 589.6,470.2 587.9,470.0 588.6,470.0 586.0,470.6 587.4,470.8 585.5,470.7 585.6,470.7 588.1,471.2 587.1,471.1 588.9,471.6 588.4,471.7 590.6,471.6 589.9,472.0 592.7,471.9 591.2,472.1 594.1,472.5 592.8,472.4 595.0,472.9 594.0,472.7 596.2,472.8 595.3,472.9 598.5,473.3 597.2,473.5 599.6,473.7 599.2,474.1 600.7,473.8 600.1,474.2 603.0,474.4 601.3,474.2 603.6,474.5 602.9,474.6 605.6,475.1 605.1,475.1 607.5,475.4 606.3,475.4 607.7,475.6" fill="none" stroke="#2a309c" stroke-width="0.7" stroke-linejoin="round" />
<polyline points="569.4,330.3 567.8,330.6 569.6,330.6 566.2,330.7 567.5,330.9 564.6,331.1 566.3,330.9 562.7,331.3 564.5,331.5 562.1,331.6 563.3,331.4 559.1,331.3 561.1,331.8 557.6,331.7 560.7,332.0 557.4,331.8 557.1,332.1 558.4,332.5 557.7,332.5 560.5,332.7 558.2,333.4 562.2,333.4 560.7,333.8 563.4,334.3 561.2,334.4 565.7,334.3 564.7,334.8 564.9,335.0 566.9,335.4 565.0,336.0 569.8,335.9 567.9,336.1 569.4,336.7 571.0,336.9 569.6,337.4 573.1,338.0 570.9,338.3 574.6,339.0 572.1,339.2 575.6,339.6 575.1,340.1 575.5,340.0 578.2,339.8 575.7,340.2 580.2,340.1 578.0,339.7 580.8,339.9 580.8,339.7 578.1,339.9 579.9,340.4 577.8,340.9 578.7,341.4 576.5,341.8 577.7,341.8 575.4,342.6 576.8,342.9 574.2,343.1 575.6,343.7 571.4,343.5 573.7,344.4 570.7,344.8 571.3,344.9 571.4,345.1 567.9,345.7 570.5,346.2 568.5,346.8 569.4,347.1 568.7,347.8 572.7,348.2 570.6,348.6 572.5,348.8 570.8,349.1 574.4,349.8 573.2,350.3 576.1,350.3 573.4,350.8 577.5,351.4 576.0,351.6 579.3,352.5 578.0,352.8 576.4,353.7 579.2,354.5 575.6,354.8 577.8,355.9 574.6,356.4 577.6,357.0 574.1,358.0 575.1,358.5 576.5,359.1 575.9,359.3 578.4,359.5 575.7,360.1 579.0,360.5 577.5,361.0 580.0,361.2 578.6,361.6 580.8,362.3 582.4,362.7 580.5,362.9 583.7,362.6 582.1,363.2 585.5,363.1 584.1,363.4 587.3,364.1 585.9,363.8 588.9,364.0 587.3,364.4 590.9,364.6 588.6,364.9 590.3,365.1 590.4,365.6 587.6,366.1 590.3,366.6 587.4,367.5 588.6,368.2 586.3,368.7 587.8,369.0 585.1,369.7 586.8,370.2 584.6,370.8 584.1,371.3 587.3,371.5 585.9,371.9 588.6,372.6 585.9,372.7 589.5,372.9 587.8,373.6 590.7,374.0 588.5,374.2 591.2,374.6 592.6,375.2 588.6,376.0 590.2,376.3 586.9,376.7 589.2,377.6 586.1,378.2 589.0,378.9 586.5,379.3 586.8,379.4 588.4,379.9 588.2,380.3 590.8,380.4 588.3,380.9 592.7,381.2 590.1,381.6 593.0,382.0 592.5,382.0 594.5,382.7 593.1,382.5 595.0,383.1 595.2,383.5 591.8,383.5 594.5,384.0 590.8,384.4 592.5,385.0 588.7,385.3 591.5,385.5 588.5,385.4 588.4,386.0 590.8,386.5 588.3,386.7 591.2,387.5 589.8,387.4 592.7,388.1 591.9,388.9 594.9,389.2 593.3,389.4 595.0,390.1 595.0,390.4 592.5,390.6 595.2,390.3 592.3,390.4 593.7,391.0 589.9,390.7 592.2,390.7 588.7,390.8 590.8,391.1 586.4,391.5 588.6,391.7 584.8,391.7 587.7,391.3 583.3,391.5 585.1,391.7 581.4,391.6 583.7,391.8 579.8,392.1 582.6,392.2 578.6,392.2 580.6,392.6 577.2,392.8 578.0,392.6 579.3,393.5 577.3,393.9 580.5,394.6 579.3,394.9 581.2,395.6 580.8,396.4 579.7,397.0 581.1,397.4 578.2,398.0 580.0,398.4 576.9,398.8 578.1,399.1 575.7,400.0 577.2,400.5 574.4,400.6 575.7,400.9 572.9,401.7 573.2,402.1 575.1,402.8 573.2,403.0 576.6,403.5 574.9,403.4 578.6,404.3 576.7,404.3 578.0,405.0 578.1,405.7 576.1,405.9 577.4,406.4 574.8,407.3 575.7,407.6 573.6,408.4 574.7,409.1 573.2,409.7 571.7,410.2 572.7,411.1 571.8,411.5 569.4,411.7 570.7,411.8 567.7,412.2 569.6,412.6 566.2,412.5 568.6,413.0 566.0,413.1 567.3,413.5 563.7,413.7 565.5,413.6 563.3,414.3 564.8,414.6 562.2,414.6 562.4,415.0 564.4,414.9 563.7,415.4 567.0,415.6 564.9,415.8 567.5,415.8 565.9,415.8 569.2,415.9 567.2,416.1 570.3,416.4 569.0,416.8 572.5,417.1 570.3,416.9 574.0,417.1 572.6,417.2 574.7,417.5 574.9,417.8 572.4,418.3 574.1,418.3 571.4,418.9 572.6,419.0 570.1,419.6 571.2,420.1 569.2,420.3 570.6,420.5 566.6,420.9 569.0,421.4 565.4,422.0 566.5,422.0 568.6,422.7 565.8,423.3 569.8,424.1 566.7,424.2 570.1,424.9 568.5,425.7 570.5,426.3 569.0,426.7 570.7,427.3 571.7,427.9 567.5,428.6 570.6,428.6 566.8,429.2 569.7,429.7 566.2,429.9 567.8,430.6 565.1,430.9 565.4,431.6 565.9,431.5 563.2,431.9 564.1,432.1 561.1,432.3 562.3,432.2 559.6,433.0 561.0,432.8 558.5,433.2 559.9,433.4 557.5,433.2 557.9,433.5 555.4,433.7 557.7,434.0 553.6,434.5 555.7,434.4 551.7,434.5 552.7,434.7 552.5,435.3 550.0,435.4 551.1,435.8 548.9,436.1 550.0,436.6 547.5,436.5 549.6,436.8 546.2,437.3 548.4,437.4 544.9,438.1 545.5,438.2 542.5,438.7 545.2,438.6 541.0,439.1 543.9,439.5 539.5,439.8 541.5,439.9 540.0,440.5 538.0,440.3 539.1,440.9 536.3,441.0 537.5,440.9 534.9,440.8 536.2,441.4 533.0,441.3 535.2,441.6 531.0,441.6 532.7,441.9 530.8,441.6 531.3,441.9 528.6,442.0 530.3,441.9 526.8,442.2 528.5,442.5 524.9,442.7 526.0,442.6" fill="none" stroke="#e1261c" stroke-width="0.7" stroke-linejoin="round" />
<line x1="358.1" y1="345.4" x2="383.7" y2="345.4" stroke="#808080" stroke-width="1.1" />
<line x1="358.1" y1="342.4" x2="358.1" y2="348.4" stroke="#808080" stroke-width="1.1" />
<line x1="383.7" y1="342.4" x2="383.7" y2="348.4" stroke="#808080" stroke-width="1.1" />
<polygon points="370.9,343.5 372.8,345.4 370.9,347.3 369.0,345.4" fill="#808080" />
<line x1="343.8" y1="410.8" x2="367.8" y2="410.8" stroke="#1f6497" stroke-width="1.8" />
<line x1="344.2" y1="407.2" x2="344.2" y2="414.4" stroke="#1f6497" stroke-width="1.8" />
<line x1="367.4" y1="407.2" x2="367.4" y2="414.4" stroke="#1f6497" stroke-width="1.8" />
<circle cx="355.6" cy="410.8" r="1.9" fill="#1f6497"/>
<text x="378.6" y="418.6" font-size="8.4" fill="#7b9fd6" text-anchor="start" font-weight="normal" font-style="normal" transform="rotate(-90 378.6 418.6)" >EOT</text>
<line x1="331.1" y1="450.4" x2="354.6" y2="450.4" stroke="#e8177d" stroke-width="1.8" />
<line x1="331.5" y1="446.8" x2="331.5" y2="454.0" stroke="#e8177d" stroke-width="1.8" />
<line x1="354.2" y1="446.8" x2="354.2" y2="454.0" stroke="#e8177d" stroke-width="1.8" />
<circle cx="342.9" cy="450.4" r="1.9" fill="#e8177d"/>
<text x="366.8" y="471.8" font-size="8.4" fill="#f0579d" text-anchor="start" font-weight="normal" font-style="normal" transform="rotate(-90 366.8 471.8)" >PRE-EOT</text>
<text x="334.9" y="381.9" font-size="8.4" fill="#000" text-anchor="middle" font-weight="normal" font-style="normal" >Recovery</text>
<line x1="327.4" y1="383.4" x2="327.4" y2="401.5" stroke="#333" stroke-width="0.7" />
<polygon points="327.4,403.9 326.0,400.6 328.8,400.6" fill="#333" />
<text x="303.0" y="458.4" font-size="8.6" fill="#000" text-anchor="start" font-weight="normal" font-style="normal" transform="rotate(-90 303.0 458.4)" >CCD</text>
<text x="312.4" y="458.4" font-size="8.1" fill="#000" text-anchor="start" font-weight="normal" font-style="normal" transform="rotate(-90 312.4 458.4)" >shoaling</text>
<path d="M302.4,437.4 L302.4,416.2 L306.4,416.2" fill="none" stroke="#333" stroke-width="0.7"/>
<polygon points="308.4,416.2 305.2,414.8 305.2,417.6" fill="#333" />
<line x1="395.0" y1="308.1" x2="395.0" y2="339.7" stroke="#8c8c8c" stroke-width="1.0" />
<line x1="392.0" y1="308.1" x2="398.0" y2="308.1" stroke="#8c8c8c" stroke-width="1.0" />
<line x1="392.0" y1="339.7" x2="398.0" y2="339.7" stroke="#8c8c8c" stroke-width="1.0" />
<ellipse cx="411.4" cy="324.3" rx="13.2" ry="15.9" fill="#fff" stroke="#111" stroke-width="1.15"/>
<ellipse cx="411.4" cy="324.3" rx="5.5" ry="7.1" fill="#fff" stroke="#222" stroke-width="0.8"/>
<path d="M416.9,324.3 Q421.1,325.0 423.9,329.3" fill="none" stroke="#111" stroke-width="0.85"/>
<path d="M416.6,326.5 Q420.5,328.7 422.0,333.7" fill="none" stroke="#111" stroke-width="0.85"/>
<path d="M415.8,328.5 Q418.9,331.9 419.1,337.2" fill="none" stroke="#111" stroke-width="0.85"/>
<path d="M414.6,330.0 Q416.6,334.4 415.4,339.5" fill="none" stroke="#111" stroke-width="0.85"/>
<path d="M413.1,331.1 Q413.8,335.9 411.3,340.2" fill="none" stroke="#111" stroke-width="0.85"/>
<path d="M411.4,331.4 Q410.8,336.2 407.2,339.4" fill="none" stroke="#111" stroke-width="0.85"/>
<path d="M409.7,331.1 Q407.8,335.4 403.6,337.1" fill="none" stroke="#111" stroke-width="0.85"/>
<path d="M408.2,330.0 Q405.2,333.5 400.7,333.6" fill="none" stroke="#111" stroke-width="0.85"/>
<path d="M407.0,328.5 Q403.2,330.7 398.8,329.1" fill="none" stroke="#111" stroke-width="0.85"/>
<path d="M406.2,326.5 Q402.0,327.3 398.2,324.2" fill="none" stroke="#111" stroke-width="0.85"/>
<path d="M405.9,324.3 Q401.7,323.6 398.9,319.3" fill="none" stroke="#111" stroke-width="0.85"/>
<path d="M406.2,322.1 Q402.3,319.9 400.8,314.9" fill="none" stroke="#111" stroke-width="0.85"/>
<path d="M407.0,320.1 Q403.9,316.7 403.7,311.4" fill="none" stroke="#111" stroke-width="0.85"/>
<path d="M408.2,318.6 Q406.2,314.2 407.4,309.1" fill="none" stroke="#111" stroke-width="0.85"/>
<path d="M409.7,317.5 Q409.0,312.7 411.5,308.4" fill="none" stroke="#111" stroke-width="0.85"/>
<path d="M411.4,317.2 Q412.0,312.4 415.6,309.2" fill="none" stroke="#111" stroke-width="0.85"/>
<path d="M413.1,317.5 Q415.0,313.2 419.2,311.5" fill="none" stroke="#111" stroke-width="0.85"/>
<path d="M414.6,318.6 Q417.6,315.1 422.1,315.0" fill="none" stroke="#111" stroke-width="0.85"/>
<path d="M415.8,320.1 Q419.6,317.9 424.0,319.5" fill="none" stroke="#111" stroke-width="0.85"/>
<path d="M416.6,322.1 Q420.8,321.3 424.6,324.4" fill="none" stroke="#111" stroke-width="0.85"/>
<circle cx="411.4" cy="328.9" r="1.0" fill="#fff" stroke="#222" stroke-width="0.7"/>
<circle cx="408.5" cy="326.6" r="1.0" fill="#fff" stroke="#222" stroke-width="0.7"/>
<circle cx="408.5" cy="322.0" r="1.0" fill="#fff" stroke="#222" stroke-width="0.7"/>
<circle cx="411.4" cy="319.7" r="1.0" fill="#fff" stroke="#222" stroke-width="0.7"/>
<circle cx="414.3" cy="322.0" r="1.0" fill="#fff" stroke="#222" stroke-width="0.7"/>
<circle cx="414.3" cy="326.6" r="1.0" fill="#fff" stroke="#222" stroke-width="0.7"/>
<polyline points="359.2,351.6 360.6,354.2 357.5,355.7 353.8,357.1 354.6,360.0 352.6,362.8 355.5,365.3 353.4,367.3 356.3,369.4 355.1,371.8 359.2,373.9 362.8,375.1 365.7,376.5 371.4,378.2 375.9,379.6 381.1,380.0 375.9,384.1 380.7,384.7 383.7,386.4 394.4,386.8 384.5,388.4 396.0,388.8 413.4,389.4 391.9,390.1 371.4,390.5 351.0,390.9 338.7,391.5 336.2,392.9 335.2,395.6 334.8,400.0 334.8,404.2 327.3,405.0 322.3,405.6 316.7,406.8 313.9,409.7 312.6,413.1 312.9,416.2 312.1,418.7 313.9,420.9 317.1,422.9 321.8,424.4 323.8,426.6 323.1,429.4 320.1,431.1 319.4,432.6 321.8,434.4 326.3,435.6 320.6,437.3 324.6,438.3 327.6,440.1 322.3,441.6 318.4,443.1 322.3,443.8 325.1,445.1 322.1,447.1 317.6,447.8 322.3,448.8 324.6,450.0 321.1,451.3 317.1,453.3 318.4,455.0 323.6,455.8 326.8,456.8 323.1,458.5 319.9,460.5" fill="none" stroke="#1d6388" stroke-width="1.1" stroke-linejoin="round" />
<line x1="68.6" y1="270.2" x2="177.4" y2="270.2" stroke="#6a2c27" stroke-width="0.8" />
<line x1="86.7" y1="267.6" x2="86.7" y2="270.6" stroke="#6a2c27" stroke-width="0.7" />
<line x1="123.0" y1="267.6" x2="123.0" y2="270.6" stroke="#6a2c27" stroke-width="0.7" />
<line x1="159.3" y1="267.6" x2="159.3" y2="270.6" stroke="#6a2c27" stroke-width="0.7" />
<line x1="68.6" y1="264.8" x2="68.6" y2="270.6" stroke="#6a2c27" stroke-width="0.8" />
<line x1="104.9" y1="264.8" x2="104.9" y2="270.6" stroke="#6a2c27" stroke-width="0.8" />
<line x1="141.1" y1="264.8" x2="141.1" y2="270.6" stroke="#6a2c27" stroke-width="0.8" />
<line x1="177.4" y1="264.8" x2="177.4" y2="270.6" stroke="#6a2c27" stroke-width="0.8" />
<text x="68.6" y="261.7" font-size="10.0" fill="#6a2c27" text-anchor="middle" font-weight="normal" font-style="normal" >0</text>
<text x="104.9" y="261.7" font-size="10.0" fill="#6a2c27" text-anchor="middle" font-weight="normal" font-style="normal" >0.1</text>
<text x="141.1" y="261.7" font-size="10.0" fill="#6a2c27" text-anchor="middle" font-weight="normal" font-style="normal" >0.2</text>
<text x="177.4" y="261.7" font-size="10.0" fill="#6a2c27" text-anchor="middle" font-weight="normal" font-style="normal" >0.3</text>
<text x="89.4" y="229.7" font-size="12.2" fill="#000" text-anchor="start" font-weight="bold" font-style="normal" >b</text>
<text x="103.4" y="229.6" font-size="10.82" fill="#6a2c27" text-anchor="start" font-weight="normal" font-style="normal" >Opal AR</text>
<text x="98.0" y="243.6" font-size="10.72" fill="#6a2c27">(g/cm<tspan font-size="0.6em" dy="-0.58em">2</tspan><tspan dy="0.348em">/kyr)</tspan></text>
<text x="106.5" y="283.0" font-size="8.66" fill="#6a2c27" text-anchor="start" font-weight="normal" font-style="normal" >Salamy &amp; Zachos</text>
<text x="176.2" y="293.8" font-size="8.6" fill="#6a2c27" text-anchor="end" font-weight="normal" font-style="normal" >(1999)</text>
<line x1="91.3" y1="325.1" x2="117.6" y2="325.1" stroke="#c5852f" stroke-width="0.7" stroke-dasharray="1.6,1.2"/>
<text x="124.2" y="329.7" font-size="7.15" fill="#c5852f" text-anchor="start" font-weight="normal" font-style="normal" >end of data</text>
<text x="136.0" y="360.3" font-size="9.8" fill="#6a2c27" text-anchor="middle" font-weight="normal" font-style="normal" >744</text>
<text x="177.4" y="384.9" font-size="9.8" fill="#c5852f" text-anchor="end" font-weight="normal" font-style="normal" >1218</text>
<path d="M108.5,385.3 L158.4,385.3 L158.4,381.6" fill="none" stroke="#c2a576" stroke-width="0.9"/>
<line x1="68.2" y1="487.1" x2="167.6" y2="487.1" stroke="#c5852f" stroke-width="0.8" />
<line x1="68.2" y1="486.7" x2="68.2" y2="491.7" stroke="#c5852f" stroke-width="0.8" />
<line x1="84.8" y1="486.7" x2="84.8" y2="491.7" stroke="#c5852f" stroke-width="0.8" />
<line x1="101.3" y1="486.7" x2="101.3" y2="491.7" stroke="#c5852f" stroke-width="0.8" />
<line x1="117.9" y1="486.7" x2="117.9" y2="491.7" stroke="#c5852f" stroke-width="0.8" />
<line x1="134.5" y1="486.7" x2="134.5" y2="491.7" stroke="#c5852f" stroke-width="0.8" />
<line x1="151.0" y1="486.7" x2="151.0" y2="491.7" stroke="#c5852f" stroke-width="0.8" />
<line x1="167.6" y1="486.7" x2="167.6" y2="491.7" stroke="#c5852f" stroke-width="0.8" />
<text x="68.2" y="503.9" font-size="10.0" fill="#c5852f" text-anchor="middle" font-weight="normal" font-style="normal" >0</text>
<text x="101.3" y="503.9" font-size="10.0" fill="#c5852f" text-anchor="middle" font-weight="normal" font-style="normal" >2000</text>
<text x="134.5" y="503.9" font-size="10.0" fill="#c5852f" text-anchor="middle" font-weight="normal" font-style="normal" >4000</text>
<text x="167.6" y="503.9" font-size="10.0" fill="#c5852f" text-anchor="middle" font-weight="normal" font-style="normal" >6000</text>
<text x="73.6" y="481.4" font-size="8.68" fill="#c5852f" text-anchor="start" font-weight="normal" font-style="normal" >Coxall &amp; Wilson (2011)</text>
<text x="53.0" y="518.7" font-size="12.2" fill="#000" text-anchor="start" font-weight="bold" font-style="normal" >c</text>
<text x="63.1" y="518.6" font-size="10.92" fill="#c5852f">BFAR &gt;150µm (cm<tspan font-size="0.6em" dy="-0.58em">2</tspan><tspan dy="0.348em">/kyr)</tspan></text>
<path d="M86.4,436.8 L86.4,429.4 L80.6,429.4" fill="none" stroke="#111" stroke-width="0.9"/>
<polygon points="78.8,429.4 82.2,427.5 82.2,431.3" fill="#111" />
<text x="91.0" y="437.4" font-size="8.22" fill="#000" text-anchor="start" font-weight="normal" font-style="italic" >T D. saipanensis</text>
<text x="128.6" y="453.9" font-size="9.31" fill="#000" text-anchor="start" font-weight="normal" font-style="normal" >Late Eocene</text>
<text x="155.9" y="463.4" font-size="9.3" fill="#000" text-anchor="middle" font-weight="normal" font-style="normal" >event</text>
<line x1="182.4" y1="428.4" x2="171.9" y2="442.0" stroke="#222" stroke-width="0.8" />
<polygon points="100.5,442.3 103.7,447.9 108.8,443.9 106.5,449.9 112.8,451.4 106.7,453.4 109.4,459.2 104.0,455.7 101.2,461.4 100.6,455.0 94.3,456.4 99.0,451.9 94.0,447.9 100.4,448.8" fill="#fff" stroke="#333" stroke-width="0.6" stroke-linejoin="miter"/>
<line x1="103.0" y1="451.8" x2="103.7" y2="447.9" stroke="#333" stroke-width="0.5" />
<line x1="103.0" y1="451.8" x2="106.5" y2="449.9" stroke="#333" stroke-width="0.5" />
<line x1="103.0" y1="451.8" x2="106.7" y2="453.4" stroke="#333" stroke-width="0.5" />
<line x1="103.0" y1="451.8" x2="104.0" y2="455.7" stroke="#333" stroke-width="0.5" />
<line x1="103.0" y1="451.8" x2="100.6" y2="455.0" stroke="#333" stroke-width="0.5" />
<line x1="103.0" y1="451.8" x2="99.0" y2="451.9" stroke="#333" stroke-width="0.5" />
<line x1="103.0" y1="451.8" x2="100.4" y2="448.8" stroke="#333" stroke-width="0.5" />
<line x1="189.9" y1="270.1" x2="299.0" y2="270.1" stroke="#333" stroke-width="0.8" />
<line x1="200.8" y1="267.5" x2="200.8" y2="270.5" stroke="#333" stroke-width="0.7" />
<line x1="222.6" y1="267.5" x2="222.6" y2="270.5" stroke="#333" stroke-width="0.7" />
<line x1="244.4" y1="267.5" x2="244.4" y2="270.5" stroke="#333" stroke-width="0.7" />
<line x1="266.3" y1="267.5" x2="266.3" y2="270.5" stroke="#333" stroke-width="0.7" />
<line x1="288.1" y1="267.5" x2="288.1" y2="270.5" stroke="#333" stroke-width="0.7" />
<line x1="189.9" y1="264.7" x2="189.9" y2="270.5" stroke="#333" stroke-width="0.8" />
<line x1="211.7" y1="264.7" x2="211.7" y2="270.5" stroke="#333" stroke-width="0.8" />
<line x1="233.5" y1="264.7" x2="233.5" y2="270.5" stroke="#333" stroke-width="0.8" />
<line x1="255.4" y1="264.7" x2="255.4" y2="270.5" stroke="#333" stroke-width="0.8" />
<line x1="277.2" y1="264.7" x2="277.2" y2="270.5" stroke="#333" stroke-width="0.8" />
<line x1="299.0" y1="264.7" x2="299.0" y2="270.5" stroke="#333" stroke-width="0.8" />
<text x="189.9" y="261.7" font-size="10.0" fill="#000" text-anchor="middle" font-weight="normal" font-style="normal" >0</text>
<text x="211.7" y="261.7" font-size="10.0" fill="#000" text-anchor="middle" font-weight="normal" font-style="normal" >5</text>
<text x="233.5" y="261.7" font-size="10.0" fill="#000" text-anchor="middle" font-weight="normal" font-style="normal" >10</text>
<text x="255.4" y="261.7" font-size="10.0" fill="#000" text-anchor="middle" font-weight="normal" font-style="normal" >15</text>
<text x="277.2" y="261.7" font-size="10.0" fill="#000" text-anchor="middle" font-weight="normal" font-style="normal" >20</text>
<text x="299.0" y="261.7" font-size="10.0" fill="#000" text-anchor="middle" font-weight="normal" font-style="normal" >25</text>
<text x="193.9" y="229.7" font-size="12.2" fill="#000" text-anchor="start" font-weight="bold" font-style="normal" >d</text>
<text x="208.5" y="229.7" font-size="10.85"><tspan font-style="italic">C. subdistichus</tspan> gr.</text>
<text x="244.9" y="241.9" font-size="10.8" fill="#000" text-anchor="middle" font-weight="normal" font-style="normal" >%</text>
<line x1="203.1" y1="280.0" x2="221.7" y2="280.0" stroke="#2a309c" stroke-width="0.9" stroke-opacity="0.6"/>
<circle cx="212.4" cy="280.0" r="2.6" fill="#2a309c"/>
<text x="225.0" y="283.5" font-size="10.0" fill="#2a309c" text-anchor="start" font-weight="normal" font-style="normal" >U1509</text>
<line x1="203.1" y1="290.4" x2="221.7" y2="290.4" stroke="#5fd09a" stroke-width="0.9" stroke-opacity="0.6"/>
<polygon points="212.4,287.4 215.3,292.6 209.5,292.6" fill="#5fd09a" />
<text x="225.0" y="293.9" font-size="10.0" fill="#5fd09a" text-anchor="start" font-weight="normal" font-style="normal" >756C</text>
<line x1="203.1" y1="300.7" x2="221.7" y2="300.7" stroke="#e1261c" stroke-width="0.9" stroke-opacity="0.6"/>
<rect x="210.2" y="298.5" width="4.4" height="4.4" fill="#e1261c" stroke="none" stroke-width="1" />
<text x="225.0" y="304.2" font-size="10.0" fill="#e1261c" text-anchor="start" font-weight="normal" font-style="normal" >1209</text>
<line x1="203.1" y1="311.1" x2="221.7" y2="311.1" stroke="#f28c1e" stroke-width="0.9" stroke-opacity="0.6"/>
<polygon points="212.4,308.1 215.4,311.1 212.4,314.1 209.4,311.1" fill="#f28c1e" />
<text x="225.0" y="314.6" font-size="10.0" fill="#f28c1e" text-anchor="start" font-weight="normal" font-style="normal" >U1411B</text>
<line x1="219.3" y1="487.3" x2="327.9" y2="487.3" stroke="#333" stroke-width="0.8" />
<line x1="219.3" y1="486.9" x2="219.3" y2="489.7" stroke="#333" stroke-width="0.7" />
<line x1="243.5" y1="486.9" x2="243.5" y2="489.7" stroke="#333" stroke-width="0.7" />
<line x1="267.6" y1="486.9" x2="267.6" y2="489.7" stroke="#333" stroke-width="0.7" />
<line x1="291.7" y1="486.9" x2="291.7" y2="489.7" stroke="#333" stroke-width="0.7" />
<line x1="315.9" y1="486.9" x2="315.9" y2="489.7" stroke="#333" stroke-width="0.7" />
<line x1="231.4" y1="486.9" x2="231.4" y2="491.7" stroke="#333" stroke-width="0.8" />
<line x1="255.5" y1="486.9" x2="255.5" y2="491.7" stroke="#333" stroke-width="0.8" />
<line x1="279.7" y1="486.9" x2="279.7" y2="491.7" stroke="#333" stroke-width="0.8" />
<line x1="303.8" y1="486.9" x2="303.8" y2="491.7" stroke="#333" stroke-width="0.8" />
<line x1="327.9" y1="486.9" x2="327.9" y2="491.7" stroke="#333" stroke-width="0.8" />
<text x="231.4" y="503.4" font-size="10.0" fill="#000" text-anchor="middle" font-weight="normal" font-style="normal" >4</text>
<text x="255.5" y="503.4" font-size="10.0" fill="#000" text-anchor="middle" font-weight="normal" font-style="normal" >5</text>
<text x="279.7" y="503.4" font-size="10.0" fill="#000" text-anchor="middle" font-weight="normal" font-style="normal" >6</text>
<text x="303.8" y="503.4" font-size="10.0" fill="#000" text-anchor="middle" font-weight="normal" font-style="normal" >7</text>
<text x="327.9" y="503.4" font-size="10.0" fill="#000" text-anchor="middle" font-weight="normal" font-style="normal" >8</text>
<text x="226.6" y="484.4" font-size="7.12" fill="#000" text-anchor="start" font-weight="normal" font-style="normal" >Mean + stand dev. error bars</text>
<text x="235.9" y="518.0" font-size="12.2" fill="#000" text-anchor="start" font-weight="bold" font-style="normal" >e</text>
<text x="251.1" y="517.9" font-size="10.94" fill="#000" text-anchor="start" font-weight="normal" font-style="normal" >Length (µm)</text>
<line x1="322.1" y1="270.2" x2="382.7" y2="270.2" stroke="#333" stroke-width="0.8" />
<line x1="322.1" y1="267.6" x2="322.1" y2="270.6" stroke="#333" stroke-width="0.7" />
<line x1="346.3" y1="267.6" x2="346.3" y2="270.6" stroke="#333" stroke-width="0.7" />
<line x1="370.6" y1="267.6" x2="370.6" y2="270.6" stroke="#333" stroke-width="0.7" />
<line x1="334.2" y1="264.8" x2="334.2" y2="270.6" stroke="#333" stroke-width="0.8" />
<line x1="358.4" y1="264.8" x2="358.4" y2="270.6" stroke="#333" stroke-width="0.8" />
<line x1="382.7" y1="264.8" x2="382.7" y2="270.6" stroke="#333" stroke-width="0.8" />
<text x="334.2" y="261.7" font-size="10.0" fill="#000" text-anchor="middle" font-weight="normal" font-style="normal" >5</text>
<text x="358.4" y="261.7" font-size="10.0" fill="#000" text-anchor="middle" font-weight="normal" font-style="normal" >6</text>
<text x="380.1" y="261.7" font-size="10.0" fill="#000" text-anchor="middle" font-weight="normal" font-style="normal" >7</text>
<text x="349.4" y="229.7" font-size="12.2" fill="#000" text-anchor="middle" font-weight="bold" font-style="normal" >f</text>
<text x="323.7" y="241.6" font-size="10.81" fill="#000" text-anchor="start" font-weight="normal" font-style="normal" >Length (µm)</text>
<text x="322.8" y="281.2" font-size="7.21" fill="#000" text-anchor="start" font-weight="normal" font-style="normal" >Stand dev. error bars</text>
<line x1="298.6" y1="529.9" x2="415.8" y2="529.9" stroke="#1d6388" stroke-width="0.7" />
<line x1="298.6" y1="529.9" x2="298.6" y2="531.4" stroke="#1d6388" stroke-width="0.5" />
<line x1="300.9" y1="529.9" x2="300.9" y2="531.4" stroke="#1d6388" stroke-width="0.5" />
<line x1="303.3" y1="529.9" x2="303.3" y2="531.4" stroke="#1d6388" stroke-width="0.5" />
<line x1="305.6" y1="529.9" x2="305.6" y2="531.4" stroke="#1d6388" stroke-width="0.5" />
<line x1="308.0" y1="529.9" x2="308.0" y2="531.4" stroke="#1d6388" stroke-width="0.5" />
<line x1="310.3" y1="529.9" x2="310.3" y2="531.4" stroke="#1d6388" stroke-width="0.5" />
<line x1="312.7" y1="529.9" x2="312.7" y2="531.4" stroke="#1d6388" stroke-width="0.5" />
<line x1="315.0" y1="529.9" x2="315.0" y2="531.4" stroke="#1d6388" stroke-width="0.5" />
<line x1="317.4" y1="529.9" x2="317.4" y2="531.4" stroke="#1d6388" stroke-width="0.5" />
<line x1="319.7" y1="529.9" x2="319.7" y2="531.4" stroke="#1d6388" stroke-width="0.5" />
<line x1="322.0" y1="529.9" x2="322.0" y2="531.4" stroke="#1d6388" stroke-width="0.5" />
<line x1="324.4" y1="529.9" x2="324.4" y2="531.4" stroke="#1d6388" stroke-width="0.5" />
<line x1="326.7" y1="529.9" x2="326.7" y2="531.4" stroke="#1d6388" stroke-width="0.5" />
<line x1="329.1" y1="529.9" x2="329.1" y2="531.4" stroke="#1d6388" stroke-width="0.5" />
<line x1="331.4" y1="529.9" x2="331.4" y2="531.4" stroke="#1d6388" stroke-width="0.5" />
<line x1="333.8" y1="529.9" x2="333.8" y2="531.4" stroke="#1d6388" stroke-width="0.5" />
<line x1="336.1" y1="529.9" x2="336.1" y2="531.4" stroke="#1d6388" stroke-width="0.5" />
<line x1="338.4" y1="529.9" x2="338.4" y2="531.4" stroke="#1d6388" stroke-width="0.5" />
<line x1="340.8" y1="529.9" x2="340.8" y2="531.4" stroke="#1d6388" stroke-width="0.5" />
<line x1="343.1" y1="529.9" x2="343.1" y2="531.4" stroke="#1d6388" stroke-width="0.5" />
<line x1="345.5" y1="529.9" x2="345.5" y2="531.4" stroke="#1d6388" stroke-width="0.5" />
<line x1="347.8" y1="529.9" x2="347.8" y2="531.4" stroke="#1d6388" stroke-width="0.5" />
<line x1="350.2" y1="529.9" x2="350.2" y2="531.4" stroke="#1d6388" stroke-width="0.5" />
<line x1="352.5" y1="529.9" x2="352.5" y2="531.4" stroke="#1d6388" stroke-width="0.5" />
<line x1="354.9" y1="529.9" x2="354.9" y2="531.4" stroke="#1d6388" stroke-width="0.5" />
<line x1="357.2" y1="529.9" x2="357.2" y2="531.4" stroke="#1d6388" stroke-width="0.5" />
<line x1="359.5" y1="529.9" x2="359.5" y2="531.4" stroke="#1d6388" stroke-width="0.5" />
<line x1="361.9" y1="529.9" x2="361.9" y2="531.4" stroke="#1d6388" stroke-width="0.5" />
<line x1="364.2" y1="529.9" x2="364.2" y2="531.4" stroke="#1d6388" stroke-width="0.5" />
<line x1="366.6" y1="529.9" x2="366.6" y2="531.4" stroke="#1d6388" stroke-width="0.5" />
<line x1="368.9" y1="529.9" x2="368.9" y2="531.4" stroke="#1d6388" stroke-width="0.5" />
<line x1="371.3" y1="529.9" x2="371.3" y2="531.4" stroke="#1d6388" stroke-width="0.5" />
<line x1="373.6" y1="529.9" x2="373.6" y2="531.4" stroke="#1d6388" stroke-width="0.5" />
<line x1="376.0" y1="529.9" x2="376.0" y2="531.4" stroke="#1d6388" stroke-width="0.5" />
<line x1="378.3" y1="529.9" x2="378.3" y2="531.4" stroke="#1d6388" stroke-width="0.5" />
<line x1="380.6" y1="529.9" x2="380.6" y2="531.4" stroke="#1d6388" stroke-width="0.5" />
<line x1="383.0" y1="529.9" x2="383.0" y2="531.4" stroke="#1d6388" stroke-width="0.5" />
<line x1="385.3" y1="529.9" x2="385.3" y2="531.4" stroke="#1d6388" stroke-width="0.5" />
<line x1="387.7" y1="529.9" x2="387.7" y2="531.4" stroke="#1d6388" stroke-width="0.5" />
<line x1="390.0" y1="529.9" x2="390.0" y2="531.4" stroke="#1d6388" stroke-width="0.5" />
<line x1="392.4" y1="529.9" x2="392.4" y2="531.4" stroke="#1d6388" stroke-width="0.5" />
<line x1="394.7" y1="529.9" x2="394.7" y2="531.4" stroke="#1d6388" stroke-width="0.5" />
<line x1="397.0" y1="529.9" x2="397.0" y2="531.4" stroke="#1d6388" stroke-width="0.5" />
<line x1="399.4" y1="529.9" x2="399.4" y2="531.4" stroke="#1d6388" stroke-width="0.5" />
<line x1="401.7" y1="529.9" x2="401.7" y2="531.4" stroke="#1d6388" stroke-width="0.5" />
<line x1="404.1" y1="529.9" x2="404.1" y2="531.4" stroke="#1d6388" stroke-width="0.5" />
<line x1="406.4" y1="529.9" x2="406.4" y2="531.4" stroke="#1d6388" stroke-width="0.5" />
<line x1="408.8" y1="529.9" x2="408.8" y2="531.4" stroke="#1d6388" stroke-width="0.5" />
<line x1="411.1" y1="529.9" x2="411.1" y2="531.4" stroke="#1d6388" stroke-width="0.5" />
<line x1="413.5" y1="529.9" x2="413.5" y2="531.4" stroke="#1d6388" stroke-width="0.5" />
<line x1="415.8" y1="529.9" x2="415.8" y2="531.4" stroke="#1d6388" stroke-width="0.5" />
<line x1="298.6" y1="529.9" x2="298.6" y2="532.4" stroke="#1d6388" stroke-width="0.7" />
<text x="298.6" y="541.2" font-size="9.7" fill="#1d6388" text-anchor="middle" font-weight="normal" font-style="normal" >3.4</text>
<line x1="322.0" y1="529.9" x2="322.0" y2="532.4" stroke="#1d6388" stroke-width="0.7" />
<text x="322.0" y="541.2" font-size="9.7" fill="#1d6388" text-anchor="middle" font-weight="normal" font-style="normal" >3.8</text>
<line x1="345.5" y1="529.9" x2="345.5" y2="532.4" stroke="#1d6388" stroke-width="0.7" />
<text x="345.5" y="541.2" font-size="9.7" fill="#1d6388" text-anchor="middle" font-weight="normal" font-style="normal" >4.2</text>
<line x1="368.9" y1="529.9" x2="368.9" y2="532.4" stroke="#1d6388" stroke-width="0.7" />
<text x="368.9" y="541.2" font-size="9.7" fill="#1d6388" text-anchor="middle" font-weight="normal" font-style="normal" >4.6</text>
<line x1="392.4" y1="529.9" x2="392.4" y2="532.4" stroke="#1d6388" stroke-width="0.7" />
<text x="392.4" y="541.2" font-size="9.7" fill="#1d6388" text-anchor="middle" font-weight="normal" font-style="normal" >5.0</text>
<line x1="415.8" y1="529.9" x2="415.8" y2="532.4" stroke="#1d6388" stroke-width="0.7" />
<text x="415.8" y="541.2" font-size="9.7" fill="#1d6388" text-anchor="middle" font-weight="normal" font-style="normal" >5.4</text>
<text x="344.9" y="523.4" font-size="8.68" fill="#1d6388" text-anchor="start" font-weight="normal" font-style="normal" >Taylor et al. (2023)</text>
<text x="327.6" y="556.6" font-size="12.2" fill="#000" text-anchor="middle" font-weight="bold" font-style="normal" >g</text>
<text x="342.8" y="556.6" font-size="10.78" fill="#1d6388" text-anchor="start" font-weight="normal" font-style="normal" >CCD (km)</text>
<line x1="405.4" y1="270.1" x2="512.7" y2="270.1" stroke="#333" stroke-width="0.8" />
<line x1="405.4" y1="267.5" x2="405.4" y2="270.5" stroke="#333" stroke-width="0.7" />
<line x1="410.7" y1="267.5" x2="410.7" y2="270.5" stroke="#333" stroke-width="0.7" />
<line x1="416.1" y1="267.5" x2="416.1" y2="270.5" stroke="#333" stroke-width="0.7" />
<line x1="421.5" y1="267.5" x2="421.5" y2="270.5" stroke="#333" stroke-width="0.7" />
<line x1="426.8" y1="267.5" x2="426.8" y2="270.5" stroke="#333" stroke-width="0.7" />
<line x1="432.2" y1="267.5" x2="432.2" y2="270.5" stroke="#333" stroke-width="0.7" />
<line x1="437.6" y1="267.5" x2="437.6" y2="270.5" stroke="#333" stroke-width="0.7" />
<line x1="442.9" y1="267.5" x2="442.9" y2="270.5" stroke="#333" stroke-width="0.7" />
<line x1="448.3" y1="267.5" x2="448.3" y2="270.5" stroke="#333" stroke-width="0.7" />
<line x1="453.7" y1="267.5" x2="453.7" y2="270.5" stroke="#333" stroke-width="0.7" />
<line x1="459.0" y1="267.5" x2="459.0" y2="270.5" stroke="#333" stroke-width="0.7" />
<line x1="464.4" y1="267.5" x2="464.4" y2="270.5" stroke="#333" stroke-width="0.7" />
<line x1="469.8" y1="267.5" x2="469.8" y2="270.5" stroke="#333" stroke-width="0.7" />
<line x1="475.1" y1="267.5" x2="475.1" y2="270.5" stroke="#333" stroke-width="0.7" />
<line x1="480.5" y1="267.5" x2="480.5" y2="270.5" stroke="#333" stroke-width="0.7" />
<line x1="485.8" y1="267.5" x2="485.8" y2="270.5" stroke="#333" stroke-width="0.7" />
<line x1="491.2" y1="267.5" x2="491.2" y2="270.5" stroke="#333" stroke-width="0.7" />
<line x1="496.6" y1="267.5" x2="496.6" y2="270.5" stroke="#333" stroke-width="0.7" />
<line x1="501.9" y1="267.5" x2="501.9" y2="270.5" stroke="#333" stroke-width="0.7" />
<line x1="507.3" y1="267.5" x2="507.3" y2="270.5" stroke="#333" stroke-width="0.7" />
<line x1="512.7" y1="267.5" x2="512.7" y2="270.5" stroke="#333" stroke-width="0.7" />
<line x1="405.4" y1="264.7" x2="405.4" y2="270.5" stroke="#333" stroke-width="0.8" />
<line x1="432.2" y1="264.7" x2="432.2" y2="270.5" stroke="#333" stroke-width="0.8" />
<line x1="459.0" y1="264.7" x2="459.0" y2="270.5" stroke="#333" stroke-width="0.8" />
<line x1="485.8" y1="264.7" x2="485.8" y2="270.5" stroke="#333" stroke-width="0.8" />
<line x1="512.7" y1="264.7" x2="512.7" y2="270.5" stroke="#333" stroke-width="0.8" />
<text x="407.9" y="261.7" font-size="10.0" fill="#000" text-anchor="middle" font-weight="normal" font-style="normal" >-0.5</text>
<text x="432.2" y="261.7" font-size="10.0" fill="#000" text-anchor="middle" font-weight="normal" font-style="normal" >0</text>
<text x="459.0" y="261.7" font-size="10.0" fill="#000" text-anchor="middle" font-weight="normal" font-style="normal" >0.5</text>
<text x="485.2" y="261.7" font-size="10.0" fill="#000" text-anchor="middle" font-weight="normal" font-style="normal" >1</text>
<text x="510.7" y="261.7" font-size="10.0" fill="#000" text-anchor="middle" font-weight="normal" font-style="normal" >1.5</text>
<text x="391.7" y="241.2" font-size="10.81" fill="#000">Pacific Ocean δ<tspan font-size="0.6em" dy="-0.58em">18</tspan><tspan dy="0.348em">O (‰)</tspan></text>
<text x="514.8" y="229.7" font-size="12.2" fill="#000" text-anchor="middle" font-weight="bold" font-style="normal" >h</text>
<line x1="527.9" y1="270.1" x2="635.9" y2="270.1" stroke="#333" stroke-width="0.8" />
<line x1="527.9" y1="267.5" x2="527.9" y2="270.5" stroke="#333" stroke-width="0.7" />
<line x1="533.3" y1="267.5" x2="533.3" y2="270.5" stroke="#333" stroke-width="0.7" />
<line x1="538.7" y1="267.5" x2="538.7" y2="270.5" stroke="#333" stroke-width="0.7" />
<line x1="544.1" y1="267.5" x2="544.1" y2="270.5" stroke="#333" stroke-width="0.7" />
<line x1="549.5" y1="267.5" x2="549.5" y2="270.5" stroke="#333" stroke-width="0.7" />
<line x1="554.9" y1="267.5" x2="554.9" y2="270.5" stroke="#333" stroke-width="0.7" />
<line x1="560.3" y1="267.5" x2="560.3" y2="270.5" stroke="#333" stroke-width="0.7" />
<line x1="565.7" y1="267.5" x2="565.7" y2="270.5" stroke="#333" stroke-width="0.7" />
<line x1="571.1" y1="267.5" x2="571.1" y2="270.5" stroke="#333" stroke-width="0.7" />
<line x1="576.5" y1="267.5" x2="576.5" y2="270.5" stroke="#333" stroke-width="0.7" />
<line x1="581.9" y1="267.5" x2="581.9" y2="270.5" stroke="#333" stroke-width="0.7" />
<line x1="587.3" y1="267.5" x2="587.3" y2="270.5" stroke="#333" stroke-width="0.7" />
<line x1="592.7" y1="267.5" x2="592.7" y2="270.5" stroke="#333" stroke-width="0.7" />
<line x1="598.1" y1="267.5" x2="598.1" y2="270.5" stroke="#333" stroke-width="0.7" />
<line x1="603.5" y1="267.5" x2="603.5" y2="270.5" stroke="#333" stroke-width="0.7" />
<line x1="608.9" y1="267.5" x2="608.9" y2="270.5" stroke="#333" stroke-width="0.7" />
<line x1="614.3" y1="267.5" x2="614.3" y2="270.5" stroke="#333" stroke-width="0.7" />
<line x1="619.7" y1="267.5" x2="619.7" y2="270.5" stroke="#333" stroke-width="0.7" />
<line x1="625.1" y1="267.5" x2="625.1" y2="270.5" stroke="#333" stroke-width="0.7" />
<line x1="630.5" y1="267.5" x2="630.5" y2="270.5" stroke="#333" stroke-width="0.7" />
<line x1="635.9" y1="267.5" x2="635.9" y2="270.5" stroke="#333" stroke-width="0.7" />
<line x1="527.9" y1="264.7" x2="527.9" y2="270.5" stroke="#333" stroke-width="0.8" />
<line x1="554.9" y1="264.7" x2="554.9" y2="270.5" stroke="#333" stroke-width="0.8" />
<line x1="581.9" y1="264.7" x2="581.9" y2="270.5" stroke="#333" stroke-width="0.8" />
<line x1="608.9" y1="264.7" x2="608.9" y2="270.5" stroke="#333" stroke-width="0.8" />
<line x1="635.9" y1="264.7" x2="635.9" y2="270.5" stroke="#333" stroke-width="0.8" />
<text x="528.5" y="261.7" font-size="10.0" fill="#000" text-anchor="middle" font-weight="normal" font-style="normal" >1</text>
<text x="555.9" y="261.7" font-size="10.0" fill="#000" text-anchor="middle" font-weight="normal" font-style="normal" >1.5</text>
<text x="582.4" y="261.7" font-size="10.0" fill="#000" text-anchor="middle" font-weight="normal" font-style="normal" >2</text>
<text x="609.9" y="261.7" font-size="10.0" fill="#000" text-anchor="middle" font-weight="normal" font-style="normal" >2.5</text>
<text x="636.5" y="261.7" font-size="10.0" fill="#000" text-anchor="middle" font-weight="normal" font-style="normal" >3</text>
<text x="526.2" y="241.2" font-size="10.85" fill="#000">Pacific Ocean δ<tspan font-size="0.6em" dy="-0.58em">13</tspan><tspan dy="0.348em">C (‰)</tspan></text>
<line x1="432.4" y1="487.3" x2="540.3" y2="487.3" stroke="#333" stroke-width="0.8" />
<line x1="432.4" y1="486.9" x2="432.4" y2="489.9" stroke="#333" stroke-width="0.7" />
<line x1="437.8" y1="486.9" x2="437.8" y2="489.9" stroke="#333" stroke-width="0.7" />
<line x1="443.2" y1="486.9" x2="443.2" y2="489.9" stroke="#333" stroke-width="0.7" />
<line x1="448.6" y1="486.9" x2="448.6" y2="489.9" stroke="#333" stroke-width="0.7" />
<line x1="454.0" y1="486.9" x2="454.0" y2="489.9" stroke="#333" stroke-width="0.7" />
<line x1="459.4" y1="486.9" x2="459.4" y2="489.9" stroke="#333" stroke-width="0.7" />
<line x1="464.8" y1="486.9" x2="464.8" y2="489.9" stroke="#333" stroke-width="0.7" />
<line x1="470.2" y1="486.9" x2="470.2" y2="489.9" stroke="#333" stroke-width="0.7" />
<line x1="475.6" y1="486.9" x2="475.6" y2="489.9" stroke="#333" stroke-width="0.7" />
<line x1="481.0" y1="486.9" x2="481.0" y2="489.9" stroke="#333" stroke-width="0.7" />
<line x1="486.4" y1="486.9" x2="486.4" y2="489.9" stroke="#333" stroke-width="0.7" />
<line x1="491.8" y1="486.9" x2="491.8" y2="489.9" stroke="#333" stroke-width="0.7" />
<line x1="497.2" y1="486.9" x2="497.2" y2="489.9" stroke="#333" stroke-width="0.7" />
<line x1="502.6" y1="486.9" x2="502.6" y2="489.9" stroke="#333" stroke-width="0.7" />
<line x1="508.0" y1="486.9" x2="508.0" y2="489.9" stroke="#333" stroke-width="0.7" />
<line x1="513.4" y1="486.9" x2="513.4" y2="489.9" stroke="#333" stroke-width="0.7" />
<line x1="518.7" y1="486.9" x2="518.7" y2="489.9" stroke="#333" stroke-width="0.7" />
<line x1="524.1" y1="486.9" x2="524.1" y2="489.9" stroke="#333" stroke-width="0.7" />
<line x1="529.5" y1="486.9" x2="529.5" y2="489.9" stroke="#333" stroke-width="0.7" />
<line x1="534.9" y1="486.9" x2="534.9" y2="489.9" stroke="#333" stroke-width="0.7" />
<line x1="540.3" y1="486.9" x2="540.3" y2="489.9" stroke="#333" stroke-width="0.7" />
<line x1="432.4" y1="486.9" x2="432.4" y2="491.9" stroke="#333" stroke-width="0.8" />
<line x1="459.4" y1="486.9" x2="459.4" y2="491.9" stroke="#333" stroke-width="0.8" />
<line x1="486.4" y1="486.9" x2="486.4" y2="491.9" stroke="#333" stroke-width="0.8" />
<line x1="513.4" y1="486.9" x2="513.4" y2="491.9" stroke="#333" stroke-width="0.8" />
<line x1="540.3" y1="486.9" x2="540.3" y2="491.9" stroke="#333" stroke-width="0.8" />
<text x="434.4" y="503.0" font-size="10.0" fill="#2f9c8c" text-anchor="middle" font-weight="normal" font-style="normal" >-0.5</text>
<text x="459.4" y="503.0" font-size="10.0" fill="#2f9c8c" text-anchor="middle" font-weight="normal" font-style="normal" >0</text>
<text x="487.2" y="503.0" font-size="10.0" fill="#2f9c8c" text-anchor="middle" font-weight="normal" font-style="normal" >0.5</text>
<text x="513.8" y="503.0" font-size="10.0" fill="#2f9c8c" text-anchor="middle" font-weight="normal" font-style="normal" >1</text>
<text x="541.7" y="503.0" font-size="10.0" fill="#2f9c8c" text-anchor="middle" font-weight="normal" font-style="normal" >1.5</text>
<text x="433.0" y="519.0" font-size="10.84" fill="#2f9c8c">Indian Ocean δ<tspan font-size="0.6em" dy="-0.58em">18</tspan><tspan dy="0.348em">O (‰)</tspan></text>
<line x1="588.3" y1="487.1" x2="670.0" y2="487.1" stroke="#333" stroke-width="0.8" />
<line x1="588.3" y1="486.7" x2="588.3" y2="489.7" stroke="#333" stroke-width="0.7" />
<line x1="593.8" y1="486.7" x2="593.8" y2="489.7" stroke="#333" stroke-width="0.7" />
<line x1="599.2" y1="486.7" x2="599.2" y2="489.7" stroke="#333" stroke-width="0.7" />
<line x1="604.6" y1="486.7" x2="604.6" y2="489.7" stroke="#333" stroke-width="0.7" />
<line x1="610.1" y1="486.7" x2="610.1" y2="489.7" stroke="#333" stroke-width="0.7" />
<line x1="615.5" y1="486.7" x2="615.5" y2="489.7" stroke="#333" stroke-width="0.7" />
<line x1="621.0" y1="486.7" x2="621.0" y2="489.7" stroke="#333" stroke-width="0.7" />
<line x1="626.4" y1="486.7" x2="626.4" y2="489.7" stroke="#333" stroke-width="0.7" />
<line x1="631.9" y1="486.7" x2="631.9" y2="489.7" stroke="#333" stroke-width="0.7" />
<line x1="637.3" y1="486.7" x2="637.3" y2="489.7" stroke="#333" stroke-width="0.7" />
<line x1="642.8" y1="486.7" x2="642.8" y2="489.7" stroke="#333" stroke-width="0.7" />
<line x1="648.2" y1="486.7" x2="648.2" y2="489.7" stroke="#333" stroke-width="0.7" />
<line x1="653.7" y1="486.7" x2="653.7" y2="489.7" stroke="#333" stroke-width="0.7" />
<line x1="659.1" y1="486.7" x2="659.1" y2="489.7" stroke="#333" stroke-width="0.7" />
<line x1="664.6" y1="486.7" x2="664.6" y2="489.7" stroke="#333" stroke-width="0.7" />
<line x1="670.0" y1="486.7" x2="670.0" y2="489.7" stroke="#333" stroke-width="0.7" />
<line x1="588.3" y1="486.7" x2="588.3" y2="491.7" stroke="#333" stroke-width="0.8" />
<line x1="615.5" y1="486.7" x2="615.5" y2="491.7" stroke="#333" stroke-width="0.8" />
<line x1="642.8" y1="486.7" x2="642.8" y2="491.7" stroke="#333" stroke-width="0.8" />
<line x1="670.0" y1="486.7" x2="670.0" y2="491.7" stroke="#333" stroke-width="0.8" />
<text x="589.6" y="503.0" font-size="10.0" fill="#2f9c8c" text-anchor="middle" font-weight="normal" font-style="normal" >0.5</text>
<text x="615.8" y="503.0" font-size="10.0" fill="#2f9c8c" text-anchor="middle" font-weight="normal" font-style="normal" >1</text>
<text x="644.5" y="503.0" font-size="10.0" fill="#2f9c8c" text-anchor="middle" font-weight="normal" font-style="normal" >1.5</text>
<text x="670.2" y="503.0" font-size="10.0" fill="#2f9c8c" text-anchor="middle" font-weight="normal" font-style="normal" >2</text>
<text x="557.3" y="518.7" font-size="12.2" fill="#000" text-anchor="middle" font-weight="bold" font-style="normal" >i</text>
<text x="571.6" y="518.8" font-size="10.8" fill="#2f9c8c">Indian Ocean δ<tspan font-size="0.6em" dy="-0.58em">13</tspan><tspan dy="0.348em">C (‰)</tspan></text>
<line x1="510.5" y1="464.4" x2="520.4" y2="464.4" stroke="#2f9c8c" stroke-width="0.8" stroke-dasharray="2,1.3"/>
<text x="524.9" y="465.6" font-size="7.6" fill="#000" text-anchor="start" font-weight="normal" font-style="normal" >benthic</text>
<text x="524.9" y="473.6" font-size="7.6" fill="#000" text-anchor="start" font-weight="normal" font-style="normal" >foraminifera</text>
<line x1="510.2" y1="480.2" x2="521.3" y2="480.2" stroke="#2f9c8c" stroke-width="0.8" />
<text x="524.9" y="481.6" font-size="7.6" fill="#000" text-anchor="start" font-weight="normal" font-style="normal" >bulk</text>
<text x="404.0" y="289.5" font-size="9.7" fill="#2a309c" text-anchor="start" font-weight="normal" font-style="normal" >U1509</text>
<text x="479.5" y="293.4" font-size="9.7" fill="#5fd09a" text-anchor="start" font-weight="normal" font-style="normal" >756C</text>
<text x="469.0" y="326.5" font-size="9.7" fill="#e1261c" text-anchor="start" font-weight="normal" font-style="normal" >1209</text>
<text x="531.3" y="295.4" font-size="9.7" fill="#2a309c" text-anchor="start" font-weight="normal" font-style="normal" >U1509</text>
<text x="630.2" y="306.6" font-size="9.7" fill="#5fd09a" text-anchor="start" font-weight="normal" font-style="normal" >756C</text>
<text x="555.3" y="377.6" font-size="9.7" fill="#e1261c" text-anchor="start" font-weight="normal" font-style="normal" >1209</text>
<text x="419.5" y="379.7" font-size="10.37" fill="#000" text-anchor="start" font-weight="bold" font-style="normal" >EOGM</text>
<line x1="454.7" y1="363.6" x2="454.7" y2="387.9" stroke="#555" stroke-width="0.9" />
<line x1="452.0" y1="363.6" x2="457.4" y2="363.6" stroke="#555" stroke-width="0.9" />
<line x1="452.0" y1="387.9" x2="457.4" y2="387.9" stroke="#555" stroke-width="0.9" />
<rect x="416.1" y="385.6" width="24.1" height="8.0" fill="#fff" stroke="#333" stroke-width="0.7" />
<text x="428.2" y="392.2" font-size="8.2" fill="#000" text-anchor="middle" font-weight="normal" font-style="normal" >EOIS</text>
<rect x="404.3" y="402.7" width="30.6" height="8.8" fill="#fff" stroke="#333" stroke-width="0.7" />
<text x="419.6" y="409.6" font-size="8.2" fill="#000" text-anchor="middle" font-weight="normal" font-style="normal" >Step 1?</text>
<text x="523.4" y="409.2" font-size="10.22" fill="#000" text-anchor="start" font-weight="bold" font-style="normal" >EOT</text>
<line x1="549.2" y1="388.4" x2="549.2" y2="429.0" stroke="#666" stroke-width="0.9" />
<line x1="546.2" y1="388.4" x2="552.2" y2="388.4" stroke="#666" stroke-width="0.9" />
<line x1="546.2" y1="429.0" x2="552.2" y2="429.0" stroke="#666" stroke-width="0.9" />
<text x="682.9" y="379.3" font-size="8.26" fill="#000" text-anchor="start" font-weight="normal" font-style="normal" transform="rotate(-90 682.9 379.3)" >CCD overdeepening</text>
<path d="M681,382.6 L681,388.2 L672,388.2" fill="none" stroke="#000" stroke-width="1.5"/>
<polygon points="669.8,388.2 674.2,385.4 674.2,391.0" fill="#000" />
</svg>
</body></html>
